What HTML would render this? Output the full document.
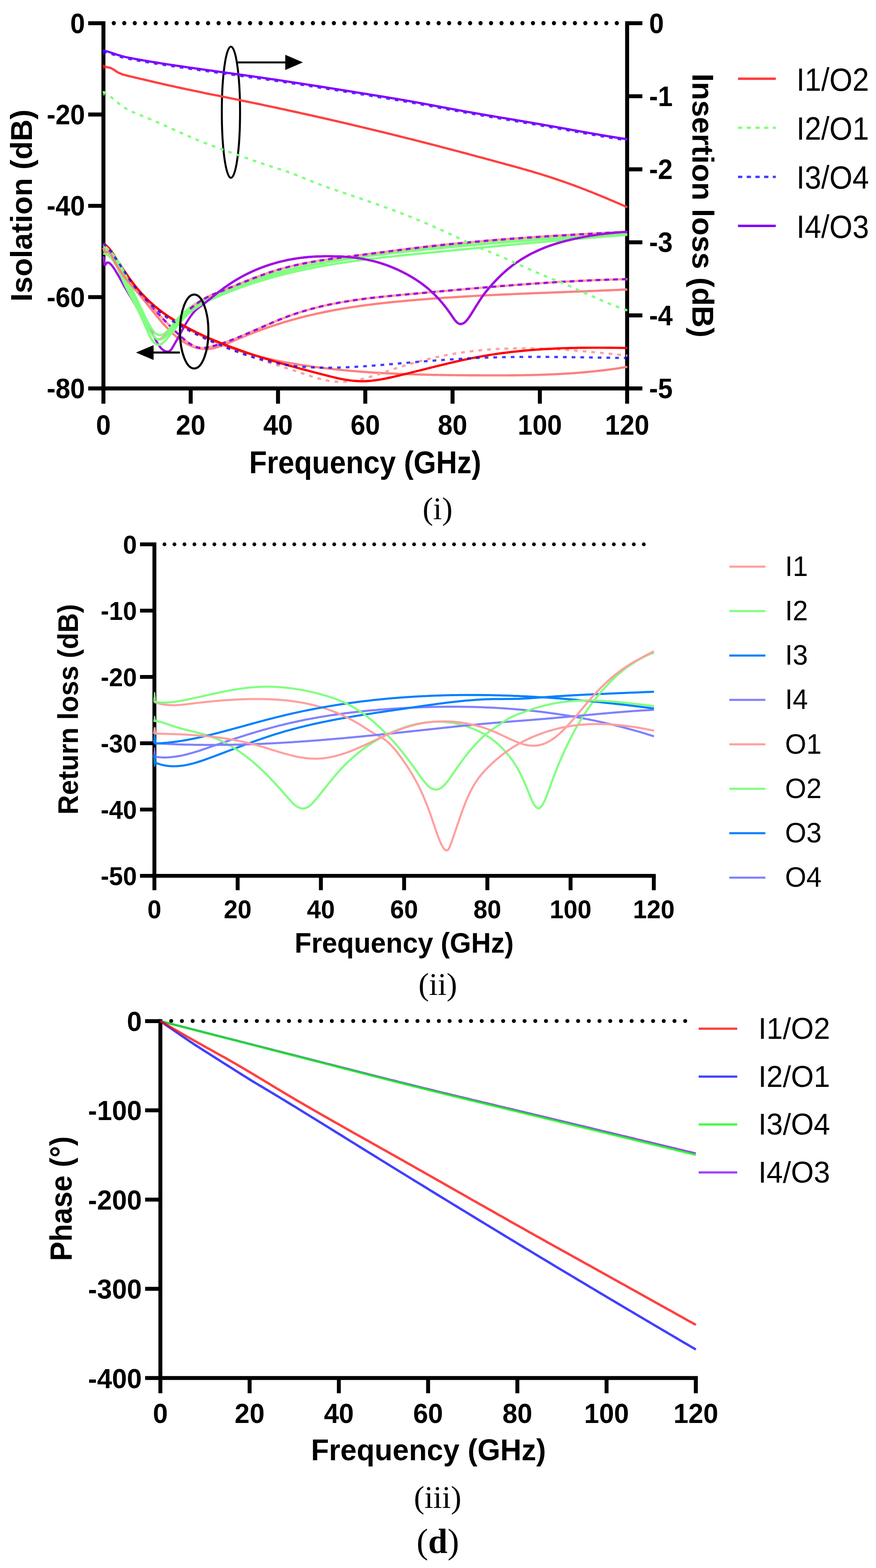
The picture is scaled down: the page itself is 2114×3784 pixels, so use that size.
<!DOCTYPE html>
<html lang="en">
<head>
<meta charset="utf-8">
<title>Figure (d)</title>
<style>
html,body{margin:0;padding:0;background:#fff;}
body{width:2114px;height:3784px;overflow:hidden;}
svg{display:block;}
text{fill:#000;}
</style>
</head>
<body>
<svg width="2114" height="3784" viewBox="0 0 2114 3784">
<rect width="2114" height="3784" fill="#fff"/>
<g fill="#000">
<ellipse cx="274.6" cy="55.8" rx="5" ry="5.18"/>
<ellipse cx="299.9" cy="55.8" rx="5" ry="5.18"/>
<ellipse cx="325.2" cy="55.8" rx="5" ry="5.18"/>
<ellipse cx="350.5" cy="55.8" rx="5" ry="5.18"/>
<ellipse cx="375.8" cy="55.8" rx="5" ry="5.18"/>
<ellipse cx="401.1" cy="55.8" rx="5" ry="5.18"/>
<ellipse cx="426.3" cy="55.8" rx="5" ry="5.18"/>
<ellipse cx="451.6" cy="55.8" rx="5" ry="5.18"/>
<ellipse cx="476.9" cy="55.8" rx="5" ry="5.18"/>
<ellipse cx="502.2" cy="55.8" rx="5" ry="5.18"/>
<ellipse cx="527.5" cy="55.8" rx="5" ry="5.18"/>
<ellipse cx="552.8" cy="55.8" rx="5" ry="5.18"/>
<ellipse cx="578.1" cy="55.8" rx="5" ry="5.18"/>
<ellipse cx="603.4" cy="55.8" rx="5" ry="5.18"/>
<ellipse cx="628.7" cy="55.8" rx="5" ry="5.18"/>
<ellipse cx="654.0" cy="55.8" rx="5" ry="5.18"/>
<ellipse cx="679.2" cy="55.8" rx="5" ry="5.18"/>
<ellipse cx="704.5" cy="55.8" rx="5" ry="5.18"/>
<ellipse cx="729.8" cy="55.8" rx="5" ry="5.18"/>
<ellipse cx="755.1" cy="55.8" rx="5" ry="5.18"/>
<ellipse cx="780.4" cy="55.8" rx="5" ry="5.18"/>
<ellipse cx="805.7" cy="55.8" rx="5" ry="5.18"/>
<ellipse cx="831.0" cy="55.8" rx="5" ry="5.18"/>
<ellipse cx="856.3" cy="55.8" rx="5" ry="5.18"/>
<ellipse cx="881.6" cy="55.8" rx="5" ry="5.18"/>
<ellipse cx="906.8" cy="55.8" rx="5" ry="5.18"/>
<ellipse cx="932.1" cy="55.8" rx="5" ry="5.18"/>
<ellipse cx="957.4" cy="55.8" rx="5" ry="5.18"/>
<ellipse cx="982.7" cy="55.8" rx="5" ry="5.18"/>
<ellipse cx="1008.0" cy="55.8" rx="5" ry="5.18"/>
<ellipse cx="1033.3" cy="55.8" rx="5" ry="5.18"/>
<ellipse cx="1058.6" cy="55.8" rx="5" ry="5.18"/>
<ellipse cx="1083.9" cy="55.8" rx="5" ry="5.18"/>
<ellipse cx="1109.2" cy="55.8" rx="5" ry="5.18"/>
<ellipse cx="1134.5" cy="55.8" rx="5" ry="5.18"/>
<ellipse cx="1159.7" cy="55.8" rx="5" ry="5.18"/>
<ellipse cx="1185.0" cy="55.8" rx="5" ry="5.18"/>
<ellipse cx="1210.3" cy="55.8" rx="5" ry="5.18"/>
<ellipse cx="1235.6" cy="55.8" rx="5" ry="5.18"/>
<ellipse cx="1260.9" cy="55.8" rx="5" ry="5.18"/>
<ellipse cx="1286.2" cy="55.8" rx="5" ry="5.18"/>
<ellipse cx="1311.5" cy="55.8" rx="5" ry="5.18"/>
<ellipse cx="1336.8" cy="55.8" rx="5" ry="5.18"/>
<ellipse cx="1362.1" cy="55.8" rx="5" ry="5.18"/>
<ellipse cx="1387.4" cy="55.8" rx="5" ry="5.18"/>
<ellipse cx="1412.6" cy="55.8" rx="5" ry="5.18"/>
<ellipse cx="1437.9" cy="55.8" rx="5" ry="5.18"/>
<ellipse cx="1463.2" cy="55.8" rx="5" ry="5.18"/>
<ellipse cx="1488.5" cy="55.8" rx="5" ry="5.18"/>
</g>
<g stroke="#000" stroke-width="9.6" fill="none" stroke-linecap="butt">
<path d="M249.6,51.2 V942.2"/>
<path d="M244.8,937.4 H1518.2"/>
<path d="M212.8,56.0 H249.6"/>
<path d="M212.8,276.4 H249.6"/>
<path d="M212.8,496.7 H249.6"/>
<path d="M212.8,717.0 H249.6"/>
<path d="M212.8,937.4 H249.6"/>
<path d="M249.6,937.4 V974.2"/>
<path d="M460.2,937.4 V974.2"/>
<path d="M670.9,937.4 V974.2"/>
<path d="M881.5,937.4 V974.2"/>
<path d="M1092.1,937.4 V974.2"/>
<path d="M1302.8,937.4 V974.2"/>
<path d="M1513.4,937.4 V974.2"/>
<path d="M1513.4,51.2 V942.2"/>
<path d="M1513.4,56.0 H1550.2"/>
<path d="M1513.4,232.3 H1550.2"/>
<path d="M1513.4,408.6 H1550.2"/>
<path d="M1513.4,584.8 H1550.2"/>
<path d="M1513.4,761.1 H1550.2"/>
<path d="M1513.4,937.4 H1550.2"/>
</g>
<ellipse cx="557.3" cy="270.9" rx="22" ry="158.2" fill="none" stroke="#000" stroke-width="4.8"/>
<path d="M248.8,598.5 253.7,608.1 255.0,608.6 258.6,607.8 263.0,607.5 263.5,607.8 268.3,614.8 271.3,620.9 273.2,624.8 278.1,634.1 281.7,640.4 283.0,642.6 287.9,650.5 292.1,656.8 292.8,657.7 297.6,664.5 302.5,670.8 307.4,676.8 312.3,682.6 317.2,688.2 322.1,693.8 326.9,699.5 327.1,699.6 331.8,705.2 336.7,711.1 341.6,717.0 345.2,721.4 346.5,723.1 351.4,729.2 356.3,735.3 361.1,741.4 363.2,744.0 366.0,747.5 370.9,753.6 375.8,759.6 380.7,765.5 381.3,766.2 385.6,771.3 390.4,777.0 395.3,782.6 399.4,787.0 400.2,788.0 405.1,793.2 410.0,798.2 414.9,802.9 417.4,805.3 419.7,807.4 424.6,811.7 429.5,815.6 434.4,819.3 435.5,820.1 439.3,822.8 444.2,825.9 449.1,828.8 453.6,831.2 453.9,831.4 458.8,833.8 463.7,835.8 468.6,837.6 471.6,838.6 473.5,839.1 478.4,840.3 483.2,841.3 488.1,841.9 489.7,842.1 493.0,842.3 497.9,842.4 502.8,842.2 507.7,841.7 507.8,841.6 512.5,840.9 517.4,839.8 522.3,838.5 525.8,837.5 527.2,837.0 532.1,835.4 537.0,833.6 541.9,831.6 543.9,830.8 546.7,829.6 551.6,827.6 556.5,825.5 560.0,824.0 561.4,823.4 566.3,821.3 571.2,819.2 576.0,817.2 580.9,815.2 585.8,813.2 590.7,811.2 595.6,809.2 600.5,807.3 605.3,805.4 610.2,803.5 615.1,801.7 620.0,799.8 624.9,798.0 629.8,796.2 634.6,794.5 639.5,792.7 644.4,791.0 649.3,789.3 654.2,787.7 659.1,786.0 660.0,785.7 664.0,784.4 668.8,782.8 673.7,781.3 678.6,779.7 683.5,778.2 688.4,776.7 689.9,776.3 693.3,775.3 698.1,773.9 703.0,772.5 707.9,771.1 712.8,769.8 717.7,768.4 719.8,767.9 722.6,767.1 727.4,765.9 732.3,764.6 737.2,763.4 742.1,762.2 747.0,761.0 749.6,760.4 751.9,759.9 756.8,758.8 761.6,757.7 766.5,756.6 771.4,755.5 776.3,754.5 779.5,753.8 781.2,753.5 786.1,752.5 790.9,751.5 795.8,750.5 800.7,749.6 805.6,748.7 809.4,748.0 810.5,747.8 815.4,746.9 820.2,746.0 825.1,745.2 830.0,744.4 834.9,743.6 839.3,742.8 839.8,742.8 844.7,742.0 849.6,741.2 854.4,740.5 859.3,739.8 864.2,739.1 869.1,738.4 869.2,738.4 874.0,737.7 878.9,737.0 883.7,736.4 888.6,735.7 893.5,735.1 898.4,734.5 899.1,734.4 903.3,733.9 908.2,733.3 913.0,732.7 917.9,732.2 922.8,731.6 927.7,731.1 928.9,731.0 932.6,730.6 937.5,730.0 942.4,729.5 947.2,729.0 952.1,728.5 957.0,728.1 958.8,727.9 961.9,727.6 966.8,727.1 971.7,726.7 976.5,726.2 981.4,725.8 986.3,725.3 988.7,725.1 991.2,724.9 996.1,724.5 1001.0,724.1 1005.8,723.7 1010.7,723.3 1015.6,722.9 1018.6,722.6 1020.5,722.5 1025.4,722.1 1030.3,721.7 1035.2,721.3 1040.0,721.0 1044.9,720.6 1048.5,720.4 1049.8,720.3 1054.7,719.9 1059.6,719.6 1064.5,719.2 1069.3,718.9 1074.2,718.5 1079.1,718.2 1084.0,717.9 1088.9,717.6 1090.0,717.5 1093.8,717.3 1098.6,717.0 1103.5,716.7 1108.4,716.4 1113.3,716.1 1118.2,715.8 1123.1,715.5 1128.0,715.2 1132.8,714.9 1137.7,714.6 1142.6,714.4 1147.5,714.1 1149.8,714.0 1152.4,713.8 1157.3,713.6 1162.1,713.3 1167.0,713.1 1171.9,712.8 1176.8,712.6 1181.7,712.3 1186.6,712.1 1191.4,711.9 1196.3,711.6 1201.2,711.4 1206.1,711.2 1209.5,711.0 1211.0,710.9 1215.9,710.7 1220.7,710.5 1225.6,710.3 1230.5,710.1 1235.4,709.9 1240.3,709.6 1245.2,709.4 1250.1,709.2 1254.9,709.0 1259.8,708.8 1264.7,708.6 1269.3,708.4 1269.6,708.4 1274.5,708.2 1279.4,708.0 1284.2,707.8 1289.1,707.6 1294.0,707.4 1298.9,707.2 1303.8,707.0 1308.7,706.8 1313.5,706.7 1318.4,706.5 1323.3,706.3 1328.2,706.1 1329.1,706.1 1333.1,705.9 1338.0,705.7 1342.9,705.5 1347.7,705.3 1352.6,705.2 1357.5,705.0 1362.4,704.8 1367.3,704.6 1372.2,704.4 1377.0,704.2 1381.9,704.0 1386.8,703.9 1388.8,703.8 1391.7,703.7 1396.6,703.5 1401.5,703.3 1406.3,703.1 1411.2,702.9 1416.1,702.7 1421.0,702.5 1425.9,702.3 1430.8,702.1 1435.7,701.9 1440.5,701.7 1445.4,701.5 1448.6,701.4 1450.3,701.3 1455.2,701.1 1460.1,700.9 1465.0,700.7 1469.8,700.5 1474.7,700.3 1479.6,700.1 1484.5,699.9 1489.4,699.7 1494.3,699.5 1499.1,699.2 1504.0,699.0 1508.9,698.8 1513.8,698.6" fill="none" stroke="#FF8080" stroke-width="5.4" stroke-linejoin="round"/>
<path d="M248.8,590.3 253.7,592.5 258.6,596.3 262.8,600.8 263.5,601.6 268.3,607.9 273.2,615.0 275.3,618.2 278.1,622.6 283.0,630.4 286.4,635.9 287.9,638.2 292.8,645.8 297.6,653.1 299.0,655.1 302.5,660.2 307.3,666.9 307.4,667.1 312.3,673.8 317.2,680.4 322.1,686.8 326.9,693.0 331.8,699.2 336.1,704.5 336.7,705.2 341.6,711.2 346.5,717.1 351.4,722.9 354.2,726.2 356.3,728.6 361.1,734.2 366.0,739.7 370.9,745.2 372.3,746.7 375.8,750.6 380.7,755.9 385.6,761.2 390.3,766.3 390.4,766.4 395.3,771.5 400.2,776.5 405.1,781.5 408.4,784.9 410.0,786.5 414.9,791.3 419.7,796.1 424.6,800.9 426.5,802.6 429.5,805.6 434.4,810.2 439.3,814.6 444.2,818.9 444.5,819.2 449.1,822.9 453.9,826.6 458.8,830.0 462.6,832.3 463.7,832.9 468.6,835.4 473.5,837.4 478.4,838.8 480.7,839.3 483.2,839.6 488.1,839.9 493.0,839.6 495.1,839.3 497.9,838.9 502.8,838.0 507.7,836.8 507.8,836.8 512.5,835.6 517.4,834.3 522.3,832.9 525.8,831.9 527.2,831.5 532.1,830.0 537.0,828.4 541.9,826.7 543.9,826.0 546.7,825.0 551.6,823.3 556.5,821.4 560.0,820.1 561.4,819.6 566.3,817.7 571.2,815.8 576.0,813.8 580.9,811.8 585.8,809.7 590.7,807.7 595.6,805.6 600.5,803.5 605.3,801.3 610.2,799.2 615.1,797.0 620.0,794.9 624.9,792.7 629.8,790.6 634.6,788.4 639.5,786.3 644.4,784.1 649.3,782.0 654.2,779.9 659.1,777.8 660.0,777.4 664.0,775.8 668.8,773.7 673.7,771.7 678.6,769.8 683.5,767.9 688.4,766.0 689.9,765.4 693.3,764.1 698.1,762.3 703.0,760.6 707.9,758.9 712.8,757.2 717.7,755.6 719.8,754.9 722.6,754.0 727.4,752.5 732.3,751.0 737.2,749.6 742.1,748.1 747.0,746.8 749.6,746.0 751.9,745.4 756.8,744.1 761.6,742.8 766.5,741.6 771.4,740.4 776.3,739.2 779.5,738.5 781.2,738.1 786.1,737.0 790.9,735.9 795.8,734.9 800.7,733.9 805.6,732.9 809.4,732.2 810.5,732.0 815.4,731.0 820.2,730.1 825.1,729.3 830.0,728.4 834.9,727.6 839.3,726.9 839.8,726.8 844.7,726.0 849.6,725.3 854.4,724.5 859.3,723.8 864.2,723.1 869.1,722.5 869.2,722.4 874.0,721.8 878.9,721.2 883.7,720.5 888.6,719.9 893.5,719.3 898.4,718.8 899.1,718.7 903.3,718.2 908.2,717.7 913.0,717.1 917.9,716.6 922.8,716.1 927.7,715.6 928.9,715.5 932.6,715.1 937.5,714.6 942.4,714.1 947.2,713.7 952.1,713.2 957.0,712.7 958.8,712.6 961.9,712.3 966.8,711.8 971.7,711.4 976.5,710.9 981.4,710.5 986.3,710.0 988.7,709.8 991.2,709.6 996.1,709.1 1001.0,708.7 1005.8,708.3 1010.7,707.8 1015.6,707.4 1018.6,707.1 1020.5,706.9 1025.4,706.5 1030.3,706.0 1035.2,705.6 1040.0,705.1 1044.9,704.7 1048.5,704.4 1049.8,704.3 1054.7,703.8 1059.6,703.4 1064.5,702.9 1069.3,702.5 1074.2,702.1 1079.1,701.6 1084.0,701.2 1088.9,700.7 1090.0,700.6 1093.8,700.3 1098.6,699.9 1103.5,699.4 1108.4,699.0 1113.3,698.6 1118.2,698.1 1123.1,697.7 1128.0,697.3 1132.8,696.9 1137.7,696.4 1142.6,696.0 1147.5,695.6 1149.8,695.4 1152.4,695.2 1157.3,694.8 1162.1,694.3 1167.0,693.9 1171.9,693.5 1176.8,693.1 1181.7,692.7 1186.6,692.3 1191.4,691.9 1196.3,691.5 1201.2,691.1 1206.1,690.7 1209.5,690.4 1211.0,690.3 1215.9,689.9 1220.7,689.5 1225.6,689.2 1230.5,688.8 1235.4,688.4 1240.3,688.0 1245.2,687.6 1250.1,687.3 1254.9,686.9 1259.8,686.5 1264.7,686.2 1269.3,685.9 1269.6,685.8 1274.5,685.5 1279.4,685.1 1284.2,684.8 1289.1,684.4 1294.0,684.1 1298.9,683.8 1303.8,683.4 1308.7,683.1 1313.5,682.8 1318.4,682.5 1323.3,682.1 1328.2,681.8 1329.1,681.8 1333.1,681.5 1338.0,681.2 1342.9,680.9 1347.7,680.6 1352.6,680.3 1357.5,680.1 1362.4,679.8 1367.3,679.5 1372.2,679.2 1377.0,679.0 1381.9,678.7 1386.8,678.4 1388.8,678.3 1391.7,678.2 1396.6,677.9 1401.5,677.7 1406.3,677.5 1411.2,677.2 1416.1,677.0 1421.0,676.8 1425.9,676.6 1430.8,676.3 1435.7,676.1 1440.5,675.9 1445.4,675.7 1448.6,675.6 1450.3,675.6 1455.2,675.4 1460.1,675.2 1465.0,675.0 1469.8,674.9 1474.7,674.7 1479.6,674.6 1484.5,674.4 1489.4,674.3 1494.3,674.1 1499.1,674.0 1504.0,673.9 1508.9,673.8 1513.8,673.7" fill="none" stroke="#FFA0A0" stroke-width="5.4" stroke-linejoin="round"/>
<path d="M248.8,590.3 253.7,592.5 258.6,596.3 262.8,600.8 263.5,601.6 268.3,607.9 273.2,615.0 275.3,618.2 278.1,622.6 283.0,630.4 286.4,635.9 287.9,638.2 292.8,645.8 297.6,653.1 299.0,655.1 302.5,660.2 307.3,666.9 307.4,667.1 312.3,673.8 317.2,680.4 322.1,686.8 326.9,693.0 331.8,699.2 336.1,704.5 336.7,705.2 341.6,711.2 346.5,717.1 351.4,722.9 354.2,726.2 356.3,728.6 361.1,734.2 366.0,739.7 370.9,745.2 372.3,746.7 375.8,750.6 380.7,755.9 385.6,761.2 390.3,766.3 390.4,766.4 395.3,771.5 400.2,776.5 405.1,781.5 408.4,784.9 410.0,786.5 414.9,791.3 419.7,796.1 424.6,800.9 426.5,802.6 429.5,805.6 434.4,810.2 439.3,814.6 444.2,818.9 444.5,819.2 449.1,822.9 453.9,826.6 458.8,830.0 462.6,832.3 463.7,832.9 468.6,835.4 473.5,837.4 478.4,838.8 480.7,839.3 483.2,839.6 488.1,839.9 493.0,839.6 495.1,839.3 497.9,838.9 502.8,838.0 507.7,836.8 507.8,836.8 512.5,835.6 517.4,834.3 522.3,832.9 525.8,831.9 527.2,831.5 532.1,830.0 537.0,828.4 541.9,826.7 543.9,826.0 546.7,825.0 551.6,823.3 556.5,821.4 560.0,820.1 561.4,819.6 566.3,817.7 571.2,815.8 576.0,813.8 580.9,811.8 585.8,809.7 590.7,807.7 595.6,805.6 600.5,803.5 605.3,801.3 610.2,799.2 615.1,797.0 620.0,794.9 624.9,792.7 629.8,790.6 634.6,788.4 639.5,786.3 644.4,784.1 649.3,782.0 654.2,779.9 659.1,777.8 660.0,777.4 664.0,775.8 668.8,773.7 673.7,771.7 678.6,769.8 683.5,767.9 688.4,766.0 689.9,765.4 693.3,764.1 698.1,762.3 703.0,760.6 707.9,758.9 712.8,757.2 717.7,755.6 719.8,754.9 722.6,754.0 727.4,752.5 732.3,751.0 737.2,749.6 742.1,748.1 747.0,746.8 749.6,746.0 751.9,745.4 756.8,744.1 761.6,742.8 766.5,741.6 771.4,740.4 776.3,739.2 779.5,738.5 781.2,738.1 786.1,737.0 790.9,735.9 795.8,734.9 800.7,733.9 805.6,732.9 809.4,732.2 810.5,732.0 815.4,731.0 820.2,730.1 825.1,729.3 830.0,728.4 834.9,727.6 839.3,726.9 839.8,726.8 844.7,726.0 849.6,725.3 854.4,724.5 859.3,723.8 864.2,723.1 869.1,722.5 869.2,722.4 874.0,721.8 878.9,721.2 883.7,720.5 888.6,719.9 893.5,719.3 898.4,718.8 899.1,718.7 903.3,718.2 908.2,717.7 913.0,717.1 917.9,716.6 922.8,716.1 927.7,715.6 928.9,715.5 932.6,715.1 937.5,714.6 942.4,714.1 947.2,713.7 952.1,713.2 957.0,712.7 958.8,712.6 961.9,712.3 966.8,711.8 971.7,711.4 976.5,710.9 981.4,710.5 986.3,710.0 988.7,709.8 991.2,709.6 996.1,709.1 1001.0,708.7 1005.8,708.3 1010.7,707.8 1015.6,707.4 1018.6,707.1 1020.5,706.9 1025.4,706.5 1030.3,706.0 1035.2,705.6 1040.0,705.1 1044.9,704.7 1048.5,704.4 1049.8,704.3 1054.7,703.8 1059.6,703.4 1064.5,702.9 1069.3,702.5 1074.2,702.1 1079.1,701.6 1084.0,701.2 1088.9,700.7 1090.0,700.6 1093.8,700.3 1098.6,699.9 1103.5,699.4 1108.4,699.0 1113.3,698.6 1118.2,698.1 1123.1,697.7 1128.0,697.3 1132.8,696.9 1137.7,696.4 1142.6,696.0 1147.5,695.6 1149.8,695.4 1152.4,695.2 1157.3,694.8 1162.1,694.3 1167.0,693.9 1171.9,693.5 1176.8,693.1 1181.7,692.7 1186.6,692.3 1191.4,691.9 1196.3,691.5 1201.2,691.1 1206.1,690.7 1209.5,690.4 1211.0,690.3 1215.9,689.9 1220.7,689.5 1225.6,689.2 1230.5,688.8 1235.4,688.4 1240.3,688.0 1245.2,687.6 1250.1,687.3 1254.9,686.9 1259.8,686.5 1264.7,686.2 1269.3,685.9 1269.6,685.8 1274.5,685.5 1279.4,685.1 1284.2,684.8 1289.1,684.4 1294.0,684.1 1298.9,683.8 1303.8,683.4 1308.7,683.1 1313.5,682.8 1318.4,682.5 1323.3,682.1 1328.2,681.8 1329.1,681.8 1333.1,681.5 1338.0,681.2 1342.9,680.9 1347.7,680.6 1352.6,680.3 1357.5,680.1 1362.4,679.8 1367.3,679.5 1372.2,679.2 1377.0,679.0 1381.9,678.7 1386.8,678.4 1388.8,678.3 1391.7,678.2 1396.6,677.9 1401.5,677.7 1406.3,677.5 1411.2,677.2 1416.1,677.0 1421.0,676.8 1425.9,676.6 1430.8,676.3 1435.7,676.1 1440.5,675.9 1445.4,675.7 1448.6,675.6 1450.3,675.6 1455.2,675.4 1460.1,675.2 1465.0,675.0 1469.8,674.9 1474.7,674.7 1479.6,674.6 1484.5,674.4 1489.4,674.3 1494.3,674.1 1499.1,674.0 1504.0,673.9 1508.9,673.8 1513.8,673.7" fill="none" stroke="#A010E0" stroke-width="5.4" stroke-linejoin="round" stroke-dasharray="11.5 9.5"/>
<path d="M248.8,589.4 253.7,590.9 258.6,594.3 262.8,598.6 263.5,599.3 268.3,605.5 273.2,612.7 275.3,616.0 278.1,620.5 283.0,628.6 286.4,634.2 287.9,636.6 292.8,644.5 297.6,652.1 299.0,654.2 302.5,659.4 307.3,666.4 307.4,666.6 312.3,673.4 317.2,680.0 318.1,681.2 322.1,686.4 326.9,692.5 331.8,698.3 336.1,703.3 336.7,704.0 341.6,709.4 346.5,714.6 351.4,719.6 354.2,722.4 356.3,724.4 361.1,729.0 366.0,733.5 370.9,737.7 372.3,738.9 375.8,741.9 380.7,745.8 385.6,749.7 390.3,753.3 390.4,753.4 395.3,757.0 400.2,760.4 405.1,763.8 408.4,766.0 410.0,767.1 414.9,770.3 419.7,773.4 424.6,776.4 426.5,777.5 429.5,779.4 434.4,782.3 439.3,785.2 444.2,788.0 444.5,788.2 449.1,790.8 453.9,793.5 458.8,796.2 462.6,798.2 463.7,798.8 468.6,801.3 473.5,803.8 478.4,806.3 480.7,807.4 483.2,808.7 488.1,811.1 493.0,813.4 497.9,815.7 498.7,816.0 502.8,817.9 507.7,820.1 512.5,822.2 516.8,824.0 517.4,824.3 522.3,826.3 527.2,828.3 532.1,830.3 534.9,831.4 537.0,832.2 541.9,834.1 546.7,835.9 551.6,837.7 556.5,839.5 560.0,840.7 561.4,841.2 566.3,842.9 571.2,844.5 576.0,846.1 580.9,847.7 585.8,849.2 590.7,850.7 595.6,852.2 600.5,853.6 605.3,855.0 610.2,856.3 615.1,857.7 620.0,859.0 624.9,860.2 629.8,861.5 634.6,862.7 639.5,863.9 644.4,865.0 649.3,866.1 654.2,867.2 659.1,868.3 660.0,868.5 664.0,869.3 668.8,870.4 673.7,871.4 678.6,872.3 683.5,873.3 688.4,874.2 689.9,874.5 693.3,875.1 698.1,876.0 703.0,876.8 707.9,877.7 712.8,878.5 717.7,879.3 719.8,879.6 722.6,880.1 727.4,880.8 732.3,881.6 737.2,882.3 742.1,883.0 747.0,883.7 749.6,884.1 751.9,884.4 756.8,885.1 761.6,885.7 766.5,886.3 771.4,887.0 776.3,887.6 779.5,888.0 781.2,888.2 786.1,888.8 790.9,889.3 795.8,889.9 800.7,890.4 805.6,891.0 809.4,891.4 810.5,891.5 815.4,892.0 820.2,892.5 825.1,893.0 830.0,893.4 834.9,893.9 839.3,894.3 839.8,894.3 844.7,894.8 849.6,895.2 854.4,895.6 859.3,896.0 864.2,896.4 869.1,896.8 869.2,896.8 874.0,897.2 878.9,897.5 883.7,897.9 888.6,898.2 893.5,898.5 898.4,898.9 899.1,898.9 903.3,899.2 908.2,899.5 913.0,899.7 917.9,900.0 922.8,900.3 927.7,900.6 928.9,900.6 932.6,900.8 937.5,901.1 942.4,901.3 947.2,901.5 952.1,901.8 957.0,902.0 958.8,902.0 961.9,902.2 966.8,902.4 971.7,902.6 976.5,902.7 981.4,902.9 986.3,903.1 988.7,903.2 991.2,903.2 996.1,903.4 1001.0,903.6 1005.8,903.7 1010.7,903.8 1015.6,904.0 1018.6,904.0 1020.5,904.1 1025.4,904.2 1030.3,904.3 1035.2,904.4 1040.0,904.5 1044.9,904.6 1048.5,904.7 1049.8,904.7 1054.7,904.8 1059.6,904.9 1064.5,905.0 1069.3,905.0 1074.2,905.1 1079.1,905.2 1084.0,905.2 1088.9,905.3 1090.0,905.3 1093.8,905.4 1098.6,905.4 1103.5,905.5 1108.4,905.5 1113.3,905.5 1118.2,905.6 1123.1,905.6 1128.0,905.7 1132.8,905.7 1137.7,905.7 1142.6,905.8 1147.5,905.8 1149.8,905.8 1152.4,905.8 1157.3,905.8 1162.1,905.9 1167.0,905.9 1171.9,905.9 1176.8,905.9 1181.7,905.9 1186.6,905.9 1191.4,905.9 1196.3,905.9 1201.2,905.9 1206.1,905.9 1209.5,905.9 1211.0,905.9 1215.9,905.9 1220.7,905.9 1225.6,905.9 1230.5,905.8 1235.4,905.8 1239.4,905.8 1240.3,905.7 1245.2,905.7 1250.1,905.6 1254.9,905.6 1259.8,905.5 1264.7,905.4 1269.3,905.3 1269.6,905.3 1274.5,905.2 1279.4,905.1 1284.2,905.0 1289.1,904.9 1294.0,904.8 1298.9,904.6 1299.2,904.6 1303.8,904.5 1308.7,904.3 1313.5,904.2 1318.4,904.0 1323.3,903.8 1328.2,903.6 1329.1,903.6 1333.1,903.4 1338.0,903.2 1342.9,902.9 1347.7,902.7 1352.6,902.4 1357.5,902.2 1358.9,902.1 1362.4,901.9 1367.3,901.6 1372.2,901.3 1377.0,900.9 1381.9,900.6 1386.8,900.3 1388.8,900.1 1391.7,899.9 1396.6,899.5 1401.5,899.1 1406.3,898.7 1411.2,898.3 1416.1,897.8 1418.7,897.6 1421.0,897.4 1425.9,896.9 1430.8,896.4 1435.7,895.9 1440.5,895.4 1445.4,894.8 1448.6,894.5 1450.3,894.3 1455.2,893.7 1460.1,893.1 1465.0,892.5 1469.8,891.9 1474.7,891.2 1478.5,890.7 1479.6,890.6 1484.5,889.9 1489.4,889.2 1494.3,888.4 1499.1,887.7 1504.0,886.9 1508.9,886.1 1513.8,885.3" fill="none" stroke="#FF8080" stroke-width="5.4" stroke-linejoin="round"/>
<path d="M248.8,589.0 253.7,592.5 258.6,597.0 262.8,601.5 263.5,602.3 268.3,608.3 273.2,615.0 275.3,617.9 278.1,622.1 283.0,629.5 286.4,634.8 287.9,637.2 292.8,644.9 297.6,652.6 299.0,654.7 302.5,660.2 307.3,667.3 307.4,667.5 312.3,674.6 317.2,681.5 318.1,682.8 322.1,688.2 326.9,694.7 331.8,700.9 336.1,706.1 336.7,706.8 341.6,712.5 346.5,718.0 351.4,723.2 354.2,726.2 356.3,728.3 361.1,733.1 366.0,737.7 370.9,742.1 372.3,743.3 375.8,746.3 380.7,750.4 385.6,754.2 390.3,757.9 390.4,758.0 395.3,761.6 400.2,765.0 405.1,768.4 408.4,770.5 410.0,771.6 414.9,774.7 419.7,777.7 424.6,780.6 426.5,781.7 429.5,783.5 434.4,786.3 439.3,789.0 444.2,791.7 444.5,791.9 449.1,794.3 453.9,796.9 458.8,799.5 462.6,801.4 463.7,802.0 468.6,804.5 473.5,807.0 478.4,809.4 480.7,810.5 483.2,811.8 488.1,814.1 493.0,816.4 497.9,818.7 498.7,819.1 502.8,821.0 507.7,823.2 512.5,825.4 516.8,827.2 517.4,827.5 522.3,829.6 527.2,831.7 532.1,833.8 534.9,834.9 537.0,835.8 541.9,837.8 546.7,839.7 551.6,841.6 556.5,843.5 560.0,844.9 561.4,845.4 566.3,847.2 571.2,849.0 576.0,850.8 580.9,852.6 585.8,854.3 590.7,856.0 595.6,857.7 600.5,859.3 605.3,861.0 610.2,862.6 615.1,864.2 620.0,865.8 624.9,867.4 629.8,868.9 634.6,870.5 639.5,872.0 644.4,873.6 649.3,875.1 654.2,876.7 659.1,878.2 660.0,878.5 664.0,879.7 668.8,881.3 673.7,882.8 678.6,884.3 683.5,885.9 688.4,887.4 689.9,887.9 693.3,889.0 698.1,890.6 703.0,892.1 707.9,893.7 712.8,895.3 717.7,897.0 719.8,897.7 722.6,898.6 727.4,900.3 732.3,901.9 737.2,903.6 742.1,905.2 747.0,906.8 749.6,907.7 751.9,908.4 756.8,909.9 761.6,911.4 766.5,912.8 771.4,914.1 776.3,915.4 779.5,916.2 781.2,916.5 786.1,917.6 790.9,918.6 795.8,919.4 800.7,920.1 805.6,920.7 809.4,921.0 810.5,921.1 815.4,921.3 820.2,921.5 825.1,921.4 830.0,921.3 833.3,921.1 834.9,921.0 839.8,920.6 844.7,920.0 849.6,919.4 854.2,918.6 854.4,918.6 859.3,917.8 864.2,916.8 869.1,915.7 869.2,915.7 874.0,914.6 878.9,913.4 883.7,912.1 888.6,910.8 893.5,909.4 898.4,907.9 899.1,907.7 903.3,906.4 908.2,904.8 913.0,903.2 917.9,901.6 922.8,900.0 927.7,898.3 928.9,897.9 932.6,896.7 937.5,895.0 942.4,893.3 947.2,891.6 952.1,890.0 957.0,888.4 958.8,887.8 961.9,886.8 966.8,885.2 971.7,883.6 976.5,882.1 981.4,880.6 986.3,879.2 988.7,878.5 991.2,877.7 996.1,876.3 1001.0,874.9 1005.8,873.6 1010.7,872.3 1015.6,871.0 1018.6,870.2 1020.5,869.7 1025.4,868.5 1030.3,867.3 1035.2,866.1 1040.0,864.9 1044.9,863.8 1048.5,863.0 1049.8,862.7 1054.7,861.6 1059.6,860.6 1064.5,859.6 1069.3,858.6 1074.2,857.6 1079.1,856.7 1084.0,855.8 1088.9,854.9 1090.0,854.7 1093.8,854.0 1098.6,853.2 1103.5,852.4 1108.4,851.7 1113.3,850.9 1118.2,850.2 1119.9,850.0 1123.1,849.5 1128.0,848.9 1132.8,848.2 1137.7,847.6 1142.6,847.0 1147.5,846.5 1149.8,846.2 1152.4,846.0 1157.3,845.5 1162.1,845.0 1167.0,844.5 1171.9,844.1 1176.8,843.7 1179.6,843.5 1181.7,843.4 1186.6,843.0 1191.4,842.7 1196.3,842.4 1201.2,842.1 1206.1,841.9 1209.5,841.7 1211.0,841.6 1215.9,841.4 1220.7,841.2 1225.6,841.1 1230.5,840.9 1235.4,840.8 1239.4,840.8 1240.3,840.7 1245.2,840.7 1250.1,840.6 1254.9,840.6 1259.8,840.6 1264.7,840.6 1269.3,840.6 1269.6,840.6 1274.5,840.6 1279.4,840.7 1284.2,840.8 1289.1,840.8 1294.0,841.0 1298.9,841.1 1299.2,841.1 1303.8,841.2 1308.7,841.4 1313.5,841.6 1318.4,841.8 1323.3,842.0 1328.2,842.2 1329.1,842.2 1333.1,842.4 1338.0,842.7 1342.9,842.9 1347.7,843.2 1352.6,843.5 1357.5,843.8 1358.9,843.9 1362.4,844.1 1367.3,844.5 1372.2,844.8 1377.0,845.1 1381.9,845.5 1386.8,845.9 1388.8,846.0 1391.7,846.3 1396.6,846.7 1401.5,847.1 1406.3,847.5 1411.2,847.9 1416.1,848.3 1418.7,848.6 1421.0,848.8 1425.9,849.2 1430.8,849.7 1435.7,850.1 1440.5,850.6 1445.4,851.1 1448.6,851.4 1450.3,851.5 1455.2,852.0 1460.1,852.5 1465.0,853.0 1469.8,853.5 1474.7,854.0 1478.5,854.4 1479.6,854.6 1484.5,855.1 1489.4,855.6 1494.3,856.1 1499.1,856.6 1504.0,857.2 1508.9,857.7 1513.8,858.2" fill="none" stroke="#FFA0A0" stroke-width="5.4" stroke-linejoin="round" stroke-dasharray="9 12"/>
<path d="M248.8,619.0 250.4,622.1 252.5,638.7 253.7,639.8 255.0,637.6 258.0,634.0 258.6,633.7 261.5,633.6 263.5,634.5 268.0,638.3 268.3,638.6 273.2,644.9 275.0,647.6 278.1,652.4 283.0,660.5 287.9,669.0 288.6,670.3 292.8,677.8 297.6,686.6 300.0,690.8 302.5,695.2 307.4,703.6 312.3,711.8 317.2,719.9 318.1,721.4 322.1,728.1 326.9,736.3 331.8,744.8 336.1,752.4 336.7,753.5 341.6,762.4 346.5,771.3 351.4,780.0 354.2,784.7 356.3,788.0 361.1,795.6 366.0,803.2 370.9,811.2 372.3,813.6 375.8,820.2 380.7,829.1 381.3,830.1 385.6,836.5 388.5,840.0 390.4,842.0 393.9,844.9 395.3,845.8 398.5,847.3 400.2,847.9 403.0,848.4 405.1,848.4 407.5,847.9 410.0,846.6 412.0,844.8 414.9,841.1 419.2,833.7 419.7,832.8 424.6,824.2 426.5,820.9 429.5,815.5 434.4,806.7 435.5,804.7 439.3,797.8 444.2,789.0 444.5,788.4 449.1,780.4 453.6,772.9 453.9,772.4 458.8,765.0 462.6,759.7 463.7,758.3 468.6,752.5 471.6,749.3 473.5,747.5 478.4,743.4 480.7,741.6 483.2,739.7 488.1,736.2 489.7,735.0 493.0,732.5 497.9,728.6 498.7,727.9 502.8,724.7 507.7,720.7 512.5,716.7 516.8,713.3 517.4,712.8 522.3,708.9 527.2,705.0 532.1,701.3 534.9,699.2 537.0,697.6 541.9,694.0 546.7,690.6 551.6,687.2 556.5,684.0 560.0,681.7 561.4,680.8 566.3,677.8 571.2,674.8 576.0,672.0 580.9,669.2 585.8,666.5 590.7,663.9 595.6,661.4 600.5,659.0 605.3,656.7 610.2,654.4 615.1,652.3 620.0,650.2 624.9,648.2 629.8,646.3 634.6,644.4 639.5,642.7 644.4,641.0 649.3,639.4 654.2,637.8 659.1,636.3 660.0,636.0 664.0,634.9 668.8,633.5 673.7,632.2 678.6,631.0 683.5,629.9 688.4,628.8 689.9,628.4 693.3,627.7 698.1,626.7 703.0,625.8 707.9,625.0 712.8,624.2 717.7,623.4 719.8,623.1 722.6,622.7 727.4,622.1 732.3,621.5 737.2,621.0 742.1,620.5 747.0,620.1 749.6,619.9 751.9,619.7 756.8,619.4 761.6,619.1 766.5,618.9 771.4,618.7 776.3,618.6 779.5,618.5 781.2,618.5 786.1,618.4 790.9,618.4 795.8,618.4 800.7,618.5 805.6,618.6 809.4,618.7 810.5,618.7 815.4,618.8 820.2,619.0 825.1,619.3 830.0,619.5 834.9,619.9 839.3,620.2 839.8,620.2 844.7,620.7 849.6,621.1 854.4,621.7 859.3,622.3 864.2,622.9 869.1,623.7 869.2,623.7 874.0,624.4 878.9,625.3 883.7,626.2 888.6,627.3 893.5,628.3 898.4,629.5 899.1,629.7 903.3,630.7 908.2,632.0 913.0,633.4 917.9,634.9 922.8,636.4 927.7,638.1 928.9,638.5 932.6,639.8 937.5,641.6 942.4,643.5 947.2,645.4 952.1,647.5 957.0,649.6 958.8,650.4 961.9,651.9 966.8,654.2 971.7,656.6 976.5,659.1 981.4,661.7 986.3,664.4 988.7,665.8 991.2,667.2 996.1,670.1 1001.0,673.1 1005.8,676.2 1010.7,679.5 1015.6,682.9 1018.6,685.1 1020.5,686.5 1025.4,690.3 1030.3,694.2 1035.2,698.3 1036.5,699.5 1040.0,702.7 1044.9,707.2 1049.8,712.0 1054.7,717.0 1059.6,722.3 1064.5,727.8 1069.3,733.7 1074.2,739.8 1079.1,746.2 1084.0,752.9 1088.9,759.9 1090.0,761.5 1093.8,767.1 1098.6,773.8 1099.0,774.2 1103.5,778.7 1106.4,780.6 1108.4,781.5 1112.4,782.0 1113.3,781.9 1118.2,780.2 1119.9,779.2 1123.1,776.5 1128.0,771.1 1128.8,770.0 1132.8,764.5 1137.7,757.0 1140.8,752.0 1142.6,749.1 1147.5,741.1 1149.8,737.5 1152.4,733.3 1157.3,725.6 1162.1,718.2 1164.7,714.6 1167.0,711.4 1171.9,705.0 1176.8,699.0 1179.6,695.7 1181.7,693.3 1186.6,687.7 1191.4,682.3 1194.6,678.9 1196.3,677.0 1201.2,672.0 1206.1,667.1 1209.5,663.8 1211.0,662.4 1215.9,657.9 1220.7,653.6 1224.5,650.4 1225.6,649.5 1230.5,645.5 1235.4,641.7 1239.4,638.7 1240.3,638.1 1245.2,634.6 1250.1,631.2 1254.4,628.4 1254.9,628.0 1259.8,624.9 1264.7,622.0 1269.3,619.3 1269.6,619.1 1274.5,616.4 1279.4,613.7 1284.2,611.2 1289.1,608.8 1294.0,606.5 1298.9,604.2 1299.2,604.1 1303.8,602.1 1308.7,600.0 1313.5,598.0 1318.4,596.1 1323.3,594.3 1328.2,592.6 1329.1,592.3 1333.1,590.9 1338.0,589.3 1342.9,587.7 1347.7,586.3 1352.6,584.9 1357.5,583.5 1358.9,583.1 1362.4,582.2 1367.3,580.9 1372.2,579.7 1377.0,578.6 1381.9,577.4 1386.8,576.4 1388.8,575.9 1391.7,575.3 1396.6,574.3 1401.5,573.3 1406.3,572.4 1411.2,571.4 1416.1,570.6 1418.7,570.1 1421.0,569.7 1425.9,568.9 1430.8,568.1 1435.7,567.4 1440.5,566.6 1445.4,565.9 1448.6,565.5 1450.3,565.3 1455.2,564.7 1460.1,564.1 1465.0,563.5 1469.8,563.0 1474.7,562.5 1478.5,562.1 1479.6,562.0 1484.5,561.6 1489.4,561.1 1494.3,560.8 1499.1,560.4 1504.0,560.1 1508.9,559.8 1513.8,559.5" fill="none" stroke="#A010E0" stroke-width="5.4" stroke-linejoin="round"/>
<path d="M248.8,587.5 253.7,590.4 258.6,594.5 262.8,599.0 263.5,599.8 268.3,605.9 273.2,612.7 275.3,615.8 278.1,620.0 283.0,627.6 286.4,632.9 287.9,635.2 292.8,642.8 297.6,650.2 299.0,652.2 302.5,657.4 307.3,664.4 307.4,664.5 312.3,671.5 317.2,678.1 318.1,679.3 322.1,684.6 326.9,690.7 331.8,696.7 336.1,701.7 336.7,702.4 341.6,707.8 346.5,713.1 351.4,718.1 354.2,721.0 356.3,723.0 361.1,727.7 366.0,732.1 370.9,736.4 372.3,737.6 375.8,740.6 380.7,744.6 385.6,748.4 390.3,752.0 390.4,752.1 395.3,755.7 400.2,759.2 405.1,762.5 408.4,764.7 410.0,765.8 414.9,768.9 419.7,772.0 424.6,775.0 426.5,776.1 429.5,777.9 434.4,780.8 439.3,783.6 444.2,786.3 444.5,786.5 449.1,789.0 453.9,791.6 458.8,794.2 462.6,796.2 463.7,796.7 468.6,799.2 473.5,801.6 478.4,804.0 480.7,805.1 483.2,806.3 488.1,808.6 493.0,810.9 497.9,813.1 498.7,813.4 502.8,815.2 507.7,817.4 512.5,819.5 516.8,821.2 517.4,821.5 522.3,823.5 527.2,825.5 532.1,827.5 534.9,828.6 537.0,829.5 541.9,831.4 546.7,833.3 551.6,835.1 556.5,837.0 560.0,838.3 561.4,838.8 566.3,840.6 571.2,842.4 576.0,844.1 580.9,845.9 585.8,847.6 590.7,849.3 595.6,851.0 600.5,852.6 605.3,854.2 610.2,855.9 615.1,857.5 620.0,859.0 624.9,860.6 629.8,862.1 634.6,863.7 639.5,865.2 644.4,866.7 649.3,868.2 654.2,869.6 659.1,871.1 660.0,871.4 664.0,872.5 668.8,874.0 673.7,875.4 678.6,876.8 683.5,878.2 688.4,879.6 689.9,880.0 693.3,880.9 698.1,882.3 703.0,883.7 707.9,885.0 712.8,886.3 717.7,887.7 719.8,888.2 722.6,889.0 727.4,890.3 732.3,891.6 737.2,892.9 742.1,894.2 747.0,895.5 749.6,896.2 751.9,896.8 756.8,898.0 761.6,899.3 766.5,900.6 771.4,901.9 776.3,903.1 779.5,904.0 781.2,904.4 786.1,905.6 790.9,906.9 795.8,908.1 800.7,909.3 805.6,910.5 809.4,911.4 810.5,911.7 815.4,912.8 820.2,913.8 825.1,914.8 830.0,915.7 834.9,916.6 839.3,917.3 839.8,917.3 844.7,918.0 849.6,918.6 854.4,919.1 859.3,919.5 864.2,919.8 869.1,920.0 869.2,920.0 874.0,920.0 878.9,920.0 883.7,919.8 888.6,919.5 893.5,919.1 898.4,918.6 899.1,918.5 903.3,918.0 908.2,917.4 913.0,916.6 917.9,915.8 922.8,914.9 927.7,914.0 928.9,913.8 932.6,913.1 937.5,912.0 942.4,911.0 947.2,909.9 952.1,908.8 957.0,907.6 958.8,907.2 961.9,906.5 966.8,905.3 971.7,904.1 976.5,903.0 981.4,901.8 986.3,900.6 988.7,900.0 991.2,899.4 996.1,898.2 1001.0,897.0 1005.8,895.7 1010.7,894.5 1015.6,893.3 1018.6,892.5 1020.5,892.1 1025.4,890.8 1030.3,889.6 1035.2,888.4 1040.0,887.2 1044.9,886.0 1048.5,885.1 1049.8,884.7 1054.7,883.5 1059.6,882.3 1064.5,881.1 1069.3,879.9 1074.2,878.8 1079.1,877.6 1084.0,876.4 1088.9,875.3 1090.0,875.0 1093.8,874.1 1098.6,873.0 1103.5,871.9 1108.4,870.8 1113.3,869.7 1118.2,868.7 1119.9,868.3 1123.1,867.6 1128.0,866.6 1132.8,865.6 1137.7,864.6 1142.6,863.6 1147.5,862.7 1149.8,862.2 1152.4,861.7 1157.3,860.8 1162.1,860.0 1167.0,859.1 1171.9,858.3 1176.8,857.5 1179.6,857.0 1181.7,856.7 1186.6,855.9 1191.4,855.1 1196.3,854.4 1201.2,853.7 1206.1,853.0 1209.5,852.5 1211.0,852.3 1215.9,851.7 1220.7,851.1 1225.6,850.5 1230.5,849.9 1235.4,849.3 1239.4,848.9 1240.3,848.8 1245.2,848.2 1250.1,847.7 1254.9,847.2 1259.8,846.7 1264.7,846.3 1269.3,845.8 1269.6,845.8 1274.5,845.4 1279.4,845.0 1284.2,844.6 1289.1,844.2 1294.0,843.8 1298.9,843.5 1299.2,843.5 1303.8,843.2 1308.7,842.8 1313.5,842.5 1318.4,842.2 1323.3,842.0 1328.2,841.7 1329.1,841.7 1333.1,841.5 1338.0,841.2 1342.9,841.0 1347.7,840.8 1352.6,840.6 1357.5,840.4 1358.9,840.4 1362.4,840.3 1367.3,840.1 1372.2,840.0 1377.0,839.8 1381.9,839.7 1386.8,839.6 1388.8,839.6 1391.7,839.5 1396.6,839.4 1401.5,839.3 1406.3,839.3 1411.2,839.2 1416.1,839.2 1418.7,839.1 1421.0,839.1 1425.9,839.1 1430.8,839.1 1435.7,839.1 1440.5,839.1 1445.4,839.1 1448.6,839.1 1450.3,839.1 1455.2,839.1 1460.1,839.1 1465.0,839.2 1469.8,839.2 1474.7,839.2 1478.5,839.3 1479.6,839.3 1484.5,839.4 1489.4,839.4 1494.3,839.5 1499.1,839.6 1504.0,839.6 1508.9,839.7 1513.8,839.8" fill="none" stroke="#FF0000" stroke-width="5.4" stroke-linejoin="round"/>
<path d="M248.8,589.4 253.7,593.6 258.6,598.7 263.5,604.6 268.3,611.4 269.9,613.7 273.2,618.9 278.1,627.2 283.0,636.0 287.8,645.2 287.9,645.4 292.8,655.2 297.6,665.4 302.5,675.6 307.2,685.4 307.4,685.8 312.3,695.8 317.2,705.7 322.1,715.5 322.6,716.5 326.9,725.3 331.8,735.3 336.7,745.4 340.7,753.9 341.6,755.9 346.5,766.7 351.4,777.4 356.3,787.6 358.7,792.4 361.1,796.9 366.0,805.1 370.9,811.6 371.4,812.2 375.8,816.2 379.5,818.1 380.7,818.4 385.6,818.1 390.4,815.7 393.9,813.0 395.3,811.8 400.2,806.7 405.1,801.0 408.4,797.0 410.0,795.1 414.9,789.3 419.7,783.8 424.6,778.4 426.5,776.4 429.5,773.1 434.4,768.1 439.3,763.2 444.2,758.4 444.5,758.1 449.1,753.9 453.9,749.5 458.8,745.3 462.6,742.2 463.7,741.3 468.6,737.4 473.5,733.8 478.4,730.3 480.7,728.8 483.2,727.1 488.1,724.0 493.0,721.1 497.9,718.4 498.7,717.9 502.8,715.8 507.7,713.5 512.5,711.3 516.8,709.5 517.4,709.2 522.3,707.2 527.2,705.3 532.1,703.3 534.9,702.3 537.0,701.4 541.9,699.5 546.7,697.5 551.6,695.6 556.5,693.6 560.0,692.2 561.4,691.7 566.3,689.7 571.2,687.7 576.0,685.7 580.9,683.8 585.8,681.8 590.7,679.8 595.6,677.9 600.5,676.0 605.3,674.0 610.2,672.1 615.1,670.3 620.0,668.4 624.9,666.6 629.8,664.8 634.6,663.0 639.5,661.3 644.4,659.6 649.3,657.9 654.2,656.3 659.1,654.7 660.0,654.4 664.0,653.2 668.8,651.7 673.7,650.3 678.6,648.9 683.5,647.5 688.4,646.2 693.3,644.9 698.1,643.7 703.0,642.5 707.9,641.3 712.8,640.2 717.7,639.1 719.8,638.6 722.6,638.0 727.4,637.0 732.3,636.0 737.2,635.0 742.1,634.1 747.0,633.2 751.9,632.3 756.8,631.4 761.6,630.6 766.5,629.7 771.4,628.9 776.3,628.1 779.5,627.6 781.2,627.4 786.1,626.6 790.9,625.9 795.8,625.2 800.7,624.5 805.6,623.8 809.4,623.3 810.5,623.1 815.4,622.5 820.2,621.8 825.1,621.2 830.0,620.6 834.9,619.9 839.3,619.4 839.8,619.3 844.7,618.7 849.6,618.1 854.4,617.4 859.3,616.8 864.2,616.2 869.1,615.6 869.2,615.6 874.0,615.0 878.9,614.4 883.7,613.7 888.6,613.1 893.5,612.5 898.4,611.8 899.1,611.8 903.3,611.2 908.2,610.6 913.0,610.0 917.9,609.3 922.8,608.7 927.7,608.1 928.9,607.9 932.6,607.4 937.5,606.8 942.4,606.2 947.2,605.5 952.1,604.9 957.0,604.3 958.8,604.1 961.9,603.7 966.8,603.0 971.7,602.4 976.5,601.8 981.4,601.2 986.3,600.6 988.7,600.3 991.2,600.0 996.1,599.4 1001.0,598.8 1005.8,598.2 1010.7,597.6 1015.6,597.0 1018.6,596.7 1020.5,596.5 1025.4,595.9 1030.3,595.3 1035.2,594.8 1040.0,594.2 1044.9,593.7 1048.5,593.3 1049.8,593.1 1054.7,592.6 1059.6,592.1 1064.5,591.5 1069.3,591.0 1074.2,590.5 1079.1,590.0 1084.0,589.5 1088.9,589.0 1090.0,588.9 1093.8,588.5 1098.6,588.0 1103.5,587.5 1108.4,587.1 1113.3,586.6 1118.2,586.1 1123.1,585.7 1128.0,585.2 1132.8,584.7 1137.7,584.3 1142.6,583.8 1147.5,583.4 1149.8,583.2 1152.4,583.0 1157.3,582.5 1162.1,582.1 1167.0,581.7 1171.9,581.3 1176.8,580.8 1181.7,580.4 1186.6,580.0 1191.4,579.6 1196.3,579.2 1201.2,578.8 1206.1,578.4 1209.5,578.2 1211.0,578.0 1215.9,577.7 1220.7,577.3 1225.6,576.9 1230.5,576.5 1235.4,576.2 1240.3,575.8 1245.2,575.4 1250.1,575.1 1254.9,574.7 1259.8,574.4 1264.7,574.0 1269.3,573.7 1269.6,573.7 1274.5,573.3 1279.4,573.0 1284.2,572.7 1289.1,572.3 1294.0,572.0 1298.9,571.7 1303.8,571.4 1308.7,571.0 1313.5,570.7 1318.4,570.4 1323.3,570.1 1328.2,569.8 1329.1,569.7 1333.1,569.5 1338.0,569.2 1342.9,568.9 1347.7,568.6 1352.6,568.3 1357.5,568.0 1362.4,567.7 1367.3,567.4 1372.2,567.1 1377.0,566.8 1381.9,566.6 1386.8,566.3 1388.8,566.2 1391.7,566.0 1396.6,565.7 1401.5,565.4 1406.3,565.2 1411.2,564.9 1416.1,564.6 1421.0,564.4 1425.9,564.1 1430.8,563.8 1435.7,563.6 1440.5,563.3 1445.4,563.1 1448.6,562.9 1450.3,562.8 1455.2,562.5 1460.1,562.3 1465.0,562.0 1469.8,561.8 1474.7,561.5 1479.6,561.3 1484.5,561.0 1489.4,560.8 1494.3,560.5 1499.1,560.3 1504.0,560.1 1508.9,559.8 1513.8,559.6" fill="none" stroke="#FFA0A0" stroke-width="5.4" stroke-linejoin="round"/>
<path d="M248.8,611.8 253.7,612.7 258.6,614.8 263.5,618.2 268.3,622.9 269.9,624.6 273.2,628.9 278.1,636.4 283.0,645.2 284.8,648.9 287.9,655.5 292.8,666.8 297.6,678.4 300.0,683.8 302.5,689.4 307.4,699.6 312.3,709.2 317.2,718.5 318.1,720.1 322.1,727.6 326.9,736.7 331.8,746.1 336.1,754.8 336.7,756.0 341.6,766.5 346.5,777.4 351.4,788.6 354.2,795.1 356.3,799.7 361.1,810.3 366.0,819.4 366.8,820.7 370.9,826.0 374.1,829.0 375.8,830.2 380.7,832.1 385.6,831.8 386.7,831.4 390.4,829.6 393.9,827.0 395.3,825.8 400.2,820.9 405.1,815.1 408.4,811.0 410.0,809.0 414.9,802.8 419.7,796.6 424.6,790.5 426.5,788.2 429.5,784.4 434.4,778.6 439.3,772.9 444.2,767.6 444.5,767.2 449.1,762.7 453.9,758.0 458.8,753.7 462.6,750.6 463.7,749.8 468.6,746.0 473.5,742.6 478.4,739.4 480.7,737.9 483.2,736.3 488.1,733.5 493.0,730.9 497.9,728.3 498.7,727.9 502.8,725.9 507.7,723.6 512.5,721.4 516.8,719.5 517.4,719.2 522.3,717.1 527.2,715.0 532.1,712.9 534.9,711.7 537.0,710.9 541.9,708.9 546.7,706.9 551.6,704.9 556.5,703.0 560.0,701.6 561.4,701.1 566.3,699.2 571.2,697.4 576.0,695.6 580.9,693.8 585.8,692.1 590.7,690.4 595.6,688.7 600.5,687.0 605.3,685.4 610.2,683.7 615.1,682.2 620.0,680.6 624.9,679.1 629.8,677.5 634.6,676.1 639.5,674.6 644.4,673.2 649.3,671.8 654.2,670.4 659.1,669.0 660.0,668.7 664.0,667.7 668.8,666.3 673.7,665.0 678.6,663.8 683.5,662.5 688.4,661.3 693.3,660.1 698.1,658.9 703.0,657.7 707.9,656.6 712.8,655.4 717.7,654.3 719.8,653.9 722.6,653.3 727.4,652.2 732.3,651.1 737.2,650.1 742.1,649.1 747.0,648.1 751.9,647.1 756.8,646.2 761.6,645.2 766.5,644.3 771.4,643.4 776.3,642.5 779.5,641.9 781.2,641.6 786.1,640.7 790.9,639.9 795.8,639.1 800.7,638.2 805.6,637.4 810.5,636.6 815.4,635.9 820.2,635.1 825.1,634.4 830.0,633.6 834.9,632.9 839.3,632.3 839.8,632.2 844.7,631.5 849.6,630.8 854.4,630.1 859.3,629.4 864.2,628.8 869.1,628.1 874.0,627.5 878.9,626.9 883.7,626.2 888.6,625.6 893.5,625.0 898.4,624.4 899.1,624.4 903.3,623.9 908.2,623.3 913.0,622.7 917.9,622.1 922.8,621.6 927.7,621.0 932.6,620.5 937.5,620.0 942.4,619.4 947.2,618.9 952.1,618.4 957.0,617.9 958.8,617.7 961.9,617.3 966.8,616.8 971.7,616.3 976.5,615.8 981.4,615.3 986.3,614.8 991.2,614.3 996.1,613.8 1001.0,613.3 1005.8,612.9 1010.7,612.4 1015.6,611.9 1018.6,611.6 1020.5,611.4 1025.4,610.9 1030.3,610.4 1035.2,609.9 1040.0,609.5 1044.9,609.0 1049.8,608.5 1054.7,608.0 1059.6,607.5 1064.5,607.0 1069.3,606.6 1074.2,606.1 1079.1,605.6 1084.0,605.1 1088.9,604.6 1090.0,604.5 1093.8,604.2 1098.6,603.7 1103.5,603.2 1108.4,602.7 1113.3,602.3 1118.2,601.8 1123.1,601.3 1128.0,600.8 1132.8,600.4 1137.7,599.9 1142.6,599.4 1147.5,598.9 1149.8,598.7 1152.4,598.5 1157.3,598.0 1162.1,597.5 1167.0,597.1 1171.9,596.6 1176.8,596.1 1181.7,595.7 1186.6,595.2 1191.4,594.7 1196.3,594.3 1201.2,593.8 1206.1,593.3 1209.5,593.0 1211.0,592.9 1215.9,592.4 1220.7,592.0 1225.6,591.5 1230.5,591.0 1235.4,590.6 1240.3,590.1 1245.2,589.7 1250.1,589.2 1254.9,588.8 1259.8,588.3 1264.7,587.9 1269.3,587.5 1269.6,587.4 1274.5,587.0 1279.4,586.5 1284.2,586.1 1289.1,585.6 1294.0,585.2 1298.9,584.8 1303.8,584.3 1308.7,583.9 1313.5,583.4 1318.4,583.0 1323.3,582.6 1328.2,582.1 1329.1,582.1 1333.1,581.7 1338.0,581.3 1342.9,580.8 1347.7,580.4 1352.6,580.0 1357.5,579.5 1362.4,579.1 1367.3,578.7 1372.2,578.3 1377.0,577.8 1381.9,577.4 1386.8,577.0 1388.8,576.8 1391.7,576.6 1396.6,576.2 1401.5,575.8 1406.3,575.3 1411.2,574.9 1416.1,574.5 1421.0,574.1 1425.9,573.7 1430.8,573.3 1435.7,572.9 1440.5,572.5 1445.4,572.1 1448.6,571.8 1450.3,571.7 1455.2,571.3 1460.1,570.9 1465.0,570.5 1469.8,570.1 1474.7,569.7 1479.6,569.3 1484.5,568.9 1489.4,568.6 1494.3,568.2 1499.1,567.8 1504.0,567.4 1508.9,567.0 1513.8,566.6" fill="none" stroke="#80FF80" stroke-width="5.4" stroke-linejoin="round"/>
<path d="M248.8,604.4 253.7,605.9 258.6,608.4 263.5,612.0 268.3,616.5 269.9,618.2 273.2,622.1 278.1,628.8 283.0,636.5 287.8,645.1 287.9,645.2 292.8,655.0 297.6,665.4 302.5,676.2 307.2,686.4 307.4,686.8 312.3,697.0 317.2,706.9 322.1,716.6 322.6,717.6 326.9,726.3 331.8,736.0 336.7,746.0 340.7,754.3 341.6,756.4 346.5,767.1 351.4,777.8 356.3,788.1 358.7,793.0 361.1,797.5 366.0,805.7 370.9,812.2 371.4,812.7 375.8,816.6 379.5,818.6 380.7,819.0 385.6,819.6 390.4,818.5 393.9,816.7 395.3,815.9 400.2,812.0 405.1,807.0 408.4,803.2 410.0,801.3 414.9,795.1 419.7,788.8 424.6,782.4 426.5,780.1 429.5,776.4 434.4,770.8 439.3,765.6 444.2,760.8 444.5,760.4 449.1,756.3 453.9,752.0 458.8,748.1 462.6,745.1 463.7,744.3 468.6,740.8 473.5,737.4 478.4,734.2 480.7,732.8 483.2,731.2 488.1,728.4 493.0,725.6 497.9,723.0 498.7,722.6 502.8,720.6 507.7,718.2 512.5,715.9 516.8,714.0 517.4,713.7 522.3,711.6 527.2,709.5 532.1,707.5 534.9,706.3 537.0,705.5 541.9,703.5 546.7,701.6 551.6,699.7 556.5,697.8 560.0,696.4 561.4,695.9 566.3,694.1 571.2,692.3 576.0,690.5 580.9,688.7 585.8,687.0 590.7,685.3 595.6,683.6 600.5,682.0 605.3,680.3 610.2,678.7 615.1,677.1 620.0,675.6 624.9,674.0 629.8,672.5 634.6,671.0 639.5,669.5 644.4,668.1 649.3,666.7 654.2,665.3 659.1,663.9 660.0,663.6 664.0,662.5 668.8,661.2 673.7,659.9 678.6,658.6 683.5,657.3 688.4,656.0 693.3,654.8 698.1,653.5 703.0,652.3 707.9,651.2 712.8,650.0 717.7,648.8 719.8,648.4 722.6,647.7 727.4,646.6 732.3,645.5 737.2,644.4 742.1,643.4 747.0,642.3 751.9,641.3 756.8,640.3 761.6,639.3 766.5,638.3 771.4,637.3 776.3,636.4 779.5,635.8 781.2,635.5 786.1,634.5 790.9,633.6 795.8,632.8 800.7,631.9 805.6,631.0 810.5,630.2 815.4,629.3 820.2,628.5 825.1,627.7 830.0,626.9 834.9,626.1 839.3,625.4 839.8,625.4 844.7,624.6 849.6,623.9 854.4,623.1 859.3,622.4 864.2,621.7 869.1,621.0 874.0,620.3 878.9,619.6 883.7,618.9 888.6,618.3 893.5,617.6 898.4,617.0 899.1,616.9 903.3,616.3 908.2,615.7 913.0,615.1 917.9,614.5 922.8,613.9 927.7,613.3 932.6,612.7 937.5,612.1 942.4,611.5 947.2,610.9 952.1,610.4 957.0,609.8 958.8,609.6 961.9,609.3 966.8,608.7 971.7,608.2 976.5,607.7 981.4,607.1 986.3,606.6 991.2,606.1 996.1,605.6 1001.0,605.1 1005.8,604.5 1010.7,604.0 1015.6,603.5 1018.6,603.2 1020.5,603.0 1025.4,602.5 1030.3,602.0 1035.2,601.6 1040.0,601.1 1044.9,600.6 1049.8,600.1 1054.7,599.6 1059.6,599.1 1064.5,598.7 1069.3,598.2 1074.2,597.7 1079.1,597.2 1084.0,596.8 1088.9,596.3 1090.0,596.2 1093.8,595.9 1098.6,595.4 1103.5,594.9 1108.4,594.5 1113.3,594.0 1118.2,593.6 1123.1,593.2 1128.0,592.7 1132.8,592.3 1137.7,591.8 1142.6,591.4 1147.5,591.0 1149.8,590.8 1152.4,590.5 1157.3,590.1 1162.1,589.7 1167.0,589.3 1171.9,588.9 1176.8,588.4 1181.7,588.0 1186.6,587.6 1191.4,587.2 1196.3,586.8 1201.2,586.4 1206.1,586.0 1209.5,585.7 1211.0,585.6 1215.9,585.2 1220.7,584.8 1225.6,584.4 1230.5,584.0 1235.4,583.7 1240.3,583.3 1245.2,582.9 1250.1,582.5 1254.9,582.1 1259.8,581.8 1264.7,581.4 1269.3,581.1 1269.6,581.0 1274.5,580.7 1279.4,580.3 1284.2,579.9 1289.1,579.6 1294.0,579.2 1298.9,578.9 1303.8,578.5 1308.7,578.2 1313.5,577.8 1318.4,577.5 1323.3,577.2 1328.2,576.8 1329.1,576.8 1333.1,576.5 1338.0,576.2 1342.9,575.8 1347.7,575.5 1352.6,575.2 1357.5,574.9 1362.4,574.5 1367.3,574.2 1372.2,573.9 1377.0,573.6 1381.9,573.3 1386.8,573.0 1388.8,572.8 1391.7,572.7 1396.6,572.4 1401.5,572.1 1406.3,571.8 1411.2,571.5 1416.1,571.2 1421.0,570.9 1425.9,570.6 1430.8,570.3 1435.7,570.0 1440.5,569.8 1445.4,569.5 1448.6,569.3 1450.3,569.2 1455.2,568.9 1460.1,568.7 1465.0,568.4 1469.8,568.1 1474.7,567.9 1479.6,567.6 1484.5,567.3 1489.4,567.1 1494.3,566.8 1499.1,566.6 1504.0,566.3 1508.9,566.1 1513.8,565.8" fill="none" stroke="#80FF80" stroke-width="5.4" stroke-linejoin="round"/>
<path d="M248.8,596.9 253.7,598.7 258.6,601.4 263.5,604.9 268.3,609.3 269.9,610.8 273.2,614.5 278.1,620.6 283.0,627.5 287.9,635.3 290.8,640.4 292.8,643.9 297.6,653.3 302.5,663.3 307.4,673.7 312.3,684.2 314.5,688.9 317.2,694.8 322.1,705.3 326.9,715.6 327.1,716.0 331.8,726.0 336.7,736.3 341.6,746.5 345.2,754.0 346.5,756.8 351.4,766.9 356.3,776.6 361.1,785.6 363.2,789.2 366.0,793.5 370.9,800.1 375.8,804.9 375.9,805.0 380.7,807.8 384.9,808.8 385.6,808.8 390.4,808.1 393.9,806.7 395.3,805.9 400.2,802.4 405.1,797.7 408.4,794.2 410.0,792.4 414.9,786.5 419.7,780.4 424.6,774.3 426.5,772.1 429.5,768.6 434.4,763.3 439.3,758.4 444.2,753.8 444.5,753.5 449.1,749.6 453.9,745.6 458.8,741.9 462.6,739.1 463.7,738.3 468.6,735.0 473.5,731.8 478.4,728.8 480.7,727.4 483.2,725.9 488.1,723.2 493.0,720.6 497.9,718.1 498.7,717.7 502.8,715.7 507.7,713.4 512.5,711.2 516.8,709.4 517.4,709.1 522.3,707.0 527.2,705.0 532.1,703.0 534.9,701.9 537.0,701.1 541.9,699.2 546.7,697.3 551.6,695.4 556.5,693.6 560.0,692.3 561.4,691.8 566.3,690.0 571.2,688.2 576.0,686.5 580.9,684.8 585.8,683.1 590.7,681.4 595.6,679.8 600.5,678.2 605.3,676.6 610.2,675.0 615.1,673.5 620.0,671.9 624.9,670.4 629.8,669.0 634.6,667.5 639.5,666.1 644.4,664.7 649.3,663.3 654.2,661.9 659.1,660.5 660.0,660.3 664.0,659.2 668.8,657.9 673.7,656.6 678.6,655.3 683.5,654.1 688.4,652.8 693.3,651.6 698.1,650.4 703.0,649.3 707.9,648.1 712.8,647.0 717.7,645.8 719.8,645.4 722.6,644.7 727.4,643.6 732.3,642.6 737.2,641.5 742.1,640.5 747.0,639.5 751.9,638.5 756.8,637.5 761.6,636.5 766.5,635.5 771.4,634.6 776.3,633.7 779.5,633.1 781.2,632.8 786.1,631.9 790.9,631.0 795.8,630.1 800.7,629.2 805.6,628.4 810.5,627.6 815.4,626.7 820.2,625.9 825.1,625.1 830.0,624.4 834.9,623.6 839.3,622.9 839.8,622.8 844.7,622.1 849.6,621.4 854.4,620.6 859.3,619.9 864.2,619.2 869.1,618.5 874.0,617.9 878.9,617.2 883.7,616.5 888.6,615.9 893.5,615.2 898.4,614.6 899.1,614.5 903.3,614.0 908.2,613.3 913.0,612.7 917.9,612.1 922.8,611.5 927.7,610.9 932.6,610.4 937.5,609.8 942.4,609.2 947.2,608.7 952.1,608.1 957.0,607.6 958.8,607.4 961.9,607.0 966.8,606.5 971.7,606.0 976.5,605.4 981.4,604.9 986.3,604.4 991.2,603.9 996.1,603.4 1001.0,602.9 1005.8,602.4 1010.7,601.9 1015.6,601.4 1018.6,601.1 1020.5,600.9 1025.4,600.4 1030.3,599.9 1035.2,599.4 1040.0,598.9 1044.9,598.5 1049.8,598.0 1054.7,597.5 1059.6,597.0 1064.5,596.6 1069.3,596.1 1074.2,595.7 1079.1,595.2 1084.0,594.7 1088.9,594.3 1090.0,594.2 1093.8,593.8 1098.6,593.4 1103.5,592.9 1108.4,592.5 1113.3,592.1 1118.2,591.6 1123.1,591.2 1128.0,590.7 1132.8,590.3 1137.7,589.9 1142.6,589.5 1147.5,589.0 1149.8,588.9 1152.4,588.6 1157.3,588.2 1162.1,587.8 1167.0,587.4 1171.9,587.0 1176.8,586.6 1181.7,586.2 1186.6,585.8 1191.4,585.4 1196.3,585.0 1201.2,584.6 1206.1,584.2 1209.5,583.9 1211.0,583.8 1215.9,583.4 1220.7,583.1 1225.6,582.7 1230.5,582.3 1235.4,581.9 1240.3,581.6 1245.2,581.2 1250.1,580.8 1254.9,580.5 1259.8,580.1 1264.7,579.8 1269.3,579.4 1269.6,579.4 1274.5,579.0 1279.4,578.7 1284.2,578.4 1289.1,578.0 1294.0,577.7 1298.9,577.3 1303.8,577.0 1308.7,576.7 1313.5,576.3 1318.4,576.0 1323.3,575.7 1328.2,575.4 1329.1,575.3 1333.1,575.1 1338.0,574.7 1342.9,574.4 1347.7,574.1 1352.6,573.8 1357.5,573.5 1362.4,573.2 1367.3,572.9 1372.2,572.6 1377.0,572.3 1381.9,572.0 1386.8,571.8 1388.8,571.6 1391.7,571.5 1396.6,571.2 1401.5,570.9 1406.3,570.6 1411.2,570.4 1416.1,570.1 1421.0,569.8 1425.9,569.6 1430.8,569.3 1435.7,569.0 1440.5,568.8 1445.4,568.5 1448.6,568.4 1450.3,568.3 1455.2,568.0 1460.1,567.8 1465.0,567.6 1469.8,567.3 1474.7,567.1 1479.6,566.8 1484.5,566.6 1489.4,566.4 1494.3,566.2 1499.1,565.9 1504.0,565.7 1508.9,565.5 1513.8,565.3" fill="none" stroke="#80FF80" stroke-width="5.4" stroke-linejoin="round"/>
<path d="M248.8,598.5 253.7,608.1 255.0,608.6 258.6,607.8 263.0,607.5 263.5,607.8 268.3,614.8 271.3,620.9 273.2,624.8 278.1,634.1 281.7,640.4 283.0,642.6 287.9,650.5 292.1,656.8 292.8,657.7 297.6,664.5 302.5,670.8 307.4,676.8 312.3,682.6 317.2,688.2 322.1,693.8 326.9,699.5 327.1,699.6 331.8,705.2 336.7,711.1 341.6,717.0 345.2,721.4 346.5,723.1 351.4,729.2 356.3,735.3 361.1,741.4 363.2,744.0 366.0,747.5 370.9,753.6 375.8,759.6 380.7,765.5 381.3,766.2 385.6,771.3 390.4,777.0 395.3,782.6" fill="none" stroke="#FF8080" stroke-width="5.4" stroke-linejoin="round"/>
<path d="M458.8,745.3 462.6,742.2 463.7,741.3 468.6,737.4 473.5,733.8 478.4,730.3 480.7,728.8 483.2,727.1 488.1,724.0 493.0,721.1 497.9,718.4 498.7,717.9 502.8,715.8 507.7,713.5 512.5,711.3 516.8,709.5 517.4,709.2 522.3,707.2 527.2,705.3 532.1,703.3 534.9,702.3 537.0,701.4 541.9,699.5 546.7,697.5 551.6,695.6 556.5,693.6 560.0,692.2 561.4,691.7 566.3,689.7 571.2,687.7 576.0,685.7 580.9,683.8 585.8,681.8 590.7,679.8 595.6,677.9 600.5,676.0 605.3,674.0 610.2,672.1 615.1,670.3 620.0,668.4 624.9,666.6 629.8,664.8 634.6,663.0 639.5,661.3 644.4,659.6 649.3,657.9 654.2,656.3 659.1,654.7 660.0,654.4 664.0,653.2 668.8,651.7 673.7,650.3 678.6,648.9 683.5,647.5 688.4,646.2 693.3,644.9 698.1,643.7 703.0,642.5 707.9,641.3 712.8,640.2 717.7,639.1 719.8,638.6 722.6,638.0 727.4,637.0 732.3,636.0 737.2,635.0 742.1,634.1 747.0,633.2 751.9,632.3 756.8,631.4 761.6,630.6 766.5,629.7 771.4,628.9 776.3,628.1 779.5,627.6 781.2,627.4 786.1,626.6 790.9,625.9 795.8,625.2 800.7,624.5 805.6,623.8 809.4,623.3 810.5,623.1 815.4,622.5 820.2,621.8 825.1,621.2 830.0,620.6 834.9,619.9 839.3,619.4 839.8,619.3 844.7,618.7 849.6,618.1 854.4,617.4 859.3,616.8 864.2,616.2 869.1,615.6 869.2,615.6 874.0,615.0 878.9,614.4 883.7,613.7 888.6,613.1 893.5,612.5 898.4,611.8 899.1,611.8 903.3,611.2 908.2,610.6 913.0,610.0 917.9,609.3 922.8,608.7 927.7,608.1 928.9,607.9 932.6,607.4 937.5,606.8 942.4,606.2 947.2,605.5 952.1,604.9 957.0,604.3 958.8,604.1 961.9,603.7 966.8,603.0 971.7,602.4 976.5,601.8 981.4,601.2 986.3,600.6 988.7,600.3 991.2,600.0 996.1,599.4 1001.0,598.8 1005.8,598.2 1010.7,597.6 1015.6,597.0 1018.6,596.7 1020.5,596.5 1025.4,595.9 1030.3,595.3 1035.2,594.8 1040.0,594.2 1044.9,593.7 1048.5,593.3 1049.8,593.1 1054.7,592.6 1059.6,592.1 1064.5,591.5 1069.3,591.0 1074.2,590.5 1079.1,590.0 1084.0,589.5 1088.9,589.0 1090.0,588.9 1093.8,588.5 1098.6,588.0 1103.5,587.5 1108.4,587.1 1113.3,586.6 1118.2,586.1 1123.1,585.7 1128.0,585.2 1132.8,584.7 1137.7,584.3 1142.6,583.8 1147.5,583.4 1149.8,583.2 1152.4,583.0 1157.3,582.5 1162.1,582.1 1167.0,581.7 1171.9,581.3 1176.8,580.8 1181.7,580.4 1186.6,580.0 1191.4,579.6 1196.3,579.2 1201.2,578.8 1206.1,578.4 1209.5,578.2 1211.0,578.0 1215.9,577.7 1220.7,577.3 1225.6,576.9 1230.5,576.5 1235.4,576.2 1240.3,575.8 1245.2,575.4 1250.1,575.1 1254.9,574.7 1259.8,574.4 1264.7,574.0 1269.3,573.7 1269.6,573.7 1274.5,573.3 1279.4,573.0 1284.2,572.7 1289.1,572.3 1294.0,572.0 1298.9,571.7 1303.8,571.4 1308.7,571.0 1313.5,570.7 1318.4,570.4 1323.3,570.1 1328.2,569.8 1329.1,569.7 1333.1,569.5 1338.0,569.2 1342.9,568.9 1347.7,568.6 1352.6,568.3 1357.5,568.0 1362.4,567.7 1367.3,567.4 1372.2,567.1 1377.0,566.8 1381.9,566.6 1386.8,566.3 1388.8,566.2 1391.7,566.0 1396.6,565.7 1401.5,565.4 1406.3,565.2 1411.2,564.9 1416.1,564.6 1421.0,564.4 1425.9,564.1 1430.8,563.8 1435.7,563.6 1440.5,563.3 1445.4,563.1 1448.6,562.9 1450.3,562.8 1455.2,562.5 1460.1,562.3 1465.0,562.0 1469.8,561.8 1474.7,561.5 1479.6,561.3 1484.5,561.0 1489.4,560.8 1494.3,560.5 1499.1,560.3 1504.0,560.1 1508.9,559.8 1513.8,559.6" fill="none" stroke="#FFA0A0" stroke-width="5.4" stroke-linejoin="round"/>
<path d="M458.8,745.3 462.6,742.2 463.7,741.3 468.6,737.4 473.5,733.8 478.4,730.3 480.7,728.8 483.2,727.1 488.1,724.0 493.0,721.1 497.9,718.4 498.7,717.9 502.8,715.8 507.7,713.5 512.5,711.3 516.8,709.5 517.4,709.2 522.3,707.2 527.2,705.3 532.1,703.3 534.9,702.3 537.0,701.4 541.9,699.5 546.7,697.5 551.6,695.6 556.5,693.6 560.0,692.2 561.4,691.7 566.3,689.7 571.2,687.7 576.0,685.7 580.9,683.8 585.8,681.8 590.7,679.8 595.6,677.9 600.5,676.0 605.3,674.0 610.2,672.1 615.1,670.3 620.0,668.4 624.9,666.6 629.8,664.8 634.6,663.0 639.5,661.3 644.4,659.6 649.3,657.9 654.2,656.3 659.1,654.7 660.0,654.4 664.0,653.2 668.8,651.7 673.7,650.3 678.6,648.9 683.5,647.5 688.4,646.2 693.3,644.9 698.1,643.7 703.0,642.5 707.9,641.3 712.8,640.2 717.7,639.1 719.8,638.6 722.6,638.0 727.4,637.0 732.3,636.0 737.2,635.0 742.1,634.1 747.0,633.2 751.9,632.3 756.8,631.4 761.6,630.6 766.5,629.7 771.4,628.9 776.3,628.1 779.5,627.6 781.2,627.4 786.1,626.6 790.9,625.9 795.8,625.2 800.7,624.5 805.6,623.8 809.4,623.3 810.5,623.1 815.4,622.5 820.2,621.8 825.1,621.2 830.0,620.6 834.9,619.9 839.3,619.4 839.8,619.3 844.7,618.7 849.6,618.1 854.4,617.4 859.3,616.8 864.2,616.2 869.1,615.6 869.2,615.6 874.0,615.0 878.9,614.4 883.7,613.7 888.6,613.1 893.5,612.5 898.4,611.8 899.1,611.8 903.3,611.2 908.2,610.6 913.0,610.0 917.9,609.3 922.8,608.7 927.7,608.1 928.9,607.9 932.6,607.4 937.5,606.8 942.4,606.2 947.2,605.5 952.1,604.9 957.0,604.3 958.8,604.1 961.9,603.7 966.8,603.0 971.7,602.4 976.5,601.8 981.4,601.2 986.3,600.6 988.7,600.3 991.2,600.0 996.1,599.4 1001.0,598.8 1005.8,598.2 1010.7,597.6 1015.6,597.0 1018.6,596.7 1020.5,596.5 1025.4,595.9 1030.3,595.3 1035.2,594.8 1040.0,594.2 1044.9,593.7 1048.5,593.3 1049.8,593.1 1054.7,592.6 1059.6,592.1 1064.5,591.5 1069.3,591.0 1074.2,590.5 1079.1,590.0 1084.0,589.5 1088.9,589.0 1090.0,588.9 1093.8,588.5 1098.6,588.0 1103.5,587.5 1108.4,587.1 1113.3,586.6 1118.2,586.1 1123.1,585.7 1128.0,585.2 1132.8,584.7 1137.7,584.3 1142.6,583.8 1147.5,583.4 1149.8,583.2 1152.4,583.0 1157.3,582.5 1162.1,582.1 1167.0,581.7 1171.9,581.3 1176.8,580.8 1181.7,580.4 1186.6,580.0 1191.4,579.6 1196.3,579.2 1201.2,578.8 1206.1,578.4 1209.5,578.2 1211.0,578.0 1215.9,577.7 1220.7,577.3 1225.6,576.9 1230.5,576.5 1235.4,576.2 1240.3,575.8 1245.2,575.4 1250.1,575.1 1254.9,574.7 1259.8,574.4 1264.7,574.0 1269.3,573.7 1269.6,573.7 1274.5,573.3 1279.4,573.0 1284.2,572.7 1289.1,572.3 1294.0,572.0 1298.9,571.7 1303.8,571.4 1308.7,571.0 1313.5,570.7 1318.4,570.4 1323.3,570.1 1328.2,569.8 1329.1,569.7 1333.1,569.5 1338.0,569.2 1342.9,568.9 1347.7,568.6 1352.6,568.3 1357.5,568.0 1362.4,567.7 1367.3,567.4 1372.2,567.1 1377.0,566.8 1381.9,566.6 1386.8,566.3 1388.8,566.2 1391.7,566.0 1396.6,565.7 1401.5,565.4 1406.3,565.2 1411.2,564.9 1416.1,564.6 1421.0,564.4 1425.9,564.1 1430.8,563.8 1435.7,563.6 1440.5,563.3 1445.4,563.1 1448.6,562.9 1450.3,562.8 1455.2,562.5 1460.1,562.3 1465.0,562.0 1469.8,561.8 1474.7,561.5 1479.6,561.3 1484.5,561.0 1489.4,560.8 1494.3,560.5 1499.1,560.3 1504.0,560.1 1508.9,559.8 1513.8,559.6" fill="none" stroke="#A010E0" stroke-width="5.4" stroke-linejoin="round" stroke-dasharray="11.5 9.5"/>
<path d="M488.1,736.2 489.7,735.0 493.0,732.5 497.9,728.6 498.7,727.9 502.8,724.7 507.7,720.7 512.5,716.7 516.8,713.3 517.4,712.8 522.3,708.9 527.2,705.0 532.1,701.3 534.9,699.2 537.0,697.6 541.9,694.0 546.7,690.6 551.6,687.2 556.5,684.0 560.0,681.7 561.4,680.8 566.3,677.8 571.2,674.8 576.0,672.0 580.9,669.2 585.8,666.5 590.7,663.9 595.6,661.4 600.5,659.0 605.3,656.7 610.2,654.4 615.1,652.3 620.0,650.2 624.9,648.2 629.8,646.3 634.6,644.4 639.5,642.7 644.4,641.0 649.3,639.4 654.2,637.8 659.1,636.3 660.0,636.0 664.0,634.9 668.8,633.5 673.7,632.2 678.6,631.0 683.5,629.9 688.4,628.8 689.9,628.4 693.3,627.7 698.1,626.7 703.0,625.8 707.9,625.0 712.8,624.2 717.7,623.4 719.8,623.1 722.6,622.7 727.4,622.1 732.3,621.5 737.2,621.0 742.1,620.5 747.0,620.1 749.6,619.9 751.9,619.7 756.8,619.4 761.6,619.1 766.5,618.9 771.4,618.7 776.3,618.6 779.5,618.5 781.2,618.5 786.1,618.4 790.9,618.4 795.8,618.4 800.7,618.5 805.6,618.6 809.4,618.7 810.5,618.7 815.4,618.8 820.2,619.0 825.1,619.3 830.0,619.5 834.9,619.9 839.3,620.2 839.8,620.2 844.7,620.7 849.6,621.1 854.4,621.7 859.3,622.3 864.2,622.9 869.1,623.7 869.2,623.7 874.0,624.4 878.9,625.3 883.7,626.2 888.6,627.3 893.5,628.3 898.4,629.5 899.1,629.7 903.3,630.7 908.2,632.0 913.0,633.4 917.9,634.9 922.8,636.4 927.7,638.1 928.9,638.5 932.6,639.8 937.5,641.6 942.4,643.5 947.2,645.4 952.1,647.5 957.0,649.6 958.8,650.4 961.9,651.9 966.8,654.2 971.7,656.6 976.5,659.1 981.4,661.7 986.3,664.4 988.7,665.8 991.2,667.2 996.1,670.1 1001.0,673.1 1005.8,676.2 1010.7,679.5 1015.6,682.9 1018.6,685.1 1020.5,686.5 1025.4,690.3 1030.3,694.2 1035.2,698.3 1036.5,699.5 1040.0,702.7 1044.9,707.2 1049.8,712.0 1054.7,717.0 1059.6,722.3 1064.5,727.8 1069.3,733.7 1074.2,739.8 1079.1,746.2 1084.0,752.9 1088.9,759.9 1090.0,761.5 1093.8,767.1 1098.6,773.8 1099.0,774.2 1103.5,778.7 1106.4,780.6 1108.4,781.5 1112.4,782.0 1113.3,781.9 1118.2,780.2 1119.9,779.2 1123.1,776.5 1128.0,771.1 1128.8,770.0 1132.8,764.5 1137.7,757.0 1140.8,752.0 1142.6,749.1 1147.5,741.1 1149.8,737.5 1152.4,733.3 1157.3,725.6 1162.1,718.2 1164.7,714.6 1167.0,711.4 1171.9,705.0 1176.8,699.0 1179.6,695.7 1181.7,693.3 1186.6,687.7 1191.4,682.3 1194.6,678.9 1196.3,677.0 1201.2,672.0 1206.1,667.1 1209.5,663.8 1211.0,662.4 1215.9,657.9 1220.7,653.6 1224.5,650.4 1225.6,649.5 1230.5,645.5 1235.4,641.7 1239.4,638.7 1240.3,638.1 1245.2,634.6 1250.1,631.2 1254.4,628.4 1254.9,628.0 1259.8,624.9 1264.7,622.0 1269.3,619.3 1269.6,619.1 1274.5,616.4 1279.4,613.7 1284.2,611.2 1289.1,608.8 1294.0,606.5 1298.9,604.2 1299.2,604.1 1303.8,602.1 1308.7,600.0 1313.5,598.0 1318.4,596.1 1323.3,594.3 1328.2,592.6 1329.1,592.3 1333.1,590.9 1338.0,589.3 1342.9,587.7 1347.7,586.3 1352.6,584.9 1357.5,583.5 1358.9,583.1 1362.4,582.2 1367.3,580.9 1372.2,579.7 1377.0,578.6 1381.9,577.4 1386.8,576.4 1388.8,575.9 1391.7,575.3 1396.6,574.3 1401.5,573.3 1406.3,572.4 1411.2,571.4 1416.1,570.6 1418.7,570.1 1421.0,569.7 1425.9,568.9 1430.8,568.1 1435.7,567.4 1440.5,566.6 1445.4,565.9 1448.6,565.5 1450.3,565.3 1455.2,564.7 1460.1,564.1 1465.0,563.5 1469.8,563.0 1474.7,562.5 1478.5,562.1 1479.6,562.0 1484.5,561.6 1489.4,561.1 1494.3,560.8 1499.1,560.4 1504.0,560.1 1508.9,559.8 1513.8,559.5" fill="none" stroke="#A010E0" stroke-width="5.4" stroke-linejoin="round"/>
<path d="M248.8,588.0 253.7,592.0 258.6,596.8 262.8,601.5 263.5,602.3 268.3,608.4 273.2,615.0 275.3,617.9 278.1,621.9 283.0,629.2 286.4,634.4 287.9,636.6 292.8,644.2 297.6,651.7 299.0,653.8 302.5,659.2 307.3,666.5 307.4,666.6 312.3,673.9 317.2,680.9 318.1,682.2 322.1,687.7 326.9,694.1 331.8,700.3 336.1,705.5 336.7,706.2 341.6,711.9 346.5,717.3 351.4,722.5 354.2,725.4 356.3,727.4 361.1,732.2 366.0,736.7 370.9,741.1 372.3,742.3 375.8,745.3 380.7,749.3 385.6,753.1 390.3,756.7 390.4,756.8 395.3,760.4 400.2,763.8 405.1,767.1 408.4,769.3 410.0,770.4 414.9,773.5 419.7,776.5 424.6,779.5 426.5,780.6 429.5,782.4 434.4,785.3 439.3,788.1 444.2,790.8 444.5,791.0 449.1,793.5 453.9,796.1 458.8,798.7 462.6,800.7 463.7,801.3 468.6,803.8 473.5,806.3 478.4,808.7 480.7,809.8 483.2,811.1 488.1,813.4 493.0,815.7 497.9,817.9 498.7,818.3 502.8,820.2 507.7,822.4 512.5,824.5 516.8,826.4 517.4,826.6 522.3,828.7 527.2,830.8 532.1,832.8 534.9,834.0 537.0,834.8 541.9,836.8 546.7,838.8 551.6,840.7 556.5,842.6 560.0,844.0 561.4,844.5 566.3,846.3 571.2,848.2 576.0,849.9 580.9,851.7 585.8,853.4 590.7,855.1 595.6,856.7 600.5,858.3 605.3,859.9 610.2,861.5 615.1,863.0 620.0,864.4 624.9,865.8 629.8,867.2 634.6,868.5 639.5,869.8 644.4,871.1 649.3,872.3 654.2,873.5 659.1,874.6 660.0,874.8 664.0,875.6 668.8,876.7 673.7,877.6 678.6,878.5 683.5,879.4 688.4,880.2 689.9,880.5 693.3,881.0 698.1,881.7 703.0,882.4 707.9,883.0 712.8,883.6 717.7,884.1 719.8,884.3 722.6,884.6 727.4,885.0 732.3,885.4 737.2,885.7 742.1,886.1 747.0,886.3 749.6,886.5 751.9,886.6 756.8,886.8 761.6,887.0 766.5,887.1 771.4,887.2 776.3,887.3 779.5,887.3 781.2,887.3 786.1,887.4 790.9,887.4 795.8,887.4 800.7,887.3 805.6,887.2 809.4,887.2 810.5,887.2 815.4,887.0 820.2,886.9 825.1,886.8 830.0,886.6 834.9,886.4 839.3,886.2 839.8,886.2 844.7,885.9 849.6,885.7 854.4,885.4 859.3,885.2 864.2,884.9 869.1,884.6 869.2,884.6 874.0,884.3 878.9,883.9 883.7,883.6 888.6,883.2 893.5,882.9 898.4,882.5 899.1,882.5 903.3,882.1 908.2,881.8 913.0,881.4 917.9,881.0 922.8,880.6 927.7,880.2 928.9,880.0 932.6,879.7 937.5,879.3 942.4,878.9 947.2,878.5 952.1,878.1 957.0,877.6 958.8,877.5 961.9,877.2 966.8,876.8 971.7,876.4 976.5,876.0 981.4,875.6 986.3,875.1 988.7,874.9 991.2,874.7 996.1,874.3 1001.0,873.9 1005.8,873.5 1010.7,873.1 1015.6,872.7 1018.6,872.5 1020.5,872.3 1025.4,871.9 1030.3,871.5 1035.2,871.2 1040.0,870.8 1044.9,870.4 1048.5,870.1 1049.8,870.0 1054.7,869.7 1059.6,869.3 1064.5,869.0 1069.3,868.6 1074.2,868.3 1079.1,867.9 1084.0,867.6 1088.9,867.3 1090.0,867.2 1093.8,867.0 1098.6,866.7 1103.5,866.4 1108.4,866.1 1113.3,865.8 1118.2,865.5 1119.9,865.4 1123.1,865.3 1128.0,865.0 1132.8,864.8 1137.7,864.5 1142.6,864.3 1147.5,864.1 1149.8,864.0 1152.4,863.8 1157.3,863.6 1162.1,863.4 1167.0,863.3 1171.9,863.1 1176.8,862.9 1179.6,862.8 1181.7,862.8 1186.6,862.6 1191.4,862.5 1196.3,862.4 1201.2,862.2 1206.1,862.1 1209.5,862.0 1211.0,862.0 1215.9,861.9 1220.7,861.8 1225.6,861.7 1230.5,861.7 1235.4,861.6 1239.4,861.5 1240.3,861.5 1245.2,861.5 1250.1,861.4 1254.9,861.4 1259.8,861.4 1264.7,861.3 1269.3,861.3 1269.6,861.3 1274.5,861.3 1279.4,861.3 1284.2,861.3 1289.1,861.3 1294.0,861.3 1298.9,861.3 1299.2,861.3 1303.8,861.3 1308.7,861.3 1313.5,861.3 1318.4,861.3 1323.3,861.4 1328.2,861.4 1329.1,861.4 1333.1,861.4 1338.0,861.5 1342.9,861.5 1347.7,861.6 1352.6,861.6 1357.5,861.7 1358.9,861.7 1362.4,861.7 1367.3,861.8 1372.2,861.9 1377.0,861.9 1381.9,862.0 1386.8,862.1 1388.8,862.1 1391.7,862.1 1396.6,862.2 1401.5,862.3 1406.3,862.3 1411.2,862.4 1416.1,862.5 1418.7,862.5 1421.0,862.6 1425.9,862.6 1430.8,862.7 1435.7,862.8 1440.5,862.9 1445.4,863.0 1448.6,863.0 1450.3,863.0 1455.2,863.1 1460.1,863.2 1465.0,863.3 1469.8,863.3 1474.7,863.4 1478.5,863.5 1479.6,863.5 1484.5,863.6 1489.4,863.6 1494.3,863.7 1499.1,863.8 1504.0,863.8 1508.9,863.9 1513.8,863.9" fill="none" stroke="#0000FF" stroke-opacity="0.75" stroke-width="5.4" stroke-linejoin="round" stroke-dasharray="9 12"/>
<path d="M248.8,222.1 253.7,224.5 258.6,227.4 263.5,230.8 267.8,234.1 268.3,234.5 273.2,238.5 278.1,242.6 281.7,245.6 283.0,246.7 287.9,250.7 292.8,254.5 295.6,256.6 297.6,258.0 302.5,261.1 307.4,263.9 312.3,266.5 317.2,268.9 322.1,271.1 323.4,271.6 326.9,273.2 331.8,275.2 336.7,277.2 341.6,279.1 346.5,281.1 351.2,282.9 351.4,283.0 356.3,285.0 361.1,287.0 366.0,289.1 370.9,291.2 375.8,293.3 379.0,294.7 380.7,295.4 385.6,297.6 390.4,299.8 395.3,301.9 400.2,304.1 405.1,306.3 406.8,307.1 410.0,308.5 414.9,310.8 419.7,313.0 424.6,315.2 429.5,317.4 434.4,319.6 434.6,319.6 439.3,321.8 444.2,323.9 449.1,326.1 453.9,328.2 458.8,330.3 462.4,331.8 463.7,332.4 468.6,334.4 473.5,336.5 478.4,338.5 483.2,340.4 488.1,342.4 490.2,343.2 493.0,344.3 497.9,346.2 502.8,348.1 507.7,350.0 512.5,351.8 517.4,353.7 518.0,353.9 522.3,355.5 527.2,357.3 532.1,359.1 537.0,360.9 541.9,362.7 545.8,364.1 546.7,364.4 551.6,366.2 556.5,367.9 561.4,369.6 566.3,371.4 571.2,373.1 573.6,374.0 576.0,374.8 580.9,376.5 585.8,378.3 590.7,380.0 595.6,381.7 600.5,383.4 601.4,383.8 605.3,385.2 610.2,386.9 615.1,388.6 620.0,390.3 624.9,392.0 629.8,393.7 634.6,395.4 639.5,397.0 640.0,397.2 644.4,398.6 649.3,400.2 654.2,401.7 659.1,403.3 664.0,404.8 668.8,406.4 673.7,408.0 678.6,409.5 683.5,411.1 688.4,412.8 693.3,414.4 698.1,416.1 702.5,417.7 703.0,417.9 707.9,419.7 712.8,421.6 717.7,423.5 722.6,425.4 727.4,427.4 732.3,429.4 737.2,431.4 742.1,433.4 747.0,435.4 751.9,437.3 756.8,439.3 761.6,441.2 765.1,442.6 766.5,443.1 771.4,445.0 776.3,446.8 781.2,448.6 786.1,450.4 790.9,452.2 795.8,453.9 800.7,455.6 805.6,457.3 810.5,459.0 815.4,460.6 820.2,462.3 825.1,463.9 827.6,464.8 830.0,465.6 834.9,467.2 839.8,468.9 844.7,470.5 849.6,472.2 854.4,473.9 859.3,475.5 864.2,477.2 869.1,478.9 874.0,480.5 878.9,482.2 883.7,483.9 888.6,485.6 890.2,486.1 893.5,487.3 898.4,489.0 903.3,490.7 908.2,492.4 913.0,494.2 917.9,495.9 922.8,497.7 927.7,499.4 932.6,501.2 937.5,503.0 942.4,504.8 947.2,506.6 952.1,508.4 952.7,508.6 957.0,510.2 961.9,512.1 966.8,513.9 971.7,515.8 976.5,517.7 981.4,519.6 986.3,521.5 991.2,523.5 996.1,525.4 1001.0,527.4 1005.8,529.4 1010.7,531.4 1015.3,533.3 1015.6,533.4 1020.5,535.5 1025.4,537.6 1030.3,539.7 1035.2,541.8 1040.0,543.9 1044.9,546.0 1049.8,548.2 1054.7,550.4 1059.6,552.6 1064.5,554.8 1069.3,557.0 1074.2,559.2 1079.1,561.5 1084.0,563.8 1088.9,566.0 1090.0,566.6 1093.8,568.3 1098.6,570.7 1103.5,573.0 1108.4,575.3 1113.3,577.7 1118.2,580.1 1119.9,580.9 1123.1,582.4 1128.0,584.8 1132.8,587.2 1137.7,589.5 1142.6,591.8 1147.5,594.0 1149.8,595.0 1152.4,596.1 1157.3,598.2 1162.1,600.2 1167.0,602.1 1171.9,604.0 1176.8,606.0 1179.6,607.1 1181.7,607.9 1186.6,609.9 1191.4,611.9 1196.3,613.9 1201.2,615.9 1206.1,618.0 1209.5,619.5 1211.0,620.1 1215.9,622.2 1220.7,624.3 1225.6,626.5 1230.5,628.6 1235.4,630.8 1239.4,632.6 1240.3,633.0 1245.2,635.2 1250.1,637.4 1254.9,639.6 1259.8,641.8 1264.7,644.0 1269.3,646.1 1269.6,646.2 1274.5,648.4 1279.4,650.6 1284.2,652.8 1289.1,654.9 1294.0,657.1 1298.9,659.2 1299.2,659.3 1303.8,661.3 1308.7,663.4 1313.5,665.4 1318.4,667.4 1323.3,669.4 1328.2,671.4 1329.1,671.7 1333.1,673.3 1338.0,675.1 1342.9,677.0 1347.7,678.9 1352.6,680.8 1357.5,682.8 1358.9,683.4 1362.4,684.9 1367.3,687.0 1372.2,689.2 1377.0,691.4 1381.9,693.6 1386.8,695.9 1388.8,696.8 1391.7,698.2 1396.6,700.4 1401.5,702.6 1406.3,704.9 1411.2,707.1 1416.1,709.3 1418.7,710.5 1421.0,711.5 1425.9,713.7 1430.8,715.8 1435.7,718.0 1440.5,720.1 1445.4,722.2 1448.6,723.6 1450.3,724.3 1455.2,726.4 1460.1,728.4 1465.0,730.4 1469.8,732.4 1474.7,734.4 1478.5,735.9 1479.6,736.3 1484.5,738.3 1489.4,740.1 1494.3,742.0 1499.1,743.8 1504.0,745.6 1508.9,747.4 1513.8,749.1" fill="none" stroke="#80FF80" stroke-width="5.4" stroke-linejoin="round" stroke-dasharray="9 12"/>
<path d="M248.8,124.9 253.7,125.7 258.6,126.9 263.5,128.3 267.8,129.8 268.3,129.9 273.2,131.7 278.1,133.4 281.7,134.6 283.0,135.0 287.9,136.5 292.8,137.9 295.6,138.6 297.6,139.1 302.5,140.3 307.4,141.4 312.3,142.4 317.2,143.3 322.1,144.2 323.4,144.5 326.9,145.1 331.8,146.0 336.7,146.9 341.6,147.8 346.5,148.6 351.2,149.4 351.4,149.5 356.3,150.3 361.1,151.1 366.0,151.9 370.9,152.7 375.8,153.5 379.0,154.0 380.7,154.3 385.6,155.1 390.4,155.9 395.3,156.6 400.2,157.4 405.1,158.1 406.8,158.4 410.0,158.9 414.9,159.6 419.7,160.3 424.6,161.1 429.5,161.8 434.4,162.5 434.6,162.5 439.3,163.2 444.2,163.9 449.1,164.7 453.9,165.4 458.8,166.1 462.4,166.6 463.7,166.8 468.6,167.5 473.5,168.2 478.4,168.8 483.2,169.5 488.1,170.2 490.2,170.5 493.0,170.9 497.9,171.6 502.8,172.3 507.7,173.0 512.5,173.6 517.4,174.3 518.0,174.4 522.3,175.0 527.2,175.7 532.1,176.4 537.0,177.0 541.9,177.7 545.8,178.2 546.7,178.4 551.6,179.1 556.5,179.7 561.4,180.4 566.3,181.1 571.2,181.8 573.6,182.1 576.0,182.4 580.9,183.1 585.8,183.8 590.7,184.5 595.6,185.2 600.5,185.9 601.4,186.0 605.3,186.5 610.2,187.2 615.1,187.9 620.0,188.6 624.9,189.3 629.8,190.0 634.6,190.7 639.5,191.4 640.0,191.5 644.4,192.1 649.3,192.9 654.2,193.6 659.1,194.3 664.0,195.0 668.8,195.7 673.7,196.5 678.6,197.2 683.5,197.9 688.4,198.7 693.3,199.4 698.1,200.1 702.5,200.8 703.0,200.9 707.9,201.6 712.8,202.4 717.7,203.1 722.6,203.9 727.4,204.6 732.3,205.4 737.2,206.1 742.1,206.9 747.0,207.7 751.9,208.4 756.8,209.2 761.6,210.0 765.1,210.5 766.5,210.7 771.4,211.5 776.3,212.3 781.2,213.0 786.1,213.8 790.9,214.6 795.8,215.4 800.7,216.1 805.6,216.9 810.5,217.7 815.4,218.5 820.2,219.3 825.1,220.1 827.6,220.5 830.0,220.8 834.9,221.6 839.8,222.4 844.7,223.2 849.6,224.0 854.4,224.8 859.3,225.6 864.2,226.4 869.1,227.1 874.0,227.9 878.9,228.7 883.7,229.5 888.6,230.3 890.2,230.6 893.5,231.1 898.4,231.9 903.3,232.7 908.2,233.5 913.0,234.3 917.9,235.1 922.8,235.8 927.7,236.6 932.6,237.4 937.5,238.3 942.4,239.1 947.2,239.9 952.1,240.7 952.7,240.8 957.0,241.5 961.9,242.3 966.8,243.2 971.7,244.0 976.5,244.8 981.4,245.7 986.3,246.5 991.2,247.4 996.1,248.2 1001.0,249.1 1005.8,250.0 1010.7,250.9 1015.3,251.7 1015.6,251.8 1020.5,252.7 1025.4,253.6 1030.3,254.5 1035.2,255.4 1040.0,256.3 1044.9,257.3 1049.8,258.2 1054.7,259.1 1059.6,260.0 1064.5,261.0 1069.3,261.9 1074.2,262.8 1079.1,263.7 1080.0,263.9 1084.0,264.6 1088.9,265.5 1093.8,266.4 1098.6,267.3 1103.5,268.2 1108.4,269.1 1113.3,270.0 1118.2,270.9 1123.1,271.7 1128.0,272.6 1132.8,273.5 1137.7,274.3 1142.5,275.2 1142.6,275.2 1147.5,276.0 1152.4,276.9 1157.3,277.7 1162.1,278.6 1167.0,279.4 1171.9,280.3 1176.8,281.1 1181.7,281.9 1186.6,282.8 1191.4,283.6 1196.3,284.4 1201.2,285.2 1205.1,285.9 1206.1,286.1 1211.0,286.9 1215.9,287.7 1220.7,288.5 1225.6,289.4 1230.5,290.2 1235.4,291.0 1240.3,291.8 1245.2,292.7 1250.1,293.5 1254.9,294.3 1259.8,295.1 1264.7,296.0 1267.6,296.5 1269.6,296.8 1274.5,297.6 1279.4,298.5 1284.2,299.3 1289.1,300.1 1294.0,301.0 1298.9,301.8 1303.8,302.7 1308.7,303.5 1313.5,304.4 1318.4,305.2 1323.3,306.1 1328.2,306.9 1330.2,307.3 1333.1,307.8 1338.0,308.7 1342.9,309.5 1347.7,310.4 1352.6,311.3 1357.5,312.2 1362.4,313.0 1367.3,313.9 1372.2,314.8 1377.0,315.7 1381.9,316.6 1386.8,317.5 1391.7,318.3 1392.7,318.5 1396.6,319.2 1401.5,320.1 1406.3,321.0 1411.2,321.8 1416.1,322.7 1421.0,323.6 1425.9,324.4 1430.8,325.3 1435.7,326.1 1440.5,327.0 1445.4,327.8 1450.3,328.7 1455.2,329.5 1455.3,329.5 1460.1,330.3 1465.0,331.1 1469.8,331.9 1474.7,332.7 1479.6,333.5 1484.5,334.3 1489.4,335.1 1494.3,335.8 1499.1,336.6 1504.0,337.3 1508.9,338.0 1513.8,338.8" fill="none" stroke="#0000FF" stroke-opacity="0.75" stroke-width="5.4" stroke-linejoin="round" stroke-dasharray="9 12"/>
<path d="M248.8,158.4 253.7,160.9 258.6,162.2 263.5,163.1 267.8,164.4 268.3,164.7 273.2,167.3 278.1,170.6 281.7,173.0 283.0,173.8 287.9,176.3 292.8,178.4 295.6,179.4 297.6,180.1 302.5,181.4 307.4,182.7 309.5,183.2 312.3,183.8 317.2,185.0 322.1,186.1 323.4,186.5 326.9,187.3 331.8,188.5 336.7,189.6 341.6,190.8 346.5,191.9 351.2,193.0 351.4,193.1 356.3,194.2 361.1,195.4 366.0,196.5 370.9,197.7 375.8,198.8 379.0,199.5 380.7,199.9 385.6,201.0 390.4,202.2 395.3,203.3 400.2,204.4 405.1,205.5 406.8,205.9 410.0,206.6 414.9,207.7 419.7,208.7 424.6,209.8 429.5,210.9 434.4,211.9 434.6,212.0 439.3,213.0 444.2,214.0 449.1,215.1 453.9,216.1 458.8,217.1 462.4,217.9 463.7,218.2 468.6,219.2 473.5,220.2 478.4,221.2 483.2,222.2 488.1,223.2 490.2,223.7 493.0,224.3 497.9,225.3 502.8,226.3 507.7,227.3 512.5,228.3 517.4,229.2 518.0,229.4 522.3,230.2 527.2,231.2 532.1,232.2 537.0,233.2 541.9,234.2 545.8,235.0 546.7,235.2 551.6,236.2 556.5,237.2 561.4,238.2 566.3,239.1 571.2,240.1 573.6,240.6 576.0,241.1 580.9,242.1 585.8,243.1 590.7,244.1 595.6,245.1 600.5,246.1 601.4,246.3 605.3,247.1 610.2,248.1 615.1,249.2 620.0,250.2 624.9,251.2 629.8,252.2 634.6,253.2 639.5,254.3 640.0,254.4 644.4,255.3 649.3,256.3 654.2,257.4 659.1,258.4 664.0,259.4 668.8,260.5 673.7,261.5 678.6,262.6 683.5,263.6 688.4,264.7 693.3,265.8 698.1,266.8 702.5,267.8 703.0,267.9 707.9,269.0 712.8,270.0 717.7,271.1 722.6,272.2 727.4,273.3 732.3,274.3 737.2,275.4 742.1,276.5 747.0,277.6 751.9,278.7 756.8,279.8 761.6,280.9 765.1,281.7 766.5,282.0 771.4,283.1 776.3,284.2 781.2,285.3 786.1,286.4 790.9,287.5 795.8,288.7 800.7,289.8 805.6,290.9 810.5,292.0 815.4,293.2 820.2,294.3 825.1,295.4 827.6,296.0 830.0,296.6 834.9,297.7 839.8,298.9 844.7,300.0 849.6,301.2 854.4,302.3 859.3,303.5 864.2,304.6 869.1,305.8 874.0,307.0 878.9,308.1 883.7,309.3 888.6,310.5 890.2,310.8 893.5,311.6 898.4,312.8 903.3,314.0 908.2,315.2 913.0,316.4 917.9,317.6 922.8,318.7 927.7,319.9 932.6,321.1 937.5,322.3 942.4,323.5 947.2,324.7 952.1,326.0 952.7,326.1 957.0,327.2 961.9,328.4 966.8,329.6 971.7,330.8 976.5,332.0 981.4,333.3 986.3,334.5 991.2,335.7 996.1,336.9 1001.0,338.2 1005.8,339.4 1010.7,340.7 1015.3,341.8 1015.6,341.9 1020.5,343.2 1025.4,344.4 1030.3,345.7 1035.2,346.9 1040.0,348.2 1044.9,349.4 1049.8,350.7 1054.7,351.9 1059.6,353.2 1064.5,354.5 1069.3,355.8 1074.2,357.0 1079.1,358.3 1080.0,358.5 1084.0,359.6 1088.9,360.9 1093.8,362.2 1098.6,363.5 1103.5,364.7 1108.4,366.0 1113.3,367.3 1118.2,368.6 1123.1,369.9 1128.0,371.2 1132.8,372.5 1137.7,373.8 1142.5,375.1 1142.6,375.1 1147.5,376.5 1152.4,377.8 1157.3,379.1 1162.1,380.4 1167.0,381.7 1171.9,383.0 1176.8,384.3 1181.7,385.7 1186.6,387.0 1191.4,388.3 1196.3,389.6 1201.2,391.0 1205.1,392.0 1206.1,392.3 1211.0,393.6 1215.9,394.9 1220.7,396.3 1225.6,397.6 1230.5,398.9 1235.4,400.3 1240.3,401.6 1245.2,403.0 1250.1,404.4 1254.9,405.7 1259.8,407.1 1264.7,408.5 1267.6,409.3 1269.6,409.9 1274.5,411.3 1279.4,412.7 1284.2,414.2 1289.1,415.6 1294.0,417.1 1298.9,418.5 1303.8,420.0 1308.7,421.5 1313.5,423.0 1318.4,424.6 1323.3,426.1 1328.2,427.7 1330.2,428.4 1333.1,429.3 1338.0,430.9 1342.9,432.6 1347.7,434.2 1352.6,435.9 1357.5,437.6 1362.4,439.3 1367.3,441.0 1372.2,442.7 1377.0,444.5 1381.9,446.3 1386.8,448.1 1391.7,449.9 1392.7,450.3 1396.6,451.7 1401.5,453.6 1406.3,455.5 1411.2,457.3 1416.1,459.2 1421.0,461.2 1425.9,463.1 1430.8,465.0 1435.7,467.0 1440.5,469.0 1445.4,470.9 1450.3,473.0 1455.2,475.0 1455.3,475.0 1460.1,477.0 1465.0,479.0 1469.8,481.1 1474.7,483.2 1479.6,485.3 1484.5,487.4 1489.4,489.5 1494.3,491.6 1499.1,493.7 1504.0,495.9 1508.9,498.0 1513.8,500.2" fill="none" stroke="#FF4040" stroke-width="5.4" stroke-linejoin="round"/>
<path d="M248.8,122.1 253.7,122.9 258.6,124.1 263.5,125.5 267.8,127.0 268.3,127.1 273.2,128.9 278.1,130.6 281.7,131.8 283.0,132.2 287.9,133.7 292.8,135.1 295.6,135.8 297.6,136.3 302.5,137.5 307.4,138.6 312.3,139.6 317.2,140.5 322.1,141.4 323.4,141.7 326.9,142.3 331.8,143.2 336.7,144.1 341.6,145.0 346.5,145.8 351.2,146.6 351.4,146.7 356.3,147.5 361.1,148.3 366.0,149.1 370.9,149.9 375.8,150.7 379.0,151.2 380.7,151.5 385.6,152.3 390.4,153.1 395.3,153.8 400.2,154.6 405.1,155.3 406.8,155.6 410.0,156.1 414.9,156.8 419.7,157.5 424.6,158.3 429.5,159.0 434.4,159.7 434.6,159.7 439.3,160.4 444.2,161.1 449.1,161.9 453.9,162.6 458.8,163.3 462.4,163.8 463.7,164.0 468.6,164.7 473.5,165.4 478.4,166.0 483.2,166.7 488.1,167.4 490.2,167.7 493.0,168.1 497.9,168.8 502.8,169.5 507.7,170.2 512.5,170.8 517.4,171.5 518.0,171.6 522.3,172.2 527.2,172.9 532.1,173.6 537.0,174.2 541.9,174.9 545.8,175.4 546.7,175.6 551.6,176.3 556.5,176.9 561.4,177.6 566.3,178.3 571.2,179.0 573.6,179.3 576.0,179.6 580.9,180.3 585.8,181.0 590.7,181.7 595.6,182.4 600.5,183.1 601.4,183.2 605.3,183.7 610.2,184.4 615.1,185.1 620.0,185.8 624.9,186.5 629.8,187.2 634.6,187.9 639.5,188.6 640.0,188.7 644.4,189.3 649.3,190.1 654.2,190.8 659.1,191.5 664.0,192.2 668.8,192.9 673.7,193.7 678.6,194.4 683.5,195.1 688.4,195.9 693.3,196.6 698.1,197.3 702.5,198.0 703.0,198.1 707.9,198.8 712.8,199.6 717.7,200.3 722.6,201.1 727.4,201.8 732.3,202.6 737.2,203.3 742.1,204.1 747.0,204.9 751.9,205.6 756.8,206.4 761.6,207.2 765.1,207.7 766.5,207.9 771.4,208.7 776.3,209.5 781.2,210.2 786.1,211.0 790.9,211.8 795.8,212.6 800.7,213.3 805.6,214.1 810.5,214.9 815.4,215.7 820.2,216.5 825.1,217.3 827.6,217.7 830.0,218.0 834.9,218.8 839.8,219.6 844.7,220.4 849.6,221.2 854.4,222.0 859.3,222.8 864.2,223.6 869.1,224.3 874.0,225.1 878.9,225.9 883.7,226.7 888.6,227.5 890.2,227.8 893.5,228.3 898.4,229.1 903.3,229.9 908.2,230.7 913.0,231.5 917.9,232.3 922.8,233.0 927.7,233.8 932.6,234.6 937.5,235.5 942.4,236.3 947.2,237.1 952.1,237.9 952.7,238.0 957.0,238.7 961.9,239.5 966.8,240.4 971.7,241.2 976.5,242.0 981.4,242.9 986.3,243.7 991.2,244.6 996.1,245.4 1001.0,246.3 1005.8,247.2 1010.7,248.1 1015.3,248.9 1015.6,249.0 1020.5,249.9 1025.4,250.8 1030.3,251.7 1035.2,252.6 1040.0,253.5 1044.9,254.5 1049.8,255.4 1054.7,256.3 1059.6,257.2 1064.5,258.2 1069.3,259.1 1074.2,260.0 1079.1,260.9 1080.0,261.1 1084.0,261.8 1088.9,262.7 1093.8,263.6 1098.6,264.5 1103.5,265.4 1108.4,266.3 1113.3,267.2 1118.2,268.1 1123.1,268.9 1128.0,269.8 1132.8,270.7 1137.7,271.5 1142.5,272.4 1142.6,272.4 1147.5,273.2 1152.4,274.1 1157.3,274.9 1162.1,275.8 1167.0,276.6 1171.9,277.5 1176.8,278.3 1181.7,279.1 1186.6,280.0 1191.4,280.8 1196.3,281.6 1201.2,282.4 1205.1,283.1 1206.1,283.3 1211.0,284.1 1215.9,284.9 1220.7,285.7 1225.6,286.6 1230.5,287.4 1235.4,288.2 1240.3,289.0 1245.2,289.9 1250.1,290.7 1254.9,291.5 1259.8,292.3 1264.7,293.2 1267.6,293.7 1269.6,294.0 1274.5,294.8 1279.4,295.7 1284.2,296.5 1289.1,297.3 1294.0,298.2 1298.9,299.0 1303.8,299.9 1308.7,300.7 1313.5,301.6 1318.4,302.4 1323.3,303.3 1328.2,304.1 1330.2,304.5 1333.1,305.0 1338.0,305.9 1342.9,306.7 1347.7,307.6 1352.6,308.5 1357.5,309.4 1362.4,310.2 1367.3,311.1 1372.2,312.0 1377.0,312.9 1381.9,313.8 1386.8,314.7 1391.7,315.5 1392.7,315.7 1396.6,316.4 1401.5,317.3 1406.3,318.2 1411.2,319.0 1416.1,319.9 1421.0,320.8 1425.9,321.6 1430.8,322.5 1435.7,323.3 1440.5,324.2 1445.4,325.0 1450.3,325.9 1455.2,326.7 1455.3,326.7 1460.1,327.5 1465.0,328.3 1469.8,329.1 1474.7,329.9 1479.6,330.7 1484.5,331.5 1489.4,332.3 1494.3,333.0 1499.1,333.8 1504.0,334.5 1508.9,335.2 1513.8,336.0" fill="none" stroke="#8000FF" stroke-width="5.4" stroke-linejoin="round"/>
<path d="M247.1,122.5 L254.1,122.5 L251.1,135.5 Z" fill="#2000FF"/>
<path d="M247.1,157.0 L254.1,157.0 L251.1,170.0 Z" fill="#E00010"/>
<path d="M247.1,220.0 L254.1,220.0 L251.1,233.0 Z" fill="#80FF80"/>
<path d="M574,150.6 H689.4" stroke="#000" stroke-width="4.8" fill="none"/><path d="M731,150.6 L688.4,132.29999999999998 L688.4,168.9 Z" fill="#000"/>
<ellipse cx="468.6" cy="800" rx="34.3" ry="89.2" fill="none" stroke="#000" stroke-width="5"/>
<path d="M434,850.8 H369.59999999999997" stroke="#000" stroke-width="5" fill="none"/><path d="M328.2,850.8 L370.59999999999997,832.9 L370.59999999999997,868.6999999999999 Z" fill="#000"/>
<text transform="translate(205.2 79.5) scale(1 1.078)" font-family="Liberation Sans, sans-serif" font-weight="bold" font-size="64" text-anchor="end">0</text>
<text transform="translate(205.2 299.9) scale(1 1.078)" font-family="Liberation Sans, sans-serif" font-weight="bold" font-size="64" text-anchor="end">-20</text>
<text transform="translate(205.2 520.2) scale(1 1.078)" font-family="Liberation Sans, sans-serif" font-weight="bold" font-size="64" text-anchor="end">-40</text>
<text transform="translate(205.2 740.5) scale(1 1.078)" font-family="Liberation Sans, sans-serif" font-weight="bold" font-size="64" text-anchor="end">-60</text>
<text transform="translate(205.2 960.9) scale(1 1.078)" font-family="Liberation Sans, sans-serif" font-weight="bold" font-size="64" text-anchor="end">-80</text>
<text transform="translate(249.6 1049.0) scale(1 1.078)" font-family="Liberation Sans, sans-serif" font-weight="bold" font-size="64" text-anchor="middle">0</text>
<text transform="translate(460.2 1049.0) scale(1 1.078)" font-family="Liberation Sans, sans-serif" font-weight="bold" font-size="64" text-anchor="middle">20</text>
<text transform="translate(670.9 1049.0) scale(1 1.078)" font-family="Liberation Sans, sans-serif" font-weight="bold" font-size="64" text-anchor="middle">40</text>
<text transform="translate(881.5 1049.0) scale(1 1.078)" font-family="Liberation Sans, sans-serif" font-weight="bold" font-size="64" text-anchor="middle">60</text>
<text transform="translate(1092.1 1049.0) scale(1 1.078)" font-family="Liberation Sans, sans-serif" font-weight="bold" font-size="64" text-anchor="middle">80</text>
<text transform="translate(1302.8 1049.0) scale(1 1.078)" font-family="Liberation Sans, sans-serif" font-weight="bold" font-size="64" text-anchor="middle">100</text>
<text transform="translate(1513.4 1049.0) scale(1 1.078)" font-family="Liberation Sans, sans-serif" font-weight="bold" font-size="64" text-anchor="middle">120</text>
<text transform="translate(1566.5 79.5) scale(1 1.078)" font-family="Liberation Sans, sans-serif" font-weight="bold" font-size="64" text-anchor="start">0</text>
<text transform="translate(1566.5 255.8) scale(1 1.078)" font-family="Liberation Sans, sans-serif" font-weight="bold" font-size="64" text-anchor="start">-1</text>
<text transform="translate(1566.5 432.1) scale(1 1.078)" font-family="Liberation Sans, sans-serif" font-weight="bold" font-size="64" text-anchor="start">-2</text>
<text transform="translate(1566.5 608.3) scale(1 1.078)" font-family="Liberation Sans, sans-serif" font-weight="bold" font-size="64" text-anchor="start">-3</text>
<text transform="translate(1566.5 784.6) scale(1 1.078)" font-family="Liberation Sans, sans-serif" font-weight="bold" font-size="64" text-anchor="start">-4</text>
<text transform="translate(1566.5 960.9) scale(1 1.078)" font-family="Liberation Sans, sans-serif" font-weight="bold" font-size="64" text-anchor="start">-5</text>
<text transform="translate(881.3 1142.3) scale(1 1.078)" font-family="Liberation Sans, sans-serif" font-weight="bold" font-size="70" text-anchor="middle">Frequency (GHz)</text>
<text transform="translate(77.1 496.0) rotate(-90) scale(1.037 1.04)" font-family="Liberation Sans, sans-serif" font-weight="bold" font-size="70" text-anchor="middle">Isolation (dB)</text>
<text transform="translate(1670.8 496.0) rotate(90) scale(1.037 1.04)" font-family="Liberation Sans, sans-serif" font-weight="bold" font-size="70" text-anchor="middle">Insertion loss (dB)</text>
<path d="M1781,190.0 H1872.2" stroke="#FF4040" stroke-width="5.8" fill="none"/>
<text transform="translate(1922.0 218.6) scale(1 1.078)" font-family="Liberation Sans, sans-serif" font-size="71.6" text-anchor="start">I1/O2</text>
<path d="M1781,308.4 H1872.2" stroke="#80FF80" stroke-width="5.8" stroke-dasharray="10.4 10.6" fill="none"/>
<text transform="translate(1922.0 337.0) scale(1 1.078)" font-family="Liberation Sans, sans-serif" font-size="71.6" text-anchor="start">I2/O1</text>
<path d="M1781,426.8 H1872.2" stroke="#4040FF" stroke-width="5.8" stroke-dasharray="10.4 10.6" fill="none"/>
<text transform="translate(1922.0 455.4) scale(1 1.078)" font-family="Liberation Sans, sans-serif" font-size="71.6" text-anchor="start">I3/O4</text>
<path d="M1781,545.2 H1872.2" stroke="#8000FF" stroke-width="5.8" fill="none"/>
<text transform="translate(1922.0 573.8) scale(1 1.078)" font-family="Liberation Sans, sans-serif" font-size="71.6" text-anchor="start">I4/O3</text>
<g fill="#000">
<ellipse cx="396.9" cy="1313.6" rx="4.6" ry="4.54"/>
<ellipse cx="421.0" cy="1313.6" rx="4.6" ry="4.54"/>
<ellipse cx="445.1" cy="1313.6" rx="4.6" ry="4.54"/>
<ellipse cx="469.2" cy="1313.6" rx="4.6" ry="4.54"/>
<ellipse cx="493.3" cy="1313.6" rx="4.6" ry="4.54"/>
<ellipse cx="517.4" cy="1313.6" rx="4.6" ry="4.54"/>
<ellipse cx="541.5" cy="1313.6" rx="4.6" ry="4.54"/>
<ellipse cx="565.6" cy="1313.6" rx="4.6" ry="4.54"/>
<ellipse cx="589.7" cy="1313.6" rx="4.6" ry="4.54"/>
<ellipse cx="613.8" cy="1313.6" rx="4.6" ry="4.54"/>
<ellipse cx="637.9" cy="1313.6" rx="4.6" ry="4.54"/>
<ellipse cx="662.0" cy="1313.6" rx="4.6" ry="4.54"/>
<ellipse cx="686.1" cy="1313.6" rx="4.6" ry="4.54"/>
<ellipse cx="710.2" cy="1313.6" rx="4.6" ry="4.54"/>
<ellipse cx="734.3" cy="1313.6" rx="4.6" ry="4.54"/>
<ellipse cx="758.4" cy="1313.6" rx="4.6" ry="4.54"/>
<ellipse cx="782.5" cy="1313.6" rx="4.6" ry="4.54"/>
<ellipse cx="806.6" cy="1313.6" rx="4.6" ry="4.54"/>
<ellipse cx="830.7" cy="1313.6" rx="4.6" ry="4.54"/>
<ellipse cx="854.8" cy="1313.6" rx="4.6" ry="4.54"/>
<ellipse cx="878.9" cy="1313.6" rx="4.6" ry="4.54"/>
<ellipse cx="903.0" cy="1313.6" rx="4.6" ry="4.54"/>
<ellipse cx="927.1" cy="1313.6" rx="4.6" ry="4.54"/>
<ellipse cx="951.2" cy="1313.6" rx="4.6" ry="4.54"/>
<ellipse cx="975.3" cy="1313.6" rx="4.6" ry="4.54"/>
<ellipse cx="999.3" cy="1313.6" rx="4.6" ry="4.54"/>
<ellipse cx="1023.4" cy="1313.6" rx="4.6" ry="4.54"/>
<ellipse cx="1047.5" cy="1313.6" rx="4.6" ry="4.54"/>
<ellipse cx="1071.6" cy="1313.6" rx="4.6" ry="4.54"/>
<ellipse cx="1095.7" cy="1313.6" rx="4.6" ry="4.54"/>
<ellipse cx="1119.8" cy="1313.6" rx="4.6" ry="4.54"/>
<ellipse cx="1143.9" cy="1313.6" rx="4.6" ry="4.54"/>
<ellipse cx="1168.0" cy="1313.6" rx="4.6" ry="4.54"/>
<ellipse cx="1192.1" cy="1313.6" rx="4.6" ry="4.54"/>
<ellipse cx="1216.2" cy="1313.6" rx="4.6" ry="4.54"/>
<ellipse cx="1240.3" cy="1313.6" rx="4.6" ry="4.54"/>
<ellipse cx="1264.4" cy="1313.6" rx="4.6" ry="4.54"/>
<ellipse cx="1288.5" cy="1313.6" rx="4.6" ry="4.54"/>
<ellipse cx="1312.6" cy="1313.6" rx="4.6" ry="4.54"/>
<ellipse cx="1336.7" cy="1313.6" rx="4.6" ry="4.54"/>
<ellipse cx="1360.8" cy="1313.6" rx="4.6" ry="4.54"/>
<ellipse cx="1384.9" cy="1313.6" rx="4.6" ry="4.54"/>
<ellipse cx="1409.0" cy="1313.6" rx="4.6" ry="4.54"/>
<ellipse cx="1433.1" cy="1313.6" rx="4.6" ry="4.54"/>
<ellipse cx="1457.2" cy="1313.6" rx="4.6" ry="4.54"/>
<ellipse cx="1481.3" cy="1313.6" rx="4.6" ry="4.54"/>
<ellipse cx="1505.4" cy="1313.6" rx="4.6" ry="4.54"/>
<ellipse cx="1529.5" cy="1313.6" rx="4.6" ry="4.54"/>
<ellipse cx="1553.6" cy="1313.6" rx="4.6" ry="4.54"/>
</g>
<g stroke="#000" stroke-width="9.4" fill="none" stroke-linecap="butt">
<path d="M372.6,1308.9 V2118.3"/>
<path d="M367.9,2113.6 H1582.5"/>
<path d="M337.9,1313.6 H372.6"/>
<path d="M337.9,1473.6 H372.6"/>
<path d="M337.9,1633.6 H372.6"/>
<path d="M337.9,1793.6 H372.6"/>
<path d="M337.9,1953.6 H372.6"/>
<path d="M337.9,2113.6 H372.6"/>
<path d="M372.6,2113.6 V2148.3"/>
<path d="M573.5,2113.6 V2148.3"/>
<path d="M774.4,2113.6 V2148.3"/>
<path d="M975.2,2113.6 V2148.3"/>
<path d="M1176.1,2113.6 V2148.3"/>
<path d="M1376.9,2113.6 V2148.3"/>
<path d="M1577.8,2113.6 V2148.3"/>
</g>
<path d="M371.8,1825.9 376.5,1826.6 381.2,1827.1 385.8,1827.5 390.5,1827.8 395.1,1827.9 399.8,1827.9 404.5,1827.8 409.1,1827.5 412.1,1827.3 413.8,1827.1 418.4,1826.6 423.1,1826.0 427.7,1825.3 432.4,1824.5 437.1,1823.6 441.7,1822.6 446.4,1821.6 451.0,1820.4 455.7,1819.2 460.3,1817.9 464.2,1816.8 465.0,1816.6 469.7,1815.2 474.3,1813.8 479.0,1812.3 483.6,1810.8 488.3,1809.2 493.0,1807.7 497.6,1806.1 502.3,1804.5 506.9,1802.8 511.6,1801.2 516.2,1799.6 516.4,1799.6 520.9,1798.0 525.6,1796.4 530.2,1794.8 534.9,1793.2 539.5,1791.6 544.2,1790.0 548.8,1788.5 553.5,1786.9 558.2,1785.4 562.8,1783.8 567.5,1782.3 568.5,1782.0 572.1,1780.8 576.8,1779.3 581.4,1777.8 586.1,1776.3 590.8,1774.8 595.4,1773.4 600.1,1771.9 604.7,1770.5 609.4,1769.1 614.1,1767.7 618.7,1766.3 620.6,1765.7 623.4,1764.9 628.0,1763.6 632.7,1762.2 637.3,1760.9 642.0,1759.6 646.7,1758.3 651.3,1757.1 656.0,1755.8 660.6,1754.6 665.3,1753.3 669.9,1752.1 672.7,1751.4 674.6,1751.0 679.3,1749.8 683.9,1748.7 688.6,1747.5 693.2,1746.4 697.9,1745.4 702.5,1744.3 707.2,1743.2 711.9,1742.2 716.5,1741.2 721.2,1740.2 724.8,1739.4 725.8,1739.2 730.5,1738.3 735.2,1737.3 739.8,1736.4 744.5,1735.5 749.1,1734.6 753.8,1733.7 758.4,1732.9 763.1,1732.1 767.8,1731.2 772.4,1730.4 777.0,1729.7 777.1,1729.6 781.7,1728.9 786.4,1728.1 791.0,1727.4 795.7,1726.6 800.4,1725.9 805.0,1725.2 809.7,1724.5 814.3,1723.9 819.0,1723.2 823.6,1722.6 828.3,1722.0 829.1,1721.9 833.0,1721.3 837.6,1720.8 840.0,1720.5 842.3,1720.2 846.9,1719.6 851.6,1719.0 856.3,1718.5 860.9,1718.0 865.6,1717.5 870.2,1717.0 874.9,1716.5 879.5,1716.0 884.2,1715.5 888.9,1715.1 893.5,1714.6 898.2,1714.2 902.8,1713.8 907.5,1713.4 909.5,1713.2 912.1,1713.0 916.8,1712.6 921.5,1712.2 926.1,1711.9 930.8,1711.5 935.4,1711.2 940.1,1710.9 944.7,1710.6 949.4,1710.2 954.1,1709.9 958.7,1709.7 963.4,1709.4 968.0,1709.1 972.7,1708.9 977.4,1708.6 979.0,1708.5 982.0,1708.4 986.7,1708.1 991.3,1707.9 996.0,1707.7 1000.6,1707.5 1005.3,1707.3 1010.0,1707.1 1014.6,1706.9 1019.3,1706.8 1023.9,1706.6 1028.6,1706.5 1033.2,1706.3 1037.9,1706.2 1042.6,1706.1 1047.2,1706.0 1048.5,1706.0 1051.9,1705.9 1056.5,1705.8 1061.2,1705.7 1065.9,1705.7 1070.5,1705.6 1075.2,1705.6 1079.8,1705.5 1084.5,1705.5 1089.1,1705.5 1093.8,1705.5 1098.5,1705.5 1103.1,1705.5 1107.8,1705.6 1112.4,1705.6 1117.1,1705.7 1118.0,1705.7 1121.7,1705.7 1126.4,1705.8 1131.1,1705.9 1135.7,1706.0 1140.4,1706.1 1145.0,1706.2 1149.7,1706.3 1154.3,1706.5 1159.0,1706.6 1163.7,1706.8 1168.3,1707.0 1173.0,1707.2 1177.6,1707.4 1182.3,1707.6 1187.0,1707.8 1187.5,1707.8 1191.6,1708.0 1196.3,1708.3 1200.0,1708.5 1200.9,1708.6 1205.6,1708.8 1210.2,1709.1 1214.9,1709.4 1219.6,1709.7 1224.2,1710.1 1228.9,1710.4 1233.5,1710.7 1238.2,1711.1 1242.8,1711.5 1247.5,1711.9 1252.2,1712.3 1255.6,1712.6 1256.8,1712.7 1261.5,1713.1 1266.1,1713.6 1270.8,1714.0 1275.4,1714.5 1280.1,1715.0 1284.8,1715.5 1289.4,1716.0 1294.1,1716.5 1298.7,1717.0 1303.4,1717.6 1308.1,1718.1 1311.2,1718.5 1312.7,1718.7 1317.4,1719.3 1322.0,1719.9 1326.7,1720.5 1331.3,1721.2 1336.0,1721.8 1340.7,1722.5 1345.3,1723.2 1350.0,1723.9 1354.6,1724.6 1359.3,1725.3 1363.9,1726.0 1366.8,1726.5 1368.6,1726.8 1373.3,1727.5 1377.9,1728.3 1382.6,1729.1 1387.2,1729.9 1391.9,1730.8 1396.5,1731.6 1401.2,1732.5 1405.9,1733.3 1410.5,1734.2 1415.2,1735.1 1419.8,1736.0 1422.4,1736.5 1424.5,1737.0 1429.2,1737.9 1433.8,1738.9 1438.5,1739.9 1443.1,1740.9 1447.8,1741.9 1452.4,1742.9 1457.1,1743.9 1461.8,1745.0 1466.4,1746.1 1471.1,1747.2 1475.7,1748.3 1478.0,1748.8 1480.4,1749.4 1485.0,1750.6 1489.7,1751.7 1494.4,1752.9 1499.0,1754.1 1503.7,1755.3 1508.3,1756.5 1513.0,1757.8 1517.6,1759.0 1522.3,1760.3 1527.0,1761.6 1531.6,1762.9 1533.6,1763.5 1536.3,1764.2 1540.9,1765.6 1545.6,1766.9 1550.3,1768.3 1554.9,1769.7 1559.6,1771.1 1564.2,1772.6 1568.9,1774.0 1573.5,1775.5 1578.2,1777.0" fill="none" stroke="#8080FF" stroke-width="5" stroke-linejoin="round"/>
<path d="M371.8,1839.1 376.5,1841.0 381.2,1842.8 385.8,1844.3 390.5,1845.6 395.1,1846.7 399.8,1847.6 404.5,1848.2 409.1,1848.7 412.1,1848.9 413.8,1849.0 418.4,1849.2 423.1,1849.1 427.7,1848.9 432.4,1848.6 437.1,1848.1 441.7,1847.5 446.4,1846.7 451.0,1845.9 455.7,1844.9 460.3,1843.8 464.2,1842.8 465.0,1842.6 469.7,1841.3 474.3,1840.0 479.0,1838.5 483.6,1837.0 488.3,1835.5 493.0,1833.9 497.6,1832.2 502.3,1830.5 506.9,1828.8 511.6,1827.1 516.2,1825.4 516.4,1825.3 520.9,1823.6 525.6,1821.8 530.2,1820.1 534.9,1818.3 539.5,1816.6 544.2,1814.8 548.8,1813.0 553.5,1811.3 558.2,1809.5 562.8,1807.8 567.5,1806.0 568.5,1805.6 572.1,1804.3 576.8,1802.5 581.4,1800.8 586.1,1799.1 590.8,1797.4 595.4,1795.6 600.1,1793.9 604.7,1792.3 609.4,1790.6 614.1,1788.9 618.7,1787.3 620.6,1786.6 623.4,1785.6 628.0,1784.0 632.7,1782.4 637.3,1780.8 642.0,1779.3 646.7,1777.7 651.3,1776.2 656.0,1774.7 660.6,1773.2 665.3,1771.7 669.9,1770.3 672.7,1769.4 674.6,1768.8 679.3,1767.4 683.9,1766.1 688.6,1764.7 693.2,1763.4 697.9,1762.1 702.5,1760.8 707.2,1759.5 711.9,1758.3 716.5,1757.1 721.2,1755.9 724.8,1755.0 725.8,1754.7 730.5,1753.6 735.2,1752.4 739.8,1751.3 744.5,1750.2 749.1,1749.1 753.8,1748.0 758.4,1747.0 763.1,1746.0 767.8,1745.0 772.4,1744.0 777.0,1743.0 777.1,1743.0 781.7,1742.0 786.4,1741.1 791.0,1740.1 795.7,1739.2 800.4,1738.3 805.0,1737.4 809.7,1736.5 814.3,1735.6 819.0,1734.8 823.6,1733.9 828.3,1733.1 829.1,1733.0 833.0,1732.3 837.6,1731.5 840.0,1731.0 842.3,1730.7 846.9,1729.9 851.6,1729.1 856.3,1728.3 860.9,1727.5 865.6,1726.8 870.2,1726.0 874.9,1725.3 879.5,1724.5 884.2,1723.8 888.9,1723.1 893.5,1722.4 898.2,1721.7 902.8,1720.9 907.5,1720.2 909.5,1719.9 912.1,1719.5 916.8,1718.8 921.5,1718.2 926.1,1717.5 930.8,1716.8 935.4,1716.1 940.1,1715.4 944.7,1714.7 949.4,1714.1 954.1,1713.4 958.7,1712.7 963.4,1712.0 968.0,1711.3 972.7,1710.7 977.4,1710.0 979.0,1709.7 982.0,1709.3 986.7,1708.6 991.3,1707.9 996.0,1707.2 1000.6,1706.5 1005.3,1705.9 1010.0,1705.2 1014.6,1704.5 1019.3,1703.8 1023.9,1703.1 1028.6,1702.5 1033.2,1701.8 1037.9,1701.2 1042.6,1700.5 1047.2,1699.9 1048.5,1699.7 1051.9,1699.2 1056.5,1698.6 1061.2,1698.0 1065.9,1697.4 1070.5,1696.8 1075.2,1696.2 1079.8,1695.6 1084.5,1695.0 1089.1,1694.5 1093.8,1694.0 1098.5,1693.4 1103.1,1692.9 1107.8,1692.4 1112.4,1692.0 1117.1,1691.5 1118.0,1691.4 1121.7,1691.1 1126.4,1690.6 1131.1,1690.2 1135.7,1689.9 1140.4,1689.5 1145.0,1689.2 1149.7,1688.8 1154.3,1688.5 1159.0,1688.3 1163.7,1688.0 1168.3,1687.8 1173.0,1687.6 1177.6,1687.4 1182.3,1687.3 1187.0,1687.1 1187.5,1687.1 1191.6,1687.0 1196.3,1687.0 1200.0,1686.9 1200.9,1686.9 1205.6,1686.9 1210.2,1686.9 1214.9,1686.9 1219.6,1686.8 1224.2,1686.8 1228.9,1686.8 1233.5,1686.7 1238.2,1686.7 1242.8,1686.6 1247.5,1686.5 1252.2,1686.4 1255.6,1686.3 1256.8,1686.2 1261.5,1686.0 1266.1,1685.8 1270.8,1685.5 1275.4,1685.3 1280.1,1684.9 1284.8,1684.6 1289.4,1684.3 1294.1,1683.9 1298.7,1683.6 1303.4,1683.2 1308.1,1682.9 1311.2,1682.6 1312.7,1682.5 1317.4,1682.2 1322.0,1681.8 1326.7,1681.5 1331.3,1681.2 1336.0,1680.9 1340.7,1680.6 1345.3,1680.3 1350.0,1680.0 1354.6,1679.7 1359.3,1679.4 1363.9,1679.1 1366.8,1678.9 1368.6,1678.8 1373.3,1678.5 1377.9,1678.3 1382.6,1678.0 1387.2,1677.8 1391.9,1677.5 1396.5,1677.3 1401.2,1677.0 1405.9,1676.8 1410.5,1676.6 1415.2,1676.3 1419.8,1676.1 1422.4,1676.0 1424.5,1675.9 1429.2,1675.6 1433.8,1675.4 1438.5,1675.2 1443.1,1675.0 1447.8,1674.8 1452.4,1674.6 1457.1,1674.4 1461.8,1674.2 1466.4,1674.0 1471.1,1673.8 1475.7,1673.6 1478.0,1673.5 1480.4,1673.4 1485.0,1673.2 1489.7,1673.0 1494.4,1672.8 1499.0,1672.6 1503.7,1672.4 1508.3,1672.2 1513.0,1672.0 1517.6,1671.8 1522.3,1671.6 1527.0,1671.5 1531.6,1671.3 1533.6,1671.2 1536.3,1671.1 1540.9,1670.9 1545.6,1670.7 1550.3,1670.5 1554.9,1670.3 1559.6,1670.1 1564.2,1669.9 1568.9,1669.7 1573.5,1669.5 1578.2,1669.3" fill="none" stroke="#0080FF" stroke-width="5" stroke-linejoin="round"/>
<path d="M371.8,1739.7 376.5,1740.0 381.2,1740.7 385.8,1741.7 387.8,1742.2 390.5,1743.0 395.1,1744.5 399.8,1746.1 404.5,1747.7 409.1,1749.4 412.1,1750.5 413.8,1751.0 418.4,1752.6 423.1,1754.0 427.7,1755.4 432.4,1756.8 437.1,1758.0 441.7,1759.3 446.4,1760.5 451.0,1761.7 455.7,1762.8 460.3,1764.0 464.2,1764.9 465.0,1765.1 469.7,1766.3 474.3,1767.5 479.0,1768.7 483.6,1769.9 488.3,1771.2 493.0,1772.6 497.6,1774.0 502.3,1775.5 506.9,1777.0 511.6,1778.7 516.2,1780.4 516.4,1780.5 520.9,1782.3 525.6,1784.3 530.2,1786.3 534.9,1788.5 539.5,1790.8 544.2,1793.2 548.8,1795.7 553.5,1798.3 558.2,1801.0 562.8,1803.9 567.5,1806.8 568.5,1807.4 572.1,1809.8 576.8,1813.0 581.4,1816.2 586.1,1819.5 590.8,1823.0 595.4,1826.6 600.1,1830.2 604.7,1834.0 609.4,1837.9 614.1,1841.8 618.7,1845.9 620.6,1847.6 623.4,1850.1 628.0,1854.4 632.7,1858.8 637.3,1863.2 640.0,1865.9 642.0,1867.8 646.7,1872.5 651.3,1877.3 656.0,1882.2 660.6,1887.1 665.3,1892.2 667.8,1894.9 669.9,1897.2 674.6,1902.4 679.3,1907.6 683.9,1912.8 688.6,1918.1 693.2,1923.4 695.6,1926.1 697.9,1928.7 702.5,1933.9 707.2,1938.8 711.9,1943.0 712.3,1943.3 716.5,1946.4 721.2,1948.9 725.8,1950.5 729.0,1951.0 730.5,1951.1 735.2,1950.7 739.8,1949.3 744.5,1946.7 745.6,1945.9 749.1,1943.2 753.8,1938.7 758.4,1933.5 762.3,1929.0 763.1,1928.1 767.8,1922.4 772.4,1916.7 777.1,1910.9 781.7,1905.1 786.4,1899.2 790.1,1894.6 791.0,1893.4 795.7,1887.6 800.4,1881.9 805.0,1876.2 809.7,1870.7 811.7,1868.4 814.3,1865.4 817.9,1861.4 819.0,1860.2 823.6,1855.1 828.3,1850.3 833.0,1845.5 837.6,1840.9 842.3,1836.5 846.9,1832.2 851.6,1828.0 856.3,1824.0 860.0,1820.8 860.9,1820.0 865.6,1816.2 870.2,1812.5 874.7,1809.1 874.9,1809.0 879.5,1805.5 884.2,1802.2 888.9,1798.9 893.5,1795.8 898.2,1792.8 902.8,1789.8 907.5,1787.0 909.5,1785.8 912.1,1784.3 916.8,1781.6 921.5,1779.1 926.1,1776.6 930.8,1774.2 935.4,1771.9 940.1,1769.7 944.2,1767.8 944.7,1767.6 949.4,1765.5 954.1,1763.6 958.7,1761.7 963.4,1759.9 968.0,1758.1 972.7,1756.5 977.4,1754.9 979.0,1754.4 982.0,1753.4 986.7,1752.0 991.3,1750.7 996.0,1749.5 1000.6,1748.3 1005.3,1747.3 1010.0,1746.3 1013.7,1745.6 1014.6,1745.4 1019.3,1744.6 1023.9,1743.9 1028.6,1743.3 1033.2,1742.8 1037.9,1742.4 1042.6,1742.0 1047.2,1741.8 1048.5,1741.8 1051.9,1741.7 1056.5,1741.6 1061.2,1741.7 1065.9,1741.8 1070.5,1742.1 1075.2,1742.4 1079.8,1742.9 1083.2,1743.3 1084.5,1743.4 1089.1,1744.1 1093.8,1744.9 1098.5,1745.7 1103.1,1746.7 1107.8,1747.8 1112.4,1748.9 1117.1,1750.2 1118.0,1750.5 1121.7,1751.6 1126.4,1753.1 1131.1,1754.7 1135.7,1756.5 1140.4,1758.3 1145.0,1760.2 1149.7,1762.3 1152.7,1763.7 1154.3,1764.5 1159.0,1766.8 1163.7,1769.2 1168.3,1771.8 1173.0,1774.5 1177.6,1777.4 1182.3,1780.5 1187.0,1783.8 1187.5,1784.2 1191.6,1787.3 1196.3,1791.0 1200.9,1795.0 1205.6,1799.2 1210.2,1803.7 1214.9,1808.5 1219.6,1813.6 1222.2,1816.6 1224.2,1818.9 1228.9,1824.7 1233.5,1830.8 1238.2,1837.3 1242.8,1844.4 1247.5,1852.0 1251.5,1859.1 1252.2,1860.3 1256.8,1869.2 1261.5,1878.8 1266.1,1889.2 1268.2,1894.1 1270.8,1900.4 1275.4,1912.1 1280.1,1923.4 1284.8,1933.7 1284.9,1934.0 1289.4,1942.2 1293.2,1947.2 1294.1,1948.1 1298.7,1950.7 1300.5,1950.7 1303.4,1949.3 1307.1,1945.4 1308.1,1944.1 1312.7,1935.9 1315.5,1929.8 1317.4,1925.3 1322.0,1913.2 1326.7,1900.3 1329.4,1892.8 1331.3,1887.4 1336.0,1874.9 1339.0,1867.1 1340.7,1862.8 1345.3,1851.2 1350.0,1839.9 1352.9,1833.1 1354.6,1829.0 1359.3,1818.5 1363.9,1808.3 1366.8,1802.3 1368.6,1798.5 1373.3,1789.0 1377.9,1779.8 1380.7,1774.5 1382.6,1770.9 1387.2,1762.3 1391.9,1754.0 1394.6,1749.3 1396.5,1745.9 1401.2,1738.1 1405.9,1730.6 1408.5,1726.5 1410.5,1723.4 1415.2,1716.3 1419.8,1709.5 1422.4,1705.9 1424.5,1702.9 1429.2,1696.6 1433.8,1690.4 1436.3,1687.2 1438.5,1684.4 1443.1,1678.6 1447.8,1673.0 1450.2,1670.2 1452.4,1667.6 1457.1,1662.3 1461.8,1657.1 1464.1,1654.6 1466.4,1652.2 1471.1,1647.3 1475.7,1642.7 1478.0,1640.5 1480.4,1638.1 1485.0,1633.8 1489.7,1629.5 1494.4,1625.5 1499.0,1621.5 1503.7,1617.7 1505.8,1616.1 1508.3,1614.1 1513.0,1610.5 1517.6,1607.2 1522.3,1603.9 1527.0,1600.8 1531.6,1597.8 1533.6,1596.6 1536.3,1595.0 1540.9,1592.2 1545.6,1589.6 1550.3,1587.2 1554.9,1584.8 1559.6,1582.6 1561.4,1581.8 1564.2,1580.5 1568.9,1578.5 1573.5,1576.6 1578.2,1574.8" fill="none" stroke="#80FF80" stroke-width="5" stroke-linejoin="round"/>
<path d="M371.8,1693.6 376.5,1695.4 381.2,1696.9 385.8,1698.2 390.5,1699.3 394.7,1700.1 395.1,1700.2 399.8,1700.8 404.5,1701.3 409.1,1701.7 412.1,1701.8 413.8,1701.8 418.4,1701.9 423.1,1701.8 427.7,1701.6 432.4,1701.3 437.1,1700.9 441.7,1700.5 446.4,1700.0 451.0,1699.4 455.7,1698.8 460.3,1698.3 464.2,1697.8 465.0,1697.7 469.7,1697.1 474.3,1696.5 479.0,1696.0 483.6,1695.4 488.3,1694.9 493.0,1694.4 497.6,1693.9 502.3,1693.4 506.9,1693.0 511.6,1692.5 516.2,1692.1 516.4,1692.1 520.9,1691.6 525.6,1691.2 530.2,1690.9 534.9,1690.5 539.5,1690.1 544.2,1689.8 548.8,1689.5 553.5,1689.2 558.2,1688.9 562.8,1688.6 567.5,1688.4 568.5,1688.3 572.1,1688.1 576.8,1687.9 581.4,1687.8 586.1,1687.6 590.8,1687.4 595.4,1687.3 600.1,1687.2 604.7,1687.1 609.4,1687.1 614.1,1687.0 618.7,1687.0 620.6,1687.0 623.4,1687.0 628.0,1687.1 632.7,1687.1 637.3,1687.2 642.0,1687.3 646.7,1687.4 651.3,1687.6 656.0,1687.8 660.6,1688.0 665.3,1688.3 669.9,1688.6 672.7,1688.8 674.6,1688.9 679.3,1689.3 683.9,1689.7 688.6,1690.1 693.2,1690.6 697.9,1691.1 702.5,1691.7 707.2,1692.3 711.9,1693.0 716.5,1693.7 721.2,1694.4 724.8,1695.0 725.8,1695.2 730.5,1696.0 735.2,1696.9 739.8,1697.9 744.5,1698.9 749.1,1699.9 753.8,1701.0 758.4,1702.2 763.1,1703.4 767.8,1704.7 772.4,1706.0 777.0,1707.4 777.1,1707.4 781.7,1708.9 786.4,1710.4 791.0,1712.0 795.7,1713.6 800.4,1715.3 805.0,1717.1 809.7,1718.9 814.3,1720.9 819.0,1722.9 823.6,1724.9 828.3,1727.1 829.1,1727.4 833.0,1729.3 837.6,1731.5 840.0,1732.7 842.3,1733.9 846.9,1736.3 851.6,1738.9 856.3,1741.5 860.9,1744.1 865.6,1746.9 870.2,1749.7 874.7,1752.6 874.9,1752.7 879.5,1755.7 884.2,1758.7 888.9,1761.7 893.5,1764.7 898.2,1767.5 900.0,1768.5 902.8,1770.1 907.5,1772.6 912.1,1775.1 916.8,1777.6 921.5,1780.3 926.1,1783.3 930.8,1786.6 934.7,1789.7 935.4,1790.3 940.1,1794.6 944.7,1799.4 949.4,1804.5 954.1,1810.1 958.7,1815.9 963.4,1822.1 968.0,1828.4 969.5,1830.4 972.7,1834.9 977.4,1841.6 982.0,1848.4 986.7,1855.6 991.3,1863.0 996.0,1870.8 1000.6,1878.9 1004.2,1885.5 1005.3,1887.5 1010.0,1896.5 1014.6,1906.1 1019.3,1916.2 1021.6,1921.5 1023.9,1926.9 1028.6,1938.2 1033.2,1950.3 1037.9,1963.0 1039.0,1966.1 1042.6,1976.5 1047.2,1990.3 1051.9,2004.0 1052.9,2006.9 1056.5,2017.1 1061.2,2029.0 1063.3,2033.8 1065.9,2039.2 1070.3,2046.8 1070.5,2047.2 1075.2,2052.1 1079.8,2052.3 1082.4,2049.5 1084.5,2045.7 1089.1,2033.6 1089.4,2033.0 1093.8,2020.2 1098.1,2007.8 1098.5,2006.6 1103.1,1992.9 1107.8,1979.3 1108.5,1977.2 1112.4,1965.9 1117.1,1953.0 1121.7,1940.7 1125.9,1930.6 1126.4,1929.3 1131.1,1918.8 1135.7,1909.2 1140.4,1900.5 1143.2,1895.5 1145.0,1892.5 1149.7,1885.2 1154.3,1878.6 1159.0,1872.4 1160.6,1870.5 1163.7,1866.8 1168.3,1861.5 1173.0,1856.5 1177.6,1851.8 1178.0,1851.5 1182.3,1847.2 1187.0,1842.8 1191.6,1838.6 1195.3,1835.2 1196.3,1834.4 1200.9,1830.5 1205.6,1826.6 1210.2,1822.9 1212.7,1821.0 1214.9,1819.3 1219.6,1815.9 1224.2,1812.5 1227.8,1810.1 1228.9,1809.3 1233.5,1806.2 1238.2,1803.2 1242.8,1800.4 1247.5,1797.6 1252.2,1794.9 1255.6,1793.0 1256.8,1792.4 1261.5,1789.9 1266.1,1787.5 1270.8,1785.2 1275.4,1783.0 1280.1,1780.9 1283.4,1779.4 1284.8,1778.8 1289.4,1776.8 1294.1,1774.9 1298.7,1773.1 1303.4,1771.3 1308.1,1769.6 1311.2,1768.5 1312.7,1768.0 1317.4,1766.4 1322.0,1764.9 1326.7,1763.5 1331.3,1762.1 1336.0,1760.8 1339.0,1760.0 1340.7,1759.6 1345.3,1758.4 1350.0,1757.3 1354.6,1756.3 1359.3,1755.3 1363.9,1754.4 1366.8,1753.9 1368.6,1753.5 1373.3,1752.7 1377.9,1752.0 1382.6,1751.3 1387.2,1750.7 1391.9,1750.1 1394.6,1749.8 1396.5,1749.6 1401.2,1749.1 1405.9,1748.7 1410.5,1748.3 1415.2,1748.0 1419.8,1747.8 1422.4,1747.7 1424.5,1747.6 1429.2,1747.4 1433.8,1747.3 1438.5,1747.2 1443.1,1747.2 1447.8,1747.3 1450.2,1747.3 1452.4,1747.3 1457.1,1747.5 1461.8,1747.6 1466.4,1747.8 1471.1,1748.1 1475.7,1748.4 1478.0,1748.5 1480.4,1748.7 1485.0,1749.1 1489.7,1749.5 1494.4,1749.9 1499.0,1750.4 1503.7,1750.9 1505.8,1751.1 1508.3,1751.5 1513.0,1752.0 1517.6,1752.7 1522.3,1753.3 1527.0,1754.0 1531.6,1754.7 1533.6,1755.0 1536.3,1755.5 1540.9,1756.2 1545.6,1757.0 1550.3,1757.9 1554.9,1758.7 1559.6,1759.6 1561.4,1759.9 1564.2,1760.5 1568.9,1761.4 1573.5,1762.4 1578.2,1763.4" fill="none" stroke="#FFA0A0" stroke-width="5" stroke-linejoin="round"/>
<path d="M371.8,1793.6 376.5,1793.8 381.2,1794.1 385.8,1794.4 390.5,1794.6 395.1,1794.9 399.8,1795.1 404.5,1795.3 409.1,1795.5 412.1,1795.7 413.8,1795.7 418.4,1795.9 423.1,1796.1 427.7,1796.3 432.4,1796.4 437.1,1796.6 441.7,1796.7 446.4,1796.9 451.0,1797.0 455.7,1797.1 460.3,1797.2 464.2,1797.3 465.0,1797.3 469.7,1797.4 474.3,1797.4 479.0,1797.5 483.6,1797.6 488.3,1797.6 493.0,1797.7 497.6,1797.7 502.3,1797.7 506.9,1797.7 511.6,1797.7 516.2,1797.7 516.4,1797.7 520.9,1797.7 525.6,1797.7 530.2,1797.6 534.9,1797.6 539.5,1797.6 544.2,1797.5 548.8,1797.4 553.5,1797.4 558.2,1797.3 562.8,1797.2 567.5,1797.1 568.5,1797.1 572.1,1797.0 576.8,1796.9 581.4,1796.8 586.1,1796.6 590.8,1796.5 595.4,1796.4 600.1,1796.2 604.7,1796.0 609.4,1795.9 614.1,1795.7 618.7,1795.5 620.6,1795.5 623.4,1795.3 628.0,1795.2 632.7,1795.0 637.3,1794.7 642.0,1794.5 646.7,1794.3 651.3,1794.1 656.0,1793.9 660.6,1793.6 665.3,1793.4 669.9,1793.1 672.7,1793.0 674.6,1792.9 679.3,1792.6 683.9,1792.3 688.6,1792.1 693.2,1791.8 697.9,1791.5 702.5,1791.2 707.2,1790.9 711.9,1790.6 716.5,1790.3 721.2,1790.0 724.8,1789.7 725.8,1789.6 730.5,1789.3 735.2,1789.0 739.8,1788.7 744.5,1788.3 749.1,1788.0 753.8,1787.6 758.4,1787.3 763.1,1786.9 767.8,1786.5 772.4,1786.2 777.0,1785.8 777.1,1785.8 781.7,1785.4 786.4,1785.0 791.0,1784.6 795.7,1784.2 800.4,1783.8 805.0,1783.4 809.7,1783.0 814.3,1782.6 819.0,1782.2 823.6,1781.8 828.3,1781.4 829.1,1781.3 833.0,1781.0 837.6,1780.5 840.0,1780.3 842.3,1780.1 846.9,1779.7 851.6,1779.2 856.3,1778.8 860.9,1778.3 865.6,1777.9 870.2,1777.5 874.9,1777.0 879.5,1776.5 884.2,1776.1 888.9,1775.6 893.5,1775.2 898.2,1774.7 902.8,1774.2 907.5,1773.8 909.5,1773.5 912.1,1773.3 916.8,1772.8 921.5,1772.3 926.1,1771.8 930.8,1771.4 935.4,1770.9 940.1,1770.4 944.7,1769.9 949.4,1769.4 954.1,1768.9 958.7,1768.4 963.4,1767.9 968.0,1767.4 972.7,1766.9 977.4,1766.4 979.0,1766.3 982.0,1765.9 986.7,1765.4 991.3,1764.9 996.0,1764.4 1000.6,1763.9 1005.3,1763.4 1010.0,1762.9 1014.6,1762.4 1019.3,1761.9 1023.9,1761.4 1028.6,1760.9 1033.2,1760.4 1037.9,1759.9 1042.6,1759.4 1047.2,1758.9 1048.5,1758.8 1051.9,1758.4 1056.5,1757.9 1061.2,1757.4 1065.9,1756.9 1070.5,1756.4 1075.2,1755.9 1079.8,1755.4 1084.5,1754.9 1089.1,1754.4 1093.8,1754.0 1098.5,1753.5 1103.1,1753.0 1107.8,1752.5 1112.4,1752.0 1117.1,1751.6 1118.0,1751.5 1121.7,1751.1 1126.4,1750.6 1131.1,1750.2 1135.7,1749.7 1140.4,1749.3 1145.0,1748.8 1149.7,1748.4 1154.3,1747.9 1159.0,1747.5 1163.7,1747.1 1168.3,1746.6 1173.0,1746.2 1177.6,1745.8 1182.3,1745.4 1187.0,1745.0 1187.5,1744.9 1191.6,1744.6 1196.3,1744.2 1200.0,1743.9 1200.9,1743.8 1205.6,1743.4 1210.2,1743.0 1214.9,1742.7 1219.6,1742.3 1224.2,1741.9 1228.9,1741.5 1233.5,1741.2 1238.2,1740.8 1242.8,1740.4 1247.5,1740.1 1252.2,1739.7 1255.6,1739.4 1256.8,1739.4 1261.5,1739.0 1266.1,1738.6 1270.8,1738.3 1275.4,1737.9 1280.1,1737.5 1284.8,1737.2 1289.4,1736.8 1294.1,1736.4 1298.7,1736.0 1303.4,1735.7 1308.1,1735.3 1311.2,1735.0 1312.7,1734.9 1317.4,1734.5 1322.0,1734.1 1326.7,1733.7 1331.3,1733.3 1336.0,1732.9 1340.7,1732.5 1345.3,1732.1 1350.0,1731.6 1354.6,1731.2 1359.3,1730.8 1363.9,1730.4 1366.8,1730.1 1368.6,1730.0 1373.3,1729.5 1377.9,1729.1 1382.6,1728.7 1387.2,1728.2 1391.9,1727.8 1396.5,1727.4 1401.2,1726.9 1405.9,1726.5 1410.5,1726.1 1415.2,1725.7 1419.8,1725.2 1422.4,1725.0 1424.5,1724.8 1429.2,1724.4 1433.8,1723.9 1438.5,1723.5 1443.1,1723.1 1447.8,1722.7 1452.4,1722.3 1457.1,1721.8 1461.8,1721.4 1466.4,1721.0 1471.1,1720.6 1475.7,1720.2 1478.0,1720.0 1480.4,1719.8 1485.0,1719.4 1489.7,1719.1 1494.4,1718.7 1499.0,1718.3 1503.7,1717.9 1508.3,1717.6 1513.0,1717.2 1517.6,1716.8 1522.3,1716.5 1527.0,1716.1 1531.6,1715.8 1533.6,1715.7 1536.3,1715.5 1540.9,1715.2 1545.6,1714.8 1550.3,1714.5 1554.9,1714.2 1559.6,1713.9 1564.2,1713.7 1568.9,1713.4 1573.5,1713.1 1578.2,1712.9" fill="none" stroke="#8080FF" stroke-width="5" stroke-linejoin="round"/>
<path d="M371.8,1794.2 376.5,1794.1 381.2,1793.9 385.8,1793.7 390.5,1793.4 394.7,1793.1 395.1,1793.1 399.8,1792.7 404.5,1792.3 409.1,1791.8 413.8,1791.3 418.4,1790.7 423.1,1790.1 427.7,1789.5 429.5,1789.2 432.4,1788.8 437.1,1788.1 441.7,1787.3 446.4,1786.5 451.0,1785.7 455.7,1784.8 460.3,1783.9 464.2,1783.2 465.0,1783.0 469.7,1782.0 474.3,1781.1 479.0,1780.1 483.6,1779.0 488.3,1778.0 493.0,1776.9 497.6,1775.8 502.3,1774.7 506.9,1773.5 511.6,1772.4 516.2,1771.2 516.4,1771.2 520.9,1770.0 525.6,1768.8 530.2,1767.6 534.9,1766.4 539.5,1765.2 544.2,1764.0 548.8,1762.7 553.5,1761.5 558.2,1760.2 562.8,1758.9 567.5,1757.7 568.5,1757.4 572.1,1756.4 576.8,1755.1 581.4,1753.9 586.1,1752.6 590.8,1751.3 595.4,1750.0 600.1,1748.7 604.7,1747.5 609.4,1746.2 614.1,1744.9 618.7,1743.7 620.6,1743.1 623.4,1742.4 628.0,1741.1 632.7,1739.9 637.3,1738.7 642.0,1737.4 646.7,1736.2 651.3,1735.0 656.0,1733.8 660.6,1732.6 665.3,1731.4 669.9,1730.2 672.7,1729.6 674.6,1729.1 679.3,1728.0 683.9,1726.8 688.6,1725.7 693.2,1724.6 697.9,1723.6 702.5,1722.5 707.2,1721.4 711.9,1720.4 716.5,1719.4 721.2,1718.4 724.8,1717.6 725.8,1717.4 730.5,1716.4 735.2,1715.4 739.8,1714.5 744.5,1713.5 749.1,1712.6 753.8,1711.7 758.4,1710.8 763.1,1709.9 767.8,1709.1 772.4,1708.2 777.0,1707.4 777.1,1707.3 781.7,1706.5 786.4,1705.7 791.0,1704.9 795.7,1704.1 800.4,1703.3 805.0,1702.6 809.7,1701.8 814.3,1701.1 819.0,1700.3 823.6,1699.6 828.3,1698.9 829.1,1698.8 833.0,1698.2 837.6,1697.5 840.0,1697.2 842.3,1696.9 846.9,1696.2 851.6,1695.6 856.3,1695.0 860.9,1694.3 865.6,1693.7 870.2,1693.1 874.9,1692.6 879.5,1692.0 884.2,1691.4 888.9,1690.9 893.5,1690.4 898.2,1689.8 902.8,1689.3 907.5,1688.8 909.5,1688.6 912.1,1688.3 916.8,1687.9 921.5,1687.4 926.1,1686.9 930.8,1686.5 935.4,1686.1 940.1,1685.6 944.7,1685.2 949.4,1684.8 954.1,1684.4 958.7,1684.1 963.4,1683.7 968.0,1683.3 972.7,1683.0 977.4,1682.7 979.0,1682.5 982.0,1682.3 986.7,1682.0 991.3,1681.7 996.0,1681.4 1000.6,1681.1 1005.3,1680.9 1010.0,1680.6 1014.6,1680.4 1019.3,1680.1 1023.9,1679.9 1028.6,1679.7 1033.2,1679.4 1037.9,1679.2 1042.6,1679.0 1047.2,1678.9 1048.5,1678.8 1051.9,1678.7 1056.5,1678.5 1061.2,1678.4 1065.9,1678.2 1070.5,1678.1 1075.2,1678.0 1079.8,1677.8 1084.5,1677.7 1089.1,1677.6 1093.8,1677.6 1098.5,1677.5 1103.1,1677.4 1107.8,1677.3 1112.4,1677.3 1117.1,1677.3 1118.0,1677.2 1121.7,1677.2 1126.4,1677.2 1131.1,1677.2 1135.7,1677.2 1140.4,1677.2 1145.0,1677.2 1149.7,1677.2 1154.3,1677.2 1159.0,1677.3 1163.7,1677.3 1168.3,1677.4 1173.0,1677.4 1177.6,1677.5 1182.3,1677.6 1187.0,1677.7 1187.5,1677.7 1191.6,1677.8 1196.3,1677.9 1200.0,1678.0 1200.9,1678.0 1205.6,1678.1 1210.2,1678.2 1214.9,1678.4 1219.6,1678.5 1222.2,1678.6 1224.2,1678.7 1228.9,1678.8 1233.5,1679.0 1238.2,1679.2 1242.8,1679.4 1247.5,1679.5 1252.2,1679.7 1255.6,1679.9 1256.8,1680.0 1261.5,1680.2 1266.1,1680.4 1270.8,1680.6 1275.4,1680.9 1280.1,1681.1 1284.8,1681.4 1289.4,1681.6 1294.1,1681.9 1298.7,1682.2 1303.4,1682.4 1308.1,1682.7 1311.2,1682.9 1312.7,1683.0 1317.4,1683.3 1322.0,1683.6 1326.7,1683.9 1331.3,1684.3 1336.0,1684.6 1340.7,1684.9 1345.3,1685.3 1350.0,1685.6 1354.6,1686.0 1359.3,1686.3 1363.9,1686.7 1366.8,1686.9 1368.6,1687.1 1373.3,1687.5 1377.9,1687.8 1382.6,1688.2 1387.2,1688.6 1391.9,1689.0 1396.5,1689.5 1401.2,1689.9 1405.9,1690.3 1410.5,1690.7 1415.2,1691.2 1419.8,1691.6 1422.4,1691.9 1424.5,1692.1 1429.2,1692.5 1433.8,1693.0 1438.5,1693.4 1443.1,1693.9 1447.8,1694.4 1452.4,1694.9 1457.1,1695.4 1461.8,1695.9 1466.4,1696.4 1471.1,1696.9 1475.7,1697.4 1478.0,1697.6 1480.4,1697.9 1485.0,1698.4 1489.7,1698.9 1494.4,1699.5 1499.0,1700.0 1503.7,1700.5 1508.3,1701.1 1513.0,1701.6 1517.6,1702.2 1522.3,1702.8 1527.0,1703.3 1531.6,1703.9 1533.6,1704.1 1536.3,1704.5 1540.9,1705.1 1545.6,1705.6 1550.3,1706.2 1554.9,1706.8 1559.6,1707.4 1564.2,1708.0 1568.9,1708.6 1573.5,1709.2 1578.2,1709.9" fill="none" stroke="#0080FF" stroke-width="5" stroke-linejoin="round"/>
<path d="M371.8,1693.5 376.5,1694.2 381.2,1694.7 385.8,1695.1 390.5,1695.3 394.7,1695.4 395.1,1695.4 399.8,1695.4 404.5,1695.2 409.1,1694.9 412.1,1694.6 413.8,1694.5 418.4,1694.0 423.1,1693.4 427.7,1692.7 432.4,1692.0 437.1,1691.2 441.7,1690.3 446.4,1689.4 451.0,1688.5 455.7,1687.5 460.3,1686.5 464.2,1685.6 465.0,1685.4 469.7,1684.4 474.3,1683.4 479.0,1682.3 483.6,1681.3 488.3,1680.2 493.0,1679.2 497.6,1678.1 502.3,1677.1 506.9,1676.1 511.6,1675.0 516.2,1674.0 516.4,1674.0 520.9,1673.0 525.6,1672.0 530.2,1671.0 534.9,1670.1 539.5,1669.2 544.2,1668.2 548.8,1667.3 553.5,1666.5 558.2,1665.6 562.8,1664.8 567.5,1664.1 568.5,1663.9 572.1,1663.3 576.8,1662.6 581.4,1661.9 586.1,1661.3 590.8,1660.7 595.4,1660.1 600.1,1659.6 604.7,1659.1 609.4,1658.7 614.1,1658.4 618.7,1658.0 620.6,1657.9 623.4,1657.8 628.0,1657.6 632.7,1657.4 637.3,1657.3 642.0,1657.2 646.7,1657.2 651.3,1657.3 656.0,1657.4 660.6,1657.5 665.3,1657.7 669.9,1658.0 672.7,1658.1 674.6,1658.3 679.3,1658.6 683.9,1659.0 688.6,1659.4 693.2,1659.9 697.9,1660.5 702.5,1661.0 707.2,1661.7 711.9,1662.3 716.5,1663.1 721.2,1663.8 724.8,1664.5 725.8,1664.6 730.5,1665.5 735.2,1666.4 739.8,1667.3 744.5,1668.3 749.1,1669.3 753.8,1670.4 758.4,1671.5 763.1,1672.6 767.8,1673.8 772.4,1675.0 777.0,1676.3 777.1,1676.3 781.7,1677.6 786.4,1679.0 791.0,1680.4 795.7,1681.8 800.4,1683.4 805.0,1684.9 809.7,1686.6 814.3,1688.4 819.0,1690.2 823.6,1692.2 828.3,1694.2 829.1,1694.5 833.0,1696.4 837.6,1698.6 840.0,1699.8 842.3,1701.0 846.9,1703.5 851.6,1706.1 856.3,1708.9 860.9,1711.8 865.6,1714.8 870.2,1717.9 874.7,1721.0 874.9,1721.1 879.5,1724.5 884.2,1728.0 888.9,1731.6 893.5,1735.3 898.2,1739.2 902.8,1743.2 907.5,1747.3 909.5,1749.1 912.1,1751.5 916.8,1755.8 921.5,1760.3 926.1,1764.8 930.8,1769.5 935.4,1774.4 940.1,1779.3 944.2,1783.8 944.7,1784.3 949.4,1789.5 954.1,1794.8 958.7,1800.2 963.4,1805.8 968.0,1811.4 972.7,1817.2 977.4,1823.1 979.0,1825.1 982.0,1829.1 986.7,1835.2 991.3,1841.4 996.0,1847.8 1000.6,1854.2 1004.1,1859.2 1005.3,1860.8 1010.0,1867.5 1013.7,1872.8 1014.6,1874.1 1019.3,1880.4 1023.6,1886.0 1023.9,1886.4 1028.6,1891.9 1033.2,1896.6 1037.5,1900.2 1037.9,1900.5 1042.6,1903.3 1047.2,1905.0 1051.4,1905.5 1051.9,1905.5 1056.5,1905.0 1061.2,1903.3 1065.3,1900.9 1065.9,1900.5 1070.5,1896.5 1075.2,1891.6 1079.2,1886.8 1079.8,1886.0 1084.5,1879.7 1089.1,1873.1 1090.2,1871.6 1093.8,1866.2 1098.5,1859.3 1098.7,1859.0 1103.1,1852.5 1107.8,1845.9 1112.4,1839.4 1117.1,1833.1 1118.0,1831.9 1121.7,1827.0 1126.4,1821.0 1131.1,1815.2 1135.7,1809.6 1140.4,1804.2 1145.0,1798.9 1149.7,1793.9 1152.7,1790.7 1154.3,1789.0 1159.0,1784.4 1163.7,1779.9 1168.3,1775.7 1173.0,1771.6 1177.6,1767.8 1182.3,1764.2 1187.0,1760.9 1187.5,1760.5 1191.6,1757.7 1196.3,1754.6 1200.0,1752.2 1200.9,1751.5 1205.6,1748.3 1210.2,1745.0 1214.9,1741.8 1219.6,1738.7 1222.2,1737.1 1224.2,1735.9 1228.9,1733.2 1233.5,1730.9 1238.2,1728.7 1242.8,1726.7 1247.5,1724.7 1252.2,1722.9 1255.6,1721.6 1256.8,1721.2 1261.5,1719.4 1266.1,1717.7 1270.8,1716.0 1275.4,1714.4 1280.1,1712.8 1283.4,1711.7 1284.8,1711.2 1289.4,1709.7 1294.1,1708.2 1298.7,1706.8 1303.4,1705.5 1308.1,1704.2 1311.2,1703.3 1312.7,1703.0 1317.4,1701.8 1322.0,1700.7 1326.7,1699.7 1331.3,1698.7 1336.0,1697.8 1339.0,1697.2 1340.7,1696.9 1345.3,1696.2 1350.0,1695.4 1354.6,1694.8 1359.3,1694.1 1363.9,1693.6 1366.8,1693.3 1368.6,1693.1 1373.3,1692.6 1377.9,1692.2 1382.6,1691.8 1387.2,1691.5 1391.9,1691.2 1394.6,1691.1 1396.5,1691.0 1401.2,1690.8 1405.9,1690.7 1410.5,1690.6 1415.2,1690.6 1419.8,1690.5 1422.4,1690.5 1424.5,1690.6 1429.2,1690.6 1433.8,1690.7 1438.5,1690.8 1443.1,1691.0 1447.8,1691.2 1450.2,1691.3 1452.4,1691.4 1457.1,1691.6 1461.8,1691.9 1466.4,1692.2 1471.1,1692.5 1475.7,1692.9 1478.0,1693.1 1480.4,1693.3 1485.0,1693.6 1489.7,1694.1 1494.4,1694.5 1499.0,1694.9 1503.7,1695.4 1505.8,1695.6 1508.3,1695.9 1513.0,1696.4 1517.6,1696.9 1522.3,1697.4 1527.0,1697.9 1531.6,1698.4 1533.6,1698.6 1536.3,1698.9 1540.9,1699.5 1545.6,1700.0 1550.3,1700.6 1554.9,1701.1 1559.6,1701.7 1561.4,1701.9 1564.2,1702.2 1568.9,1702.8 1573.5,1703.3 1578.2,1703.9" fill="none" stroke="#80FF80" stroke-width="5" stroke-linejoin="round"/>
<path d="M371.8,1770.4 376.5,1770.5 381.2,1770.6 385.8,1770.7 390.5,1770.8 395.1,1770.9 399.8,1771.0 404.5,1771.1 409.1,1771.3 412.1,1771.4 413.8,1771.4 418.4,1771.6 423.1,1771.8 427.7,1771.9 432.4,1772.1 437.1,1772.3 441.7,1772.5 446.4,1772.8 451.0,1773.0 455.7,1773.3 460.3,1773.6 464.2,1773.8 465.0,1773.9 469.7,1774.2 474.3,1774.5 479.0,1774.9 483.6,1775.3 488.3,1775.7 493.0,1776.1 497.6,1776.5 502.3,1777.0 506.9,1777.5 511.6,1778.0 516.2,1778.5 516.4,1778.5 520.9,1779.1 525.6,1779.7 530.2,1780.3 534.9,1780.9 539.5,1781.6 544.2,1782.3 548.8,1783.0 553.5,1783.8 558.2,1784.6 562.8,1785.4 567.5,1786.3 568.5,1786.5 572.1,1787.2 576.8,1788.1 581.4,1789.1 586.1,1790.1 590.8,1791.1 595.4,1792.2 600.1,1793.3 604.7,1794.4 609.4,1795.6 614.1,1796.8 618.7,1798.1 620.6,1798.6 623.4,1799.4 628.0,1800.8 632.7,1802.1 637.3,1803.5 642.0,1805.0 646.7,1806.4 651.3,1807.9 656.0,1809.3 660.6,1810.8 665.3,1812.2 669.9,1813.7 672.7,1814.5 674.6,1815.1 679.3,1816.5 683.9,1817.8 688.6,1819.2 693.2,1820.4 697.9,1821.7 702.5,1822.9 707.2,1824.0 711.9,1825.1 716.5,1826.1 721.2,1827.0 724.8,1827.7 725.8,1827.8 730.5,1828.6 735.2,1829.2 739.8,1829.8 744.5,1830.3 749.1,1830.6 753.8,1830.8 758.4,1831.0 759.6,1831.0 763.1,1830.9 767.8,1830.8 772.4,1830.6 777.1,1830.2 781.7,1829.7 786.4,1829.1 791.0,1828.4 794.3,1827.8 795.7,1827.5 800.4,1826.6 805.0,1825.6 809.7,1824.5 814.3,1823.2 819.0,1821.9 823.6,1820.5 828.3,1819.0 829.1,1818.8 833.0,1817.5 837.6,1815.8 840.0,1815.0 842.3,1814.1 846.9,1812.3 851.6,1810.5 856.3,1808.6 860.9,1806.6 865.6,1804.6 870.2,1802.6 874.7,1800.6 874.9,1800.5 879.5,1798.4 884.2,1796.3 888.9,1794.1 893.5,1791.9 898.2,1789.8 902.8,1787.6 907.5,1785.4 909.5,1784.4 912.1,1783.2 916.8,1781.0 921.5,1778.8 926.1,1776.7 930.8,1774.6 935.4,1772.5 940.1,1770.4 944.2,1768.7 944.7,1768.4 949.4,1766.5 954.1,1764.6 958.7,1762.7 963.4,1760.9 968.0,1759.2 972.7,1757.5 977.4,1755.9 979.0,1755.4 982.0,1754.4 986.7,1753.0 991.3,1751.6 996.0,1750.4 1000.6,1749.2 1005.3,1748.1 1010.0,1747.1 1013.7,1746.3 1014.6,1746.1 1019.3,1745.3 1023.9,1744.5 1028.6,1743.8 1033.2,1743.2 1037.9,1742.6 1042.6,1742.1 1047.2,1741.7 1048.5,1741.6 1051.9,1741.4 1056.5,1741.2 1061.2,1741.0 1065.9,1740.9 1070.5,1740.9 1075.2,1740.9 1079.8,1741.0 1083.2,1741.1 1084.5,1741.2 1089.1,1741.5 1093.8,1741.8 1098.5,1742.2 1103.1,1742.7 1107.8,1743.2 1112.4,1743.8 1117.1,1744.5 1118.0,1744.6 1121.7,1745.2 1126.4,1746.0 1131.1,1746.9 1135.7,1747.9 1140.4,1748.9 1145.0,1750.0 1149.7,1751.1 1152.7,1751.9 1154.3,1752.4 1159.0,1753.7 1163.7,1755.1 1168.3,1756.6 1173.0,1758.2 1177.6,1759.9 1182.3,1761.6 1187.0,1763.4 1187.5,1763.7 1191.6,1765.4 1196.3,1767.4 1200.9,1769.4 1205.6,1771.6 1210.2,1773.7 1214.9,1775.9 1219.6,1778.1 1222.2,1779.4 1224.2,1780.3 1228.9,1782.5 1233.5,1784.7 1238.2,1786.8 1242.8,1788.8 1247.5,1790.7 1252.2,1792.5 1255.6,1793.7 1256.8,1794.2 1261.5,1795.6 1266.1,1796.9 1270.8,1798.0 1275.4,1798.8 1277.8,1799.1 1280.1,1799.3 1284.8,1799.6 1289.4,1799.6 1294.1,1799.3 1297.3,1798.9 1298.7,1798.7 1303.4,1797.8 1308.1,1796.5 1312.7,1795.0 1316.7,1793.3 1317.4,1793.1 1322.0,1790.8 1326.7,1788.2 1331.3,1785.3 1333.4,1783.9 1336.0,1782.1 1340.7,1778.7 1345.3,1774.9 1350.0,1770.9 1350.1,1770.7 1354.6,1766.6 1359.3,1762.1 1363.9,1757.3 1366.8,1754.4 1368.6,1752.4 1373.3,1747.4 1377.9,1742.2 1382.6,1736.9 1387.2,1731.4 1391.9,1726.0 1394.6,1722.8 1396.5,1720.4 1401.2,1714.8 1405.9,1709.3 1410.5,1703.7 1415.2,1698.2 1419.8,1692.8 1422.4,1689.8 1424.5,1687.4 1429.2,1682.1 1433.8,1677.0 1438.5,1671.9 1443.1,1667.0 1447.8,1662.1 1450.2,1659.7 1452.4,1657.4 1457.1,1652.8 1461.8,1648.3 1466.4,1644.0 1471.1,1639.8 1475.7,1635.7 1478.0,1633.8 1480.4,1631.8 1485.0,1628.0 1489.7,1624.4 1494.4,1620.8 1499.0,1617.4 1503.7,1614.1 1505.8,1612.7 1508.3,1611.0 1513.0,1607.9 1517.6,1604.9 1522.3,1602.0 1527.0,1599.2 1531.6,1596.4 1533.6,1595.3 1536.3,1593.8 1540.9,1591.1 1545.6,1588.6 1550.3,1586.1 1554.9,1583.6 1559.6,1581.2 1561.4,1580.2 1564.2,1578.8 1568.9,1576.4 1573.5,1574.0 1578.2,1571.7" fill="none" stroke="#FFA0A0" stroke-width="5" stroke-linejoin="round"/>
<path d="M371.0,1694.0 L373.2,1670.5 L375.2,1694.0" fill="none" stroke="#FFA0A0" stroke-width="2.4" stroke-linejoin="miter"/>
<path d="M371.0,1693.0 L373.2,1670.5 L375.2,1693.0" fill="none" stroke="#80FF80" stroke-width="2.4" stroke-linejoin="miter"/>
<path d="M371.0,1742.0 L373.2,1728.0 L375.2,1742.0" fill="none" stroke="#80FF80" stroke-width="2.4" stroke-linejoin="miter"/>
<path d="M371.0,1771.0 L373.2,1755.0 L375.2,1771.0" fill="none" stroke="#FFA0A0" stroke-width="4" stroke-linejoin="miter"/>
<path d="M371.0,1793.0 L373.2,1773.0 L375.2,1793.0" fill="none" stroke="#0080FF" stroke-width="4" stroke-linejoin="miter"/>
<path d="M371.0,1826.0 L373.2,1804.0 L375.2,1826.0" fill="none" stroke="#8080FF" stroke-width="2.4" stroke-linejoin="miter"/>
<path d="M371.0,1822.0 L373.2,1850.0 L375.2,1822.0" fill="none" stroke="#0080FF" stroke-width="3.5" stroke-linejoin="miter"/>
<text transform="translate(330.3 1336.1) scale(1 1.028)" font-family="Liberation Sans, sans-serif" font-weight="bold" font-size="60.4" text-anchor="end">0</text>
<text transform="translate(330.3 1496.1) scale(1 1.028)" font-family="Liberation Sans, sans-serif" font-weight="bold" font-size="60.4" text-anchor="end">-10</text>
<text transform="translate(330.3 1656.1) scale(1 1.028)" font-family="Liberation Sans, sans-serif" font-weight="bold" font-size="60.4" text-anchor="end">-20</text>
<text transform="translate(330.3 1816.1) scale(1 1.028)" font-family="Liberation Sans, sans-serif" font-weight="bold" font-size="60.4" text-anchor="end">-30</text>
<text transform="translate(330.3 1976.1) scale(1 1.028)" font-family="Liberation Sans, sans-serif" font-weight="bold" font-size="60.4" text-anchor="end">-40</text>
<text transform="translate(330.3 2136.1) scale(1 1.028)" font-family="Liberation Sans, sans-serif" font-weight="bold" font-size="60.4" text-anchor="end">-50</text>
<text transform="translate(372.6 2216.3) scale(1 1.028)" font-family="Liberation Sans, sans-serif" font-weight="bold" font-size="60.4" text-anchor="middle">0</text>
<text transform="translate(573.5 2216.3) scale(1 1.028)" font-family="Liberation Sans, sans-serif" font-weight="bold" font-size="60.4" text-anchor="middle">20</text>
<text transform="translate(774.4 2216.3) scale(1 1.028)" font-family="Liberation Sans, sans-serif" font-weight="bold" font-size="60.4" text-anchor="middle">40</text>
<text transform="translate(975.2 2216.3) scale(1 1.028)" font-family="Liberation Sans, sans-serif" font-weight="bold" font-size="60.4" text-anchor="middle">60</text>
<text transform="translate(1176.1 2216.3) scale(1 1.028)" font-family="Liberation Sans, sans-serif" font-weight="bold" font-size="60.4" text-anchor="middle">80</text>
<text transform="translate(1376.9 2216.3) scale(1 1.028)" font-family="Liberation Sans, sans-serif" font-weight="bold" font-size="60.4" text-anchor="middle">100</text>
<text transform="translate(1577.8 2216.3) scale(1 1.028)" font-family="Liberation Sans, sans-serif" font-weight="bold" font-size="60.4" text-anchor="middle">120</text>
<text transform="translate(975.4 2299.3) scale(1 1.028)" font-family="Liberation Sans, sans-serif" font-weight="bold" font-size="66.1" text-anchor="middle">Frequency (GHz)</text>
<text transform="translate(188.3 1711.8) rotate(-90) scale(0.988 1.04)" font-family="Liberation Sans, sans-serif" font-weight="bold" font-size="66.1" text-anchor="middle">Return loss (dB)</text>
<path d="M1760,1367.5 H1847.1" stroke="#FFA0A0" stroke-width="5" fill="none"/>
<text transform="translate(1894.6 1389.8) scale(1 1.028)" font-family="Liberation Sans, sans-serif" font-size="66" text-anchor="start">I1</text>
<path d="M1760,1474.7 H1847.1" stroke="#80FF80" stroke-width="5" fill="none"/>
<text transform="translate(1894.6 1497.0) scale(1 1.028)" font-family="Liberation Sans, sans-serif" font-size="66" text-anchor="start">I2</text>
<path d="M1760,1581.9 H1847.1" stroke="#0080FF" stroke-width="5" fill="none"/>
<text transform="translate(1894.6 1604.2) scale(1 1.028)" font-family="Liberation Sans, sans-serif" font-size="66" text-anchor="start">I3</text>
<path d="M1760,1689.1 H1847.1" stroke="#8080FF" stroke-width="5" fill="none"/>
<text transform="translate(1894.6 1711.4) scale(1 1.028)" font-family="Liberation Sans, sans-serif" font-size="66" text-anchor="start">I4</text>
<path d="M1760,1796.3 H1847.1" stroke="#FFA0A0" stroke-width="5" fill="none"/>
<text transform="translate(1894.6 1818.6) scale(1 1.028)" font-family="Liberation Sans, sans-serif" font-size="66" text-anchor="start">O1</text>
<path d="M1760,1903.5 H1847.1" stroke="#80FF80" stroke-width="5" fill="none"/>
<text transform="translate(1894.6 1925.8) scale(1 1.028)" font-family="Liberation Sans, sans-serif" font-size="66" text-anchor="start">O2</text>
<path d="M1760,2010.7 H1847.1" stroke="#0080FF" stroke-width="5" fill="none"/>
<text transform="translate(1894.6 2033.0) scale(1 1.028)" font-family="Liberation Sans, sans-serif" font-size="66" text-anchor="start">O3</text>
<path d="M1760,2117.9 H1847.1" stroke="#8080FF" stroke-width="5" fill="none"/>
<text transform="translate(1894.6 2140.2) scale(1 1.028)" font-family="Liberation Sans, sans-serif" font-size="66" text-anchor="start">O4</text>
<g fill="#000">
<ellipse cx="413.2" cy="2463.9" rx="4.8" ry="4.75"/>
<ellipse cx="439.0" cy="2463.9" rx="4.8" ry="4.75"/>
<ellipse cx="464.9" cy="2463.9" rx="4.8" ry="4.75"/>
<ellipse cx="490.7" cy="2463.9" rx="4.8" ry="4.75"/>
<ellipse cx="516.6" cy="2463.9" rx="4.8" ry="4.75"/>
<ellipse cx="542.4" cy="2463.9" rx="4.8" ry="4.75"/>
<ellipse cx="568.2" cy="2463.9" rx="4.8" ry="4.75"/>
<ellipse cx="594.1" cy="2463.9" rx="4.8" ry="4.75"/>
<ellipse cx="619.9" cy="2463.9" rx="4.8" ry="4.75"/>
<ellipse cx="645.8" cy="2463.9" rx="4.8" ry="4.75"/>
<ellipse cx="671.6" cy="2463.9" rx="4.8" ry="4.75"/>
<ellipse cx="697.4" cy="2463.9" rx="4.8" ry="4.75"/>
<ellipse cx="723.3" cy="2463.9" rx="4.8" ry="4.75"/>
<ellipse cx="749.1" cy="2463.9" rx="4.8" ry="4.75"/>
<ellipse cx="775.0" cy="2463.9" rx="4.8" ry="4.75"/>
<ellipse cx="800.8" cy="2463.9" rx="4.8" ry="4.75"/>
<ellipse cx="826.6" cy="2463.9" rx="4.8" ry="4.75"/>
<ellipse cx="852.5" cy="2463.9" rx="4.8" ry="4.75"/>
<ellipse cx="878.3" cy="2463.9" rx="4.8" ry="4.75"/>
<ellipse cx="904.2" cy="2463.9" rx="4.8" ry="4.75"/>
<ellipse cx="930.0" cy="2463.9" rx="4.8" ry="4.75"/>
<ellipse cx="955.8" cy="2463.9" rx="4.8" ry="4.75"/>
<ellipse cx="981.7" cy="2463.9" rx="4.8" ry="4.75"/>
<ellipse cx="1007.5" cy="2463.9" rx="4.8" ry="4.75"/>
<ellipse cx="1033.4" cy="2463.9" rx="4.8" ry="4.75"/>
<ellipse cx="1059.2" cy="2463.9" rx="4.8" ry="4.75"/>
<ellipse cx="1085.0" cy="2463.9" rx="4.8" ry="4.75"/>
<ellipse cx="1110.9" cy="2463.9" rx="4.8" ry="4.75"/>
<ellipse cx="1136.7" cy="2463.9" rx="4.8" ry="4.75"/>
<ellipse cx="1162.6" cy="2463.9" rx="4.8" ry="4.75"/>
<ellipse cx="1188.4" cy="2463.9" rx="4.8" ry="4.75"/>
<ellipse cx="1214.2" cy="2463.9" rx="4.8" ry="4.75"/>
<ellipse cx="1240.1" cy="2463.9" rx="4.8" ry="4.75"/>
<ellipse cx="1265.9" cy="2463.9" rx="4.8" ry="4.75"/>
<ellipse cx="1291.8" cy="2463.9" rx="4.8" ry="4.75"/>
<ellipse cx="1317.6" cy="2463.9" rx="4.8" ry="4.75"/>
<ellipse cx="1343.4" cy="2463.9" rx="4.8" ry="4.75"/>
<ellipse cx="1369.3" cy="2463.9" rx="4.8" ry="4.75"/>
<ellipse cx="1395.1" cy="2463.9" rx="4.8" ry="4.75"/>
<ellipse cx="1421.0" cy="2463.9" rx="4.8" ry="4.75"/>
<ellipse cx="1446.8" cy="2463.9" rx="4.8" ry="4.75"/>
<ellipse cx="1472.6" cy="2463.9" rx="4.8" ry="4.75"/>
<ellipse cx="1498.5" cy="2463.9" rx="4.8" ry="4.75"/>
<ellipse cx="1524.3" cy="2463.9" rx="4.8" ry="4.75"/>
<ellipse cx="1550.2" cy="2463.9" rx="4.8" ry="4.75"/>
<ellipse cx="1576.0" cy="2463.9" rx="4.8" ry="4.75"/>
<ellipse cx="1601.8" cy="2463.9" rx="4.8" ry="4.75"/>
<ellipse cx="1627.7" cy="2463.9" rx="4.8" ry="4.75"/>
<ellipse cx="1653.5" cy="2463.9" rx="4.8" ry="4.75"/>
</g>
<g stroke="#000" stroke-width="9.5" fill="none" stroke-linecap="butt">
<path d="M387.0,2459.4 V3330.3"/>
<path d="M382.2,3325.6 H1684.0"/>
<path d="M350.2,2464.2 H387.0"/>
<path d="M350.2,2679.5 H387.0"/>
<path d="M350.2,2894.9 H387.0"/>
<path d="M350.2,3110.2 H387.0"/>
<path d="M350.2,3325.6 H387.0"/>
<path d="M387.0,3325.6 V3362.3"/>
<path d="M602.4,3325.6 V3362.3"/>
<path d="M817.7,3325.6 V3362.3"/>
<path d="M1033.1,3325.6 V3362.3"/>
<path d="M1248.5,3325.6 V3362.3"/>
<path d="M1463.8,3325.6 V3362.3"/>
<path d="M1679.2,3325.6 V3362.3"/>
</g>
<path d="M387.0,2464.2 393.5,2465.9 400.0,2467.5 406.5,2469.2 413.0,2470.8 419.5,2472.5 426.0,2474.2 432.5,2475.8 438.9,2477.5 445.4,2479.1 451.9,2480.8 458.4,2482.5 464.9,2484.1 471.4,2485.8 477.9,2487.4 484.4,2489.1 490.9,2490.7 497.4,2492.4 503.9,2494.1 510.4,2495.7 516.9,2497.4 523.4,2499.0 529.9,2500.7 536.3,2502.3 542.8,2504.0 549.3,2505.7 555.8,2507.3 562.3,2509.0 568.8,2510.6 575.3,2512.3 581.8,2513.9 588.3,2515.6 594.8,2517.2 601.3,2518.9 607.8,2520.6 614.3,2522.2 620.8,2523.9 627.3,2525.5 633.8,2527.2 640.2,2528.8 646.7,2530.5 653.2,2532.1 659.7,2533.8 666.2,2535.4 672.7,2537.1 679.2,2538.7 685.7,2540.4 692.2,2542.0 698.7,2543.7 705.2,2545.3 711.7,2547.0 718.2,2548.6 719.7,2549.0 724.7,2550.3 731.2,2552.0 737.6,2553.6 744.1,2555.3 750.6,2556.9 757.1,2558.6 763.6,2560.2 770.1,2561.9 776.6,2563.5 783.1,2565.2 789.6,2566.9 796.1,2568.5 802.6,2570.2 809.1,2571.8 815.6,2573.5 822.1,2575.2 828.6,2576.8 835.0,2578.5 841.5,2580.1 848.0,2581.8 854.5,2583.5 861.0,2585.1 867.5,2586.8 874.0,2588.4 880.5,2590.1 887.0,2591.7 893.5,2593.4 900.0,2595.0 906.5,2596.7 913.0,2598.3 919.5,2600.0 926.0,2601.6 932.5,2603.2 938.9,2604.9 945.4,2606.5 951.9,2608.1 958.4,2609.8 964.9,2611.4 971.4,2613.0 977.9,2614.6 984.4,2616.2 990.9,2617.8 997.4,2619.5 1000.0,2620.1 1003.9,2621.1 1010.4,2622.7 1016.9,2624.3 1023.4,2625.9 1029.9,2627.4 1036.3,2629.0 1042.8,2630.6 1049.3,2632.2 1055.8,2633.8 1062.3,2635.4 1068.8,2637.0 1075.3,2638.5 1081.8,2640.1 1088.3,2641.7 1094.8,2643.2 1101.3,2644.8 1107.8,2646.4 1114.3,2647.9 1120.8,2649.5 1127.3,2651.1 1133.7,2652.6 1140.2,2654.2 1146.7,2655.7 1153.2,2657.3 1159.7,2658.8 1166.2,2660.4 1172.7,2661.9 1179.2,2663.5 1185.7,2665.1 1192.2,2666.6 1198.7,2668.2 1205.2,2669.7 1211.7,2671.3 1218.2,2672.8 1224.7,2674.4 1231.2,2675.9 1237.6,2677.4 1244.1,2679.0 1250.6,2680.5 1257.1,2682.1 1263.6,2683.6 1270.1,2685.2 1276.6,2686.8 1283.1,2688.3 1289.6,2689.9 1296.1,2691.4 1302.6,2693.0 1309.1,2694.5 1315.6,2696.1 1322.1,2697.6 1328.6,2699.2 1335.0,2700.8 1340.0,2701.9 1341.5,2702.3 1348.0,2703.9 1354.5,2705.4 1361.0,2707.0 1367.5,2708.6 1374.0,2710.1 1380.5,2711.7 1387.0,2713.3 1393.5,2714.8 1400.0,2716.4 1406.5,2717.9 1413.0,2719.5 1419.5,2721.1 1426.0,2722.6 1432.4,2724.2 1438.9,2725.8 1445.4,2727.3 1451.9,2728.9 1458.4,2730.4 1464.9,2732.0 1471.4,2733.6 1477.9,2735.1 1484.4,2736.7 1490.9,2738.3 1497.4,2739.8 1503.9,2741.4 1510.4,2742.9 1516.9,2744.5 1523.4,2746.1 1529.9,2747.6 1536.3,2749.2 1542.8,2750.8 1549.3,2752.3 1555.8,2753.9 1562.3,2755.4 1568.8,2757.0 1575.3,2758.6 1581.8,2760.1 1588.3,2761.7 1594.8,2763.3 1601.3,2764.8 1607.8,2766.4 1614.3,2767.9 1620.8,2769.5 1627.3,2771.1 1633.7,2772.6 1640.2,2774.2 1646.7,2775.8 1653.2,2777.3 1659.7,2778.9 1666.2,2780.4 1672.7,2782.0 1679.2,2783.6" fill="none" stroke="#8000FF" stroke-opacity="0.75" stroke-width="5.2" stroke-linejoin="round"/>
<path d="M387.0,2464.2 393.5,2465.9 400.0,2467.6 406.5,2469.2 413.0,2470.9 419.5,2472.6 426.0,2474.3 432.5,2475.9 438.9,2477.6 445.4,2479.3 451.9,2481.0 458.4,2482.6 464.9,2484.3 471.4,2486.0 477.9,2487.7 484.4,2489.3 490.9,2491.0 497.4,2492.7 503.9,2494.3 510.4,2496.0 516.9,2497.7 523.4,2499.4 529.9,2501.0 536.3,2502.7 542.8,2504.4 549.3,2506.1 555.8,2507.7 562.3,2509.4 568.8,2511.1 575.3,2512.7 581.8,2514.4 588.3,2516.1 594.8,2517.8 601.3,2519.4 607.8,2521.1 614.3,2522.8 620.8,2524.4 627.3,2526.1 633.8,2527.8 640.2,2529.5 646.7,2531.1 653.2,2532.8 659.7,2534.5 666.2,2536.1 672.7,2537.8 679.2,2539.5 685.7,2541.2 692.2,2542.8 698.7,2544.5 705.2,2546.2 711.7,2547.8 718.2,2549.5 719.7,2549.9 724.7,2551.2 731.2,2552.8 737.6,2554.5 744.1,2556.2 750.6,2557.9 757.1,2559.5 763.6,2561.2 770.1,2562.9 776.6,2564.6 783.1,2566.3 789.6,2567.9 796.1,2569.6 802.6,2571.3 809.1,2573.0 815.6,2574.7 822.1,2576.3 828.6,2578.0 835.0,2579.7 841.5,2581.4 848.0,2583.1 854.5,2584.7 861.0,2586.4 867.5,2588.1 874.0,2589.8 880.5,2591.4 887.0,2593.1 893.5,2594.8 900.0,2596.4 906.5,2598.1 913.0,2599.8 919.5,2601.4 926.0,2603.1 932.5,2604.8 938.9,2606.4 945.4,2608.1 951.9,2609.7 958.4,2611.4 964.9,2613.0 971.4,2614.6 977.9,2616.3 984.4,2617.9 990.9,2619.5 997.4,2621.2 1000.0,2621.8 1003.9,2622.8 1010.4,2624.4 1016.9,2626.0 1023.4,2627.6 1029.9,2629.3 1036.3,2630.9 1042.8,2632.5 1049.3,2634.1 1055.8,2635.7 1062.3,2637.3 1068.8,2638.9 1075.3,2640.5 1081.8,2642.0 1088.3,2643.6 1094.8,2645.2 1101.3,2646.8 1107.8,2648.4 1114.3,2650.0 1120.8,2651.5 1127.3,2653.1 1133.7,2654.7 1140.2,2656.3 1146.7,2657.8 1153.2,2659.4 1159.7,2661.0 1166.2,2662.6 1172.7,2664.1 1179.2,2665.7 1185.7,2667.3 1192.2,2668.8 1198.7,2670.4 1205.2,2672.0 1211.7,2673.5 1218.2,2675.1 1224.7,2676.7 1231.2,2678.2 1237.6,2679.8 1244.1,2681.3 1250.6,2682.9 1257.1,2684.5 1263.6,2686.0 1270.1,2687.6 1276.6,2689.2 1283.1,2690.7 1289.6,2692.3 1296.1,2693.9 1302.6,2695.5 1309.1,2697.0 1315.6,2698.6 1322.1,2700.2 1328.6,2701.7 1335.0,2703.3 1340.0,2704.5 1341.5,2704.9 1348.0,2706.5 1354.5,2708.1 1361.0,2709.6 1367.5,2711.2 1374.0,2712.8 1380.5,2714.4 1387.0,2716.0 1393.5,2717.5 1400.0,2719.1 1406.5,2720.7 1413.0,2722.3 1419.5,2723.9 1426.0,2725.4 1432.4,2727.0 1438.9,2728.6 1445.4,2730.2 1451.9,2731.8 1458.4,2733.3 1464.9,2734.9 1471.4,2736.5 1477.9,2738.1 1484.4,2739.6 1490.9,2741.2 1497.4,2742.8 1503.9,2744.4 1510.4,2746.0 1516.9,2747.5 1523.4,2749.1 1529.9,2750.7 1536.3,2752.3 1542.8,2753.9 1549.3,2755.4 1555.8,2757.0 1562.3,2758.6 1568.8,2760.2 1575.3,2761.8 1581.8,2763.3 1588.3,2764.9 1594.8,2766.5 1601.3,2768.1 1607.8,2769.6 1614.3,2771.2 1620.8,2772.8 1627.3,2774.4 1633.7,2776.0 1640.2,2777.5 1646.7,2779.1 1653.2,2780.7 1659.7,2782.3 1666.2,2783.9 1672.7,2785.4 1679.2,2787.0" fill="none" stroke="#00FF00" stroke-opacity="0.75" stroke-width="5.6" stroke-linejoin="round"/>
<path d="M387.0,2464.2 393.5,2468.7 400.0,2473.3 406.5,2477.8 413.0,2482.2 418.7,2486.2 419.5,2486.7 426.0,2491.2 432.5,2495.7 438.9,2500.1 445.4,2504.6 451.9,2509.0 458.4,2513.4 464.9,2517.7 467.3,2519.3 471.4,2522.0 477.9,2526.2 484.4,2530.4 490.9,2534.5 497.4,2538.6 503.9,2542.7 510.4,2546.8 515.9,2550.3 516.9,2551.0 523.4,2555.1 529.9,2559.2 536.3,2563.3 542.8,2567.4 549.3,2571.5 555.8,2575.6 562.3,2579.7 564.6,2581.1 568.8,2583.8 575.3,2587.9 581.8,2592.0 588.3,2596.1 594.8,2600.2 601.3,2604.2 607.8,2608.2 613.1,2611.5 614.3,2612.2 620.8,2616.1 627.3,2620.0 633.8,2623.8 640.2,2627.7 646.7,2631.5 653.2,2635.4 659.7,2639.3 661.9,2640.6 666.2,2643.2 672.7,2647.1 679.2,2651.1 685.7,2655.0 692.2,2659.0 698.7,2663.0 705.2,2667.0 711.7,2670.9 718.2,2674.9 719.7,2675.9 724.7,2678.9 731.2,2682.9 737.6,2686.9 744.1,2690.9 750.6,2694.9 757.1,2698.9 763.6,2702.9 770.1,2706.9 776.6,2710.9 783.1,2714.9 789.6,2718.9 796.1,2722.9 802.6,2727.0 809.1,2731.0 815.6,2735.0 822.1,2739.0 828.6,2743.0 835.0,2747.1 841.5,2751.1 848.0,2755.1 854.5,2759.1 861.0,2763.2 867.5,2767.2 874.0,2771.2 880.5,2775.2 887.0,2779.3 893.5,2783.3 900.0,2787.3 906.5,2791.3 913.0,2795.4 919.5,2799.4 926.0,2803.4 932.5,2807.4 938.9,2811.4 945.4,2815.4 951.9,2819.4 958.4,2823.4 964.9,2827.4 971.4,2831.4 977.9,2835.4 984.4,2839.4 990.9,2843.4 997.4,2847.4 1000.0,2849.0 1003.9,2851.4 1010.4,2855.4 1016.9,2859.3 1023.4,2863.3 1029.9,2867.3 1036.3,2871.3 1042.8,2875.3 1049.3,2879.2 1055.8,2883.2 1062.3,2887.2 1068.8,2891.2 1075.3,2895.1 1081.8,2899.1 1088.3,2903.1 1094.8,2907.1 1101.3,2911.0 1107.8,2915.0 1114.3,2919.0 1120.8,2922.9 1127.3,2926.9 1133.7,2930.8 1140.2,2934.8 1146.7,2938.8 1153.2,2942.7 1159.7,2946.7 1166.2,2950.6 1172.7,2954.6 1179.2,2958.5 1185.7,2962.5 1192.2,2966.4 1198.7,2970.4 1205.2,2974.3 1211.7,2978.3 1218.2,2982.2 1224.7,2986.1 1231.2,2990.1 1237.6,2994.0 1244.1,2997.9 1250.6,3001.9 1257.1,3005.8 1263.6,3009.7 1270.1,3013.6 1276.6,3017.5 1283.1,3021.4 1289.6,3025.4 1296.1,3029.3 1300.0,3031.6 1302.6,3033.2 1309.1,3037.1 1315.6,3041.0 1322.1,3044.9 1328.6,3048.8 1335.0,3052.7 1341.5,3056.6 1348.0,3060.5 1354.5,3064.4 1361.0,3068.2 1367.5,3072.1 1374.0,3076.0 1380.5,3079.9 1387.0,3083.8 1393.5,3087.7 1400.0,3091.5 1406.5,3095.4 1413.0,3099.3 1419.5,3103.2 1426.0,3107.1 1432.4,3110.9 1438.9,3114.8 1445.4,3118.7 1451.9,3122.5 1458.4,3126.4 1464.9,3130.3 1471.4,3134.1 1477.9,3138.0 1484.4,3141.8 1490.9,3145.7 1497.4,3149.5 1503.9,3153.4 1510.4,3157.2 1516.9,3161.1 1523.4,3164.9 1529.9,3168.8 1536.3,3172.6 1542.8,3176.5 1549.3,3180.3 1555.8,3184.1 1562.3,3188.0 1568.8,3191.8 1575.3,3195.6 1581.8,3199.5 1588.3,3203.3 1594.8,3207.1 1601.3,3211.0 1607.8,3214.8 1614.3,3218.6 1620.8,3222.4 1627.3,3226.2 1633.7,3230.0 1640.2,3233.9 1646.7,3237.7 1653.2,3241.5 1659.7,3245.3 1666.2,3249.1 1672.7,3252.9 1679.2,3256.7" fill="none" stroke="#0000FF" stroke-opacity="0.75" stroke-width="5.7" stroke-linejoin="round"/>
<path d="M387.0,2464.2 393.5,2468.0 400.0,2471.8 406.5,2475.5 413.0,2479.3 419.5,2483.1 426.0,2486.8 432.5,2490.5 438.9,2494.3 445.4,2498.0 451.9,2501.7 458.4,2505.4 464.9,2509.1 467.3,2510.5 471.4,2512.8 477.9,2516.5 484.4,2520.1 490.9,2523.7 497.4,2527.4 503.9,2531.0 510.4,2534.6 516.9,2538.2 523.4,2541.8 529.9,2545.4 536.3,2549.0 542.8,2552.6 549.3,2556.3 555.8,2560.0 562.3,2563.7 564.6,2565.0 568.8,2567.4 575.3,2571.2 581.8,2575.0 588.3,2578.8 594.8,2582.7 601.3,2586.5 607.8,2590.4 614.3,2594.3 620.8,2598.2 627.3,2602.1 633.8,2606.0 640.2,2609.9 646.7,2613.8 653.2,2617.7 659.7,2621.7 666.2,2625.6 672.7,2629.5 679.2,2633.4 685.7,2637.3 692.2,2641.1 698.7,2645.0 705.2,2648.8 711.7,2652.7 718.2,2656.5 719.7,2657.4 724.7,2660.2 731.2,2664.0 737.6,2667.8 744.1,2671.5 750.6,2675.3 757.1,2679.0 763.6,2682.7 770.1,2686.4 776.6,2690.2 783.1,2693.9 789.6,2697.6 796.1,2701.3 802.6,2705.0 809.1,2708.7 815.6,2712.3 822.1,2716.0 828.6,2719.7 835.0,2723.4 841.5,2727.0 848.0,2730.7 854.5,2734.4 861.0,2738.0 867.5,2741.7 874.0,2745.3 880.5,2749.0 887.0,2752.6 893.5,2756.3 900.0,2759.9 906.5,2763.6 913.0,2767.2 919.5,2770.9 926.0,2774.5 932.5,2778.2 938.9,2781.8 945.4,2785.5 951.9,2789.1 958.4,2792.8 964.9,2796.5 971.4,2800.1 977.9,2803.8 984.4,2807.4 990.9,2811.1 997.4,2814.8 1000.0,2816.3 1003.9,2818.5 1010.4,2822.2 1016.9,2825.8 1023.4,2829.5 1029.9,2833.2 1036.3,2836.9 1042.8,2840.6 1049.3,2844.3 1055.8,2847.9 1062.3,2851.6 1068.8,2855.3 1075.3,2859.0 1081.8,2862.7 1088.3,2866.4 1094.8,2870.1 1101.3,2873.8 1107.8,2877.4 1114.3,2881.1 1120.8,2884.8 1127.3,2888.5 1133.7,2892.2 1140.2,2895.9 1146.7,2899.6 1153.2,2903.2 1159.7,2906.9 1166.2,2910.6 1172.7,2914.3 1179.2,2918.0 1185.7,2921.6 1192.2,2925.3 1198.7,2929.0 1205.2,2932.7 1211.7,2936.3 1218.2,2940.0 1224.7,2943.7 1231.2,2947.4 1237.6,2951.0 1244.1,2954.7 1250.6,2958.3 1257.1,2962.0 1263.6,2965.6 1270.1,2969.3 1276.6,2973.0 1283.1,2976.6 1289.6,2980.2 1296.1,2983.9 1300.0,2986.1 1302.6,2987.5 1309.1,2991.1 1315.6,2994.8 1322.1,2998.4 1328.6,3002.0 1335.0,3005.6 1341.5,3009.2 1348.0,3012.8 1354.5,3016.4 1361.0,3020.0 1367.5,3023.6 1374.0,3027.2 1380.5,3030.8 1387.0,3034.4 1393.5,3038.1 1400.0,3041.7 1400.0,3041.7 1406.5,3045.3 1413.0,3048.9 1419.5,3052.5 1426.0,3056.1 1432.4,3059.7 1438.9,3063.3 1445.4,3067.0 1451.9,3070.6 1458.4,3074.2 1464.9,3077.8 1471.4,3081.4 1477.9,3085.0 1484.4,3088.7 1490.9,3092.3 1497.4,3095.9 1503.9,3099.5 1510.4,3103.1 1516.9,3106.7 1523.4,3110.4 1529.9,3114.0 1536.3,3117.6 1542.8,3121.2 1549.3,3124.8 1555.8,3128.4 1562.3,3132.1 1568.8,3135.7 1575.3,3139.3 1581.8,3142.9 1588.3,3146.5 1594.8,3150.2 1601.3,3153.8 1607.8,3157.4 1614.3,3161.0 1620.8,3164.6 1627.3,3168.3 1633.7,3171.9 1640.2,3175.5 1646.7,3179.1 1653.2,3182.8 1659.7,3186.4 1666.2,3190.0 1672.7,3193.6 1679.2,3197.3" fill="none" stroke="#FF0000" stroke-opacity="0.75" stroke-width="5.7" stroke-linejoin="round"/>
<text transform="translate(342.3 2488.1) scale(1 1.03)" font-family="Liberation Sans, sans-serif" font-weight="bold" font-size="64.8" text-anchor="end">0</text>
<text transform="translate(342.3 2703.4) scale(1 1.03)" font-family="Liberation Sans, sans-serif" font-weight="bold" font-size="64.8" text-anchor="end">-100</text>
<text transform="translate(342.3 2918.8) scale(1 1.03)" font-family="Liberation Sans, sans-serif" font-weight="bold" font-size="64.8" text-anchor="end">-200</text>
<text transform="translate(342.3 3134.2) scale(1 1.03)" font-family="Liberation Sans, sans-serif" font-weight="bold" font-size="64.8" text-anchor="end">-300</text>
<text transform="translate(342.3 3349.5) scale(1 1.03)" font-family="Liberation Sans, sans-serif" font-weight="bold" font-size="64.8" text-anchor="end">-400</text>
<text transform="translate(387.0 3433.8) scale(1 1.03)" font-family="Liberation Sans, sans-serif" font-weight="bold" font-size="64.8" text-anchor="middle">0</text>
<text transform="translate(602.4 3433.8) scale(1 1.03)" font-family="Liberation Sans, sans-serif" font-weight="bold" font-size="64.8" text-anchor="middle">20</text>
<text transform="translate(817.7 3433.8) scale(1 1.03)" font-family="Liberation Sans, sans-serif" font-weight="bold" font-size="64.8" text-anchor="middle">40</text>
<text transform="translate(1033.1 3433.8) scale(1 1.03)" font-family="Liberation Sans, sans-serif" font-weight="bold" font-size="64.8" text-anchor="middle">60</text>
<text transform="translate(1248.5 3433.8) scale(1 1.03)" font-family="Liberation Sans, sans-serif" font-weight="bold" font-size="64.8" text-anchor="middle">80</text>
<text transform="translate(1463.8 3433.8) scale(1 1.03)" font-family="Liberation Sans, sans-serif" font-weight="bold" font-size="64.8" text-anchor="middle">100</text>
<text transform="translate(1679.2 3433.8) scale(1 1.03)" font-family="Liberation Sans, sans-serif" font-weight="bold" font-size="64.8" text-anchor="middle">120</text>
<text transform="translate(1034.0 3523.5) scale(1 1.03)" font-family="Liberation Sans, sans-serif" font-weight="bold" font-size="70.9" text-anchor="middle">Frequency (GHz)</text>
<text transform="translate(173.1 2892.7) rotate(-90) scale(0.99 1.04)" font-family="Liberation Sans, sans-serif" font-weight="bold" font-size="70.9" text-anchor="middle">Phase (°)</text>
<path d="M1686,2482.5 H1779.1" stroke="#FF4040" stroke-width="5.3" fill="none"/>
<text transform="translate(1830.1 2507.1) scale(1 1.03)" font-family="Liberation Sans, sans-serif" font-size="70.8" text-anchor="start">I1/O2</text>
<path d="M1686,2598.1 H1779.1" stroke="#4040FF" stroke-width="5.3" fill="none"/>
<text transform="translate(1830.1 2622.7) scale(1 1.03)" font-family="Liberation Sans, sans-serif" font-size="70.8" text-anchor="start">I2/O1</text>
<path d="M1686,2713.7 H1779.1" stroke="#40FF40" stroke-width="5.3" fill="none"/>
<text transform="translate(1830.1 2738.3) scale(1 1.03)" font-family="Liberation Sans, sans-serif" font-size="70.8" text-anchor="start">I3/O4</text>
<path d="M1686,2829.3 H1779.1" stroke="#A040FF" stroke-width="5.3" fill="none"/>
<text transform="translate(1830.1 2853.9) scale(1 1.03)" font-family="Liberation Sans, sans-serif" font-size="70.8" text-anchor="start">I4/O3</text>
<text transform="translate(1056.0 1252.7)" font-family="Liberation Serif, serif" font-size="76.6" text-anchor="middle">(i)</text>
<text transform="translate(1056.5 2401.1)" font-family="Liberation Serif, serif" font-size="76.6" text-anchor="middle">(ii)</text>
<text transform="translate(1056.1 3639.0)" font-family="Liberation Serif, serif" font-size="76.6" text-anchor="middle">(iii)</text>
<text transform="translate(1056.7 3748.4)" font-family="Liberation Serif, serif" font-size="84" text-anchor="middle">(<tspan font-weight="bold">d</tspan>)</text>
</svg>
</body>
</html>
